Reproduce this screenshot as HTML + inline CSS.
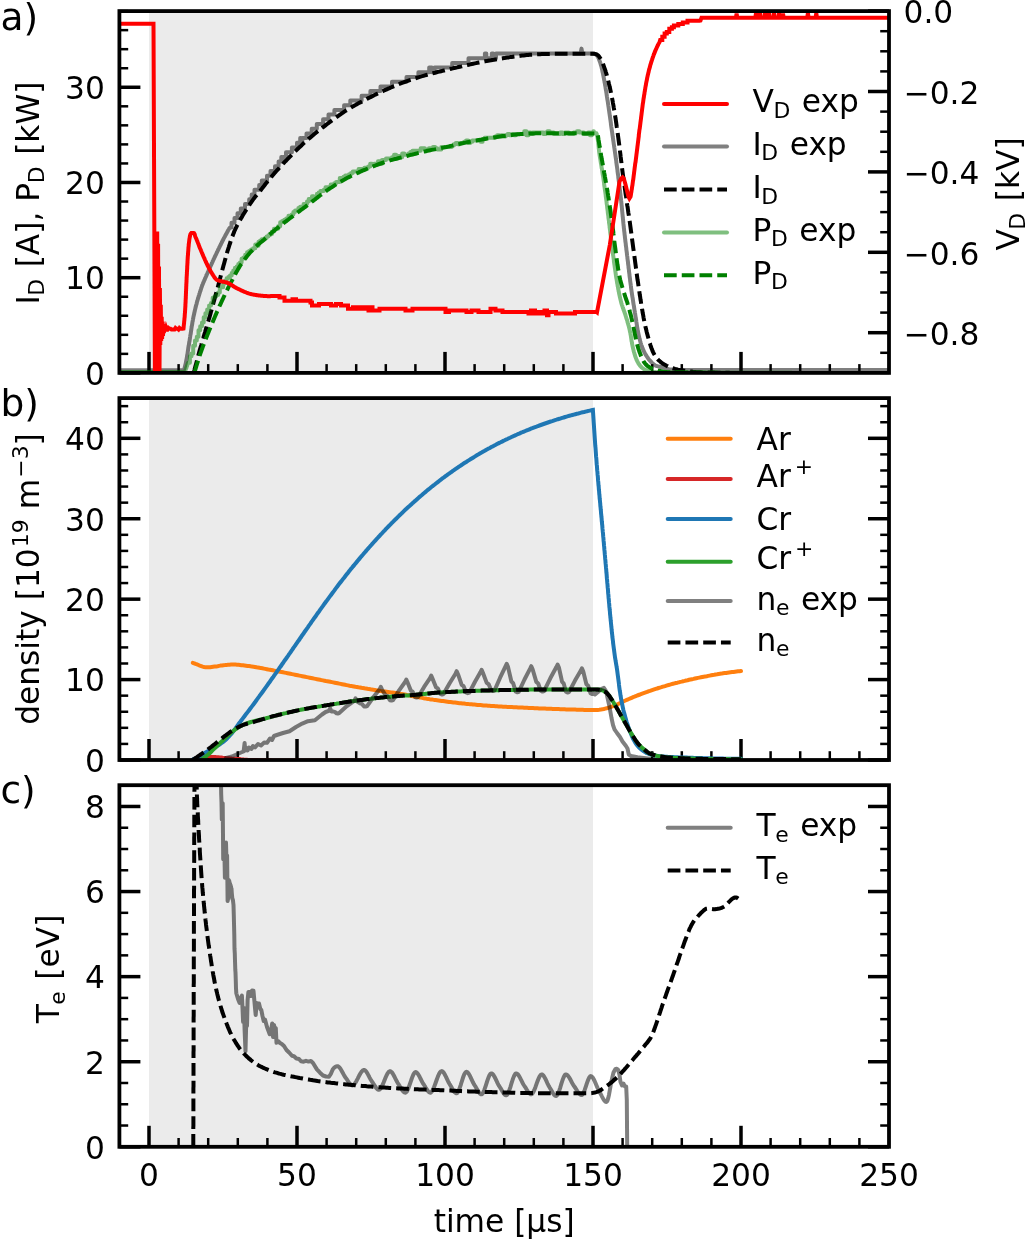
<!DOCTYPE html>
<html><head><meta charset="utf-8"><title>figure</title>
<style>html,body{margin:0;padding:0;background:#fff}svg{display:block}text{font-family:"DejaVu Sans","Liberation Sans",sans-serif;fill:#000}</style>
</head><body>
<svg width="1025" height="1239" viewBox="0 0 1025 1239">
<defs><clipPath id="clipa"><rect x="119.4" y="11.1" width="769.6" height="361.79999999999995"/></clipPath><clipPath id="clipb"><rect x="119.4" y="398.1" width="769.6" height="361.9"/></clipPath><clipPath id="clipc"><rect x="119.4" y="785.2" width="769.6" height="361.5999999999999"/></clipPath></defs>
<rect width="1025" height="1239" fill="#fff"/>
<rect x="149.00" y="11.10" width="444.00" height="361.80" fill="#ebebeb"/>
<line x1="149.00" x2="149.00" y1="372.90" y2="351.90" stroke="#000" stroke-width="3.5"/>
<line x1="178.60" x2="178.60" y1="372.90" y2="364.10" stroke="#000" stroke-width="2.5"/>
<line x1="208.20" x2="208.20" y1="372.90" y2="364.10" stroke="#000" stroke-width="2.5"/>
<line x1="237.80" x2="237.80" y1="372.90" y2="364.10" stroke="#000" stroke-width="2.5"/>
<line x1="267.40" x2="267.40" y1="372.90" y2="364.10" stroke="#000" stroke-width="2.5"/>
<line x1="297.00" x2="297.00" y1="372.90" y2="351.90" stroke="#000" stroke-width="3.5"/>
<line x1="326.60" x2="326.60" y1="372.90" y2="364.10" stroke="#000" stroke-width="2.5"/>
<line x1="356.20" x2="356.20" y1="372.90" y2="364.10" stroke="#000" stroke-width="2.5"/>
<line x1="385.80" x2="385.80" y1="372.90" y2="364.10" stroke="#000" stroke-width="2.5"/>
<line x1="415.40" x2="415.40" y1="372.90" y2="364.10" stroke="#000" stroke-width="2.5"/>
<line x1="445.00" x2="445.00" y1="372.90" y2="351.90" stroke="#000" stroke-width="3.5"/>
<line x1="474.60" x2="474.60" y1="372.90" y2="364.10" stroke="#000" stroke-width="2.5"/>
<line x1="504.20" x2="504.20" y1="372.90" y2="364.10" stroke="#000" stroke-width="2.5"/>
<line x1="533.80" x2="533.80" y1="372.90" y2="364.10" stroke="#000" stroke-width="2.5"/>
<line x1="563.40" x2="563.40" y1="372.90" y2="364.10" stroke="#000" stroke-width="2.5"/>
<line x1="593.00" x2="593.00" y1="372.90" y2="351.90" stroke="#000" stroke-width="3.5"/>
<line x1="622.60" x2="622.60" y1="372.90" y2="364.10" stroke="#000" stroke-width="2.5"/>
<line x1="652.20" x2="652.20" y1="372.90" y2="364.10" stroke="#000" stroke-width="2.5"/>
<line x1="681.80" x2="681.80" y1="372.90" y2="364.10" stroke="#000" stroke-width="2.5"/>
<line x1="711.40" x2="711.40" y1="372.90" y2="364.10" stroke="#000" stroke-width="2.5"/>
<line x1="741.00" x2="741.00" y1="372.90" y2="351.90" stroke="#000" stroke-width="3.5"/>
<line x1="770.60" x2="770.60" y1="372.90" y2="364.10" stroke="#000" stroke-width="2.5"/>
<line x1="800.20" x2="800.20" y1="372.90" y2="364.10" stroke="#000" stroke-width="2.5"/>
<line x1="829.80" x2="829.80" y1="372.90" y2="364.10" stroke="#000" stroke-width="2.5"/>
<line x1="859.40" x2="859.40" y1="372.90" y2="364.10" stroke="#000" stroke-width="2.5"/>
<line x1="119.40" x2="140.40" y1="372.90" y2="372.90" stroke="#000" stroke-width="3.5"/>
<line x1="119.40" x2="128.20" y1="353.86" y2="353.86" stroke="#000" stroke-width="2.5"/>
<line x1="119.40" x2="128.20" y1="334.82" y2="334.82" stroke="#000" stroke-width="2.5"/>
<line x1="119.40" x2="128.20" y1="315.77" y2="315.77" stroke="#000" stroke-width="2.5"/>
<line x1="119.40" x2="128.20" y1="296.73" y2="296.73" stroke="#000" stroke-width="2.5"/>
<line x1="119.40" x2="140.40" y1="277.69" y2="277.69" stroke="#000" stroke-width="3.5"/>
<line x1="119.40" x2="128.20" y1="258.65" y2="258.65" stroke="#000" stroke-width="2.5"/>
<line x1="119.40" x2="128.20" y1="239.61" y2="239.61" stroke="#000" stroke-width="2.5"/>
<line x1="119.40" x2="128.20" y1="220.56" y2="220.56" stroke="#000" stroke-width="2.5"/>
<line x1="119.40" x2="128.20" y1="201.52" y2="201.52" stroke="#000" stroke-width="2.5"/>
<line x1="119.40" x2="140.40" y1="182.48" y2="182.48" stroke="#000" stroke-width="3.5"/>
<line x1="119.40" x2="128.20" y1="163.44" y2="163.44" stroke="#000" stroke-width="2.5"/>
<line x1="119.40" x2="128.20" y1="144.39" y2="144.39" stroke="#000" stroke-width="2.5"/>
<line x1="119.40" x2="128.20" y1="125.35" y2="125.35" stroke="#000" stroke-width="2.5"/>
<line x1="119.40" x2="128.20" y1="106.31" y2="106.31" stroke="#000" stroke-width="2.5"/>
<line x1="119.40" x2="140.40" y1="87.27" y2="87.27" stroke="#000" stroke-width="3.5"/>
<line x1="119.40" x2="128.20" y1="68.23" y2="68.23" stroke="#000" stroke-width="2.5"/>
<line x1="119.40" x2="128.20" y1="49.18" y2="49.18" stroke="#000" stroke-width="2.5"/>
<line x1="119.40" x2="128.20" y1="30.14" y2="30.14" stroke="#000" stroke-width="2.5"/>
<line x1="119.40" x2="128.20" y1="11.10" y2="11.10" stroke="#000" stroke-width="2.5"/>
<text x="104.80" y="384.70" text-anchor="end" font-size="31.25">0</text>
<text x="104.80" y="289.49" text-anchor="end" font-size="31.25">10</text>
<text x="104.80" y="194.28" text-anchor="end" font-size="31.25">20</text>
<text x="104.80" y="99.07" text-anchor="end" font-size="31.25">30</text>
<line x1="889.00" x2="868.00" y1="11.10" y2="11.10" stroke="#000" stroke-width="3.5"/>
<text x="903.50" y="23.30" font-size="31.25">0.0</text>
<line x1="889.00" x2="880.20" y1="31.20" y2="31.20" stroke="#000" stroke-width="2.5"/>
<line x1="889.00" x2="880.20" y1="51.30" y2="51.30" stroke="#000" stroke-width="2.5"/>
<line x1="889.00" x2="880.20" y1="71.40" y2="71.40" stroke="#000" stroke-width="2.5"/>
<line x1="889.00" x2="868.00" y1="91.50" y2="91.50" stroke="#000" stroke-width="3.5"/>
<text x="903.50" y="103.70" font-size="31.25">−0.2</text>
<line x1="889.00" x2="880.20" y1="111.60" y2="111.60" stroke="#000" stroke-width="2.5"/>
<line x1="889.00" x2="880.20" y1="131.70" y2="131.70" stroke="#000" stroke-width="2.5"/>
<line x1="889.00" x2="880.20" y1="151.80" y2="151.80" stroke="#000" stroke-width="2.5"/>
<line x1="889.00" x2="868.00" y1="171.90" y2="171.90" stroke="#000" stroke-width="3.5"/>
<text x="903.50" y="184.10" font-size="31.25">−0.4</text>
<line x1="889.00" x2="880.20" y1="192.00" y2="192.00" stroke="#000" stroke-width="2.5"/>
<line x1="889.00" x2="880.20" y1="212.10" y2="212.10" stroke="#000" stroke-width="2.5"/>
<line x1="889.00" x2="880.20" y1="232.20" y2="232.20" stroke="#000" stroke-width="2.5"/>
<line x1="889.00" x2="868.00" y1="252.30" y2="252.30" stroke="#000" stroke-width="3.5"/>
<text x="903.50" y="264.50" font-size="31.25">−0.6</text>
<line x1="889.00" x2="880.20" y1="272.40" y2="272.40" stroke="#000" stroke-width="2.5"/>
<line x1="889.00" x2="880.20" y1="292.50" y2="292.50" stroke="#000" stroke-width="2.5"/>
<line x1="889.00" x2="880.20" y1="312.60" y2="312.60" stroke="#000" stroke-width="2.5"/>
<line x1="889.00" x2="868.00" y1="332.70" y2="332.70" stroke="#000" stroke-width="3.5"/>
<text x="903.50" y="344.90" font-size="31.25">−0.8</text>
<line x1="889.00" x2="880.20" y1="352.80" y2="352.80" stroke="#000" stroke-width="2.5"/>
<line x1="889.00" x2="880.20" y1="372.90" y2="372.90" stroke="#000" stroke-width="2.5"/>
<g clip-path="url(#clipa)"><path d="M119.4,370.3 L120.5,370.3 L121.6,370.3 L122.7,370.3 L123.8,370.3 L124.9,370.3 L125.9,370.3 L127.0,370.3 L128.0,370.3 L129.1,370.3 L130.1,370.3 L131.1,370.3 L132.1,370.3 L133.1,370.3 L134.1,370.3 L135.1,370.3 L136.0,370.3 L137.0,370.3 L137.9,370.3 L138.9,370.3 L139.8,370.3 L140.7,370.3 L141.6,370.3 L142.5,370.3 L143.4,370.3 L144.3,370.3 L145.2,370.3 L146.0,370.3 L146.9,370.3 L147.7,370.3 L148.6,370.3 L149.4,370.3 L150.2,370.3 L151.0,370.3 L151.8,370.3 L152.6,370.3 L153.4,370.3 L154.1,370.3 L154.9,370.3 L155.6,370.3 L156.4,370.3 L157.1,370.3 L157.9,370.3 L158.6,370.3 L159.3,370.3 L160.0,370.3 L160.7,370.3 L161.3,370.3 L162.0,370.3 L162.7,370.3 L163.3,370.3 L164.0,370.3 L164.6,370.3 L165.3,370.3 L165.9,370.3 L166.5,370.3 L167.1,370.3 L167.7,370.3 L168.3,370.3 L168.9,370.3 L169.4,370.3 L170.0,370.3 L170.6,370.3 L171.1,370.3 L171.6,370.3 L172.2,370.3 L172.7,370.3 L173.2,370.3 L173.7,370.3 L174.2,370.3 L174.7,370.3 L175.2,370.3 L175.7,370.3 L176.2,370.3 L176.6,370.3 L177.1,370.3 L177.5,370.3 L178.0,370.3 L178.4,370.3 L178.8,370.3 L179.2,370.3 L179.6,370.3 L180.0,370.3 L180.4,370.3 L180.8,370.3 L181.2,370.3 L181.6,370.3 L181.9,370.3 L182.3,370.3 L182.6,370.3 L183.0,370.3 L183.3,370.3 L183.7,370.2 L184.0,369.8 L184.2,369.1 L184.5,368.3 L184.7,367.4 L184.9,366.7 L185.1,366.1 L185.2,365.4 L185.4,364.7 L185.6,364.0 L185.7,363.4 L185.9,362.7 L186.0,362.0 L186.1,361.3 L186.3,360.6 L186.4,359.9 L186.5,359.3 L186.7,358.6 L186.8,357.9 L186.9,357.2 L187.0,356.5 L187.1,355.8 L187.2,355.1 L187.4,354.4 L187.5,353.7 L187.6,353.0 L187.7,352.3 L187.8,351.6 L187.9,350.9 L188.0,350.2 L188.1,349.5 L188.2,348.8 L188.3,348.1 L188.4,347.4 L188.5,346.7 L188.6,346.0 L188.8,345.4 L188.9,344.7 L189.0,344.0 L189.1,343.3 L189.2,342.6 L189.3,341.9 L189.5,341.2 L189.6,340.5 L189.7,339.8 L189.8,339.1 L189.9,338.4 L190.0,337.7 L190.1,337.1 L190.2,336.4 L190.3,335.7 L190.4,335.0 L190.6,334.3 L190.7,333.6 L190.8,332.9 L190.9,332.2 L191.0,331.5 L191.1,330.8 L191.2,330.1 L191.3,329.4 L191.4,328.7 L191.5,328.0 L191.6,327.3 L191.7,326.7 L191.8,326.0 L192.0,325.3 L192.1,324.6 L192.2,323.9 L192.3,323.2 L192.4,322.5 L192.5,321.8 L192.7,321.1 L192.8,320.4 L192.9,319.8 L193.0,319.1 L193.2,318.4 L193.3,317.7 L193.4,317.0 L193.6,316.3 L193.7,315.6 L193.9,315.0 L194.0,314.3 L194.2,313.6 L194.3,312.9 L194.5,312.2 L194.6,311.5 L194.8,310.9 L194.9,310.2 L195.1,309.5 L195.3,308.8 L195.4,308.1 L195.6,307.5 L195.8,306.8 L195.9,306.1 L196.1,305.4 L196.3,304.7 L196.5,304.1 L196.7,303.4 L196.8,302.7 L197.0,302.0 L197.2,301.3 L197.4,300.7 L197.6,300.0 L197.8,299.3 L198.0,298.6 L198.2,298.0 L198.4,297.3 L198.6,296.6 L198.8,295.9 L199.0,295.3 L199.2,294.6 L199.4,293.9 L199.6,293.3 L199.8,292.6 L200.0,291.9 L200.3,291.3 L200.5,290.6 L200.7,289.9 L200.9,289.3 L201.1,288.6 L201.3,288.0 L201.6,287.3 L201.8,286.6 L202.0,286.0 L202.3,285.3 L202.5,284.7 L202.8,284.0 L203.0,283.4 L203.3,282.7 L203.6,282.1 L203.8,281.4 L204.1,280.8 L204.4,280.1 L204.7,279.5 L204.9,278.9 L205.2,278.2 L205.5,277.6 L205.8,276.9 L206.1,276.3 L206.4,275.6 L206.6,275.0 L206.9,274.4 L207.2,273.7 L207.5,273.1 L207.8,272.4 L208.1,271.8 L208.4,271.2 L208.6,270.5 L208.9,269.9 L209.2,269.2 L209.5,268.6 L209.8,267.9 L210.1,267.3 L210.3,266.7 L210.6,266.0 L210.9,265.4 L211.2,264.7 L211.5,264.1 L211.8,263.5 L212.1,262.8 L212.4,262.2 L212.6,261.6 L212.9,260.9 L213.2,260.3 L213.5,259.6 L213.8,259.0 L214.1,258.4 L214.4,257.7 L214.7,257.1 L215.0,256.5 L215.3,255.8 L215.6,255.2 L215.9,254.6 L216.2,253.9 L216.5,253.3 L216.8,252.7 L217.1,252.0 L217.4,251.4 L217.7,250.8 L218.0,250.1 L218.3,249.5 L218.6,248.9 L218.9,248.3 L219.2,247.6 L219.5,247.0 L219.8,246.4 L220.1,245.7 L220.5,245.1 L220.8,244.5 L221.1,243.8 L221.4,243.2 L221.7,242.6 L222.0,242.0 L222.3,241.3 L222.6,240.7 L223.0,240.1 L223.3,239.5 L223.6,238.8 L223.9,238.2 L224.2,237.6 L224.6,237.0 L224.9,236.4 L225.2,235.7 L225.6,235.1 L225.9,234.5 L226.2,233.9 L226.6,233.3 L226.9,232.7 L227.3,232.1 L227.6,231.5 L227.9,230.8 L228.3,230.2 L228.6,229.6 L229.0,229.0 L229.3,228.4 L229.7,227.8 L230.1,227.4 L230.4,227.4 L230.8,227.4 L231.1,227.4 L231.5,227.4 L231.5,222.7 L231.9,222.7 L232.2,222.7 L232.6,222.7 L233.0,222.7 L233.3,222.7 L233.7,222.7 L234.1,222.7 L234.5,222.7 L234.5,218.0 L234.8,218.0 L235.2,218.0 L235.6,218.0 L236.0,218.0 L236.4,218.0 L236.8,218.0 L237.1,218.0 L237.5,218.0 L237.5,213.3 L237.9,213.3 L238.3,213.3 L238.7,213.3 L239.1,213.3 L239.5,213.3 L239.9,213.3 L240.4,213.3 L240.8,213.3 L240.8,208.6 L241.2,208.6 L241.6,208.6 L242.1,208.6 L242.5,208.6 L242.9,208.6 L243.3,208.6 L243.8,208.6 L244.2,208.6 L244.6,208.6 L245.0,208.6 L245.0,203.9 L245.5,203.9 L245.9,203.9 L246.3,203.9 L246.7,203.9 L247.1,203.9 L247.4,203.9 L247.8,203.9 L248.2,203.9 L248.5,203.9 L248.9,203.9 L249.2,203.9 L249.2,199.2 L249.6,199.2 L250.0,199.2 L250.4,199.2 L250.8,199.2 L251.2,199.2 L251.7,199.2 L251.7,194.5 L252.1,194.5 L252.6,194.5 L253.1,194.5 L253.5,194.5 L254.0,194.5 L254.5,194.5 L254.5,189.8 L255.0,189.8 L255.5,189.8 L256.0,189.8 L256.5,189.8 L256.9,189.8 L257.4,189.8 L257.9,189.8 L258.3,189.8 L258.8,189.8 L259.2,189.8 L259.2,185.1 L259.6,185.1 L260.1,185.1 L260.5,185.1 L261.0,185.1 L261.4,185.1 L261.8,185.1 L261.8,180.4 L262.3,180.4 L262.7,180.4 L262.7,185.1 L263.1,185.1 L263.5,185.1 L263.5,180.4 L264.0,180.4 L264.4,180.4 L264.8,180.4 L265.3,180.4 L265.7,180.4 L266.1,180.4 L266.6,180.4 L267.0,180.4 L267.0,175.7 L267.4,175.7 L267.9,175.7 L268.3,175.7 L268.7,175.7 L269.2,175.7 L269.6,175.7 L270.1,175.7 L270.5,175.7 L270.5,171.0 L271.0,171.0 L271.4,171.0 L271.8,171.0 L272.3,171.0 L272.7,171.0 L273.2,171.0 L273.6,171.0 L274.1,171.0 L274.5,171.0 L275.0,171.0 L275.0,166.3 L275.4,166.3 L275.9,166.3 L276.3,166.3 L276.8,166.3 L277.2,166.3 L277.7,166.3 L278.1,166.3 L278.6,166.3 L278.6,161.6 L279.0,161.6 L279.5,161.6 L279.9,161.6 L280.4,161.6 L280.9,161.6 L281.3,161.6 L281.3,156.9 L281.8,156.9 L282.2,156.9 L282.2,161.6 L282.7,161.6 L283.2,161.6 L283.2,156.9 L283.6,156.9 L284.1,156.9 L284.6,156.9 L285.1,156.9 L285.5,156.9 L286.0,156.9 L286.0,152.2 L286.5,152.2 L287.0,152.2 L287.4,152.2 L287.9,152.2 L288.4,152.2 L288.9,152.2 L289.4,152.2 L289.9,152.2 L290.4,152.2 L290.9,152.2 L291.4,152.2 L291.9,152.2 L291.9,147.5 L292.4,147.5 L292.9,147.5 L293.4,147.5 L293.9,147.5 L294.4,147.5 L294.9,147.5 L295.4,147.5 L296.0,147.5 L296.5,147.5 L297.0,147.5 L297.0,142.8 L297.5,142.8 L298.0,142.8 L298.6,142.8 L299.1,142.8 L299.6,142.8 L300.2,142.8 L300.2,138.1 L300.7,138.1 L301.2,138.1 L301.2,142.8 L301.7,142.8 L302.3,142.8 L302.3,138.1 L302.8,138.1 L303.3,138.1 L303.9,138.1 L304.4,138.1 L304.9,138.1 L305.4,138.1 L306.0,138.1 L306.5,138.1 L306.5,133.4 L307.0,133.4 L307.5,133.4 L308.1,133.4 L308.6,133.4 L309.1,133.4 L309.6,133.4 L310.1,133.4 L310.7,133.4 L311.2,133.4 L311.7,133.4 L311.7,128.7 L312.2,128.7 L312.7,128.7 L313.2,128.7 L313.7,128.7 L314.2,128.7 L314.8,128.7 L315.3,128.7 L315.8,128.7 L316.3,128.7 L316.8,128.7 L316.8,124.0 L317.3,124.0 L317.8,124.0 L318.4,124.0 L318.9,124.0 L319.4,124.0 L319.9,124.0 L320.4,124.0 L320.9,124.0 L321.5,124.0 L322.0,124.0 L322.5,124.0 L323.1,124.0 L323.1,119.3 L323.6,119.3 L324.1,119.3 L324.7,119.3 L325.2,119.3 L325.8,119.3 L326.3,119.3 L326.9,119.3 L327.4,119.3 L328.0,119.3 L328.5,119.3 L328.5,114.6 L329.1,114.6 L329.7,114.6 L330.2,114.6 L330.8,114.6 L331.4,114.6 L332.0,114.6 L332.6,114.6 L333.2,114.6 L333.8,114.6 L334.4,114.6 L334.4,109.9 L335.0,109.9 L335.6,109.9 L336.2,109.9 L336.8,109.9 L337.4,109.9 L338.0,109.9 L338.6,109.9 L339.2,109.9 L339.8,109.9 L340.4,109.9 L341.0,109.9 L341.7,109.9 L342.3,109.9 L342.9,109.9 L343.5,109.9 L344.1,109.9 L344.1,105.2 L344.7,105.2 L345.4,105.2 L346.0,105.2 L346.6,105.2 L347.2,105.2 L347.8,105.2 L348.4,105.2 L349.0,105.2 L349.7,105.2 L350.3,105.2 L350.3,100.5 L350.9,100.5 L351.5,100.5 L352.1,100.5 L352.8,100.5 L353.4,100.5 L354.0,100.5 L354.6,100.5 L355.3,100.5 L355.9,100.5 L356.5,100.5 L357.1,100.5 L357.8,100.5 L358.4,100.5 L359.0,100.5 L359.7,100.5 L360.3,100.5 L360.9,100.5 L361.6,100.5 L361.6,95.8 L362.2,95.8 L362.8,95.8 L363.4,95.8 L364.1,95.8 L364.7,95.8 L365.3,95.8 L366.0,95.8 L366.6,95.8 L367.2,95.8 L367.9,95.8 L368.5,95.8 L369.1,95.8 L369.7,95.8 L370.4,95.8 L370.4,91.1 L371.0,91.1 L371.6,91.1 L372.3,91.1 L372.9,91.1 L373.5,91.1 L374.2,91.1 L374.8,91.1 L375.4,91.1 L376.0,91.1 L376.7,91.1 L377.3,91.1 L377.9,91.1 L378.6,91.1 L379.2,91.1 L379.8,91.1 L380.5,91.1 L380.5,86.4 L381.1,86.4 L381.7,86.4 L382.4,86.4 L383.0,86.4 L383.7,86.4 L384.3,86.4 L384.9,86.4 L385.6,86.4 L386.2,86.4 L386.9,86.4 L387.5,86.4 L388.2,86.4 L388.8,86.4 L389.4,86.4 L390.1,86.4 L390.7,86.4 L391.4,86.4 L392.0,86.4 L392.0,81.7 L392.7,81.7 L393.3,81.7 L394.0,81.7 L394.6,81.7 L395.3,81.7 L395.9,81.7 L396.6,81.7 L397.3,81.7 L397.9,81.7 L398.6,81.7 L399.2,81.7 L399.9,81.7 L400.5,81.7 L401.2,81.7 L401.8,81.7 L402.5,81.7 L403.2,81.7 L403.8,81.7 L404.5,81.7 L405.1,81.7 L405.8,81.7 L406.5,81.7 L406.5,77.0 L407.1,77.0 L407.8,77.0 L408.4,77.0 L409.1,77.0 L409.8,77.0 L410.4,77.0 L411.1,77.0 L411.8,77.0 L412.4,77.0 L413.1,77.0 L413.8,77.0 L414.4,77.0 L415.1,77.0 L415.8,77.0 L416.4,77.0 L417.1,77.0 L417.8,77.0 L418.4,77.0 L418.4,72.3 L419.1,72.3 L419.8,72.3 L420.4,72.3 L421.1,72.3 L421.8,72.3 L422.5,72.3 L423.1,72.3 L423.8,72.3 L424.5,72.3 L425.1,72.3 L425.8,72.3 L426.5,72.3 L427.2,72.3 L427.8,72.3 L428.5,72.3 L429.2,72.3 L429.2,67.6 L429.9,67.6 L430.5,67.6 L431.2,67.6 L431.9,67.6 L431.9,72.3 L432.6,72.3 L433.2,72.3 L433.9,72.3 L434.6,72.3 L434.6,67.6 L435.3,67.6 L435.9,67.6 L436.6,67.6 L437.3,67.6 L438.0,67.6 L438.7,67.6 L439.3,67.6 L440.0,67.6 L440.7,67.6 L441.4,67.6 L442.0,67.6 L442.7,67.6 L443.4,67.6 L444.1,67.6 L444.8,67.6 L445.4,67.6 L446.1,67.6 L446.8,67.6 L447.5,67.6 L448.2,67.6 L448.8,67.6 L449.5,67.6 L450.2,67.6 L450.9,67.6 L451.5,67.6 L452.2,67.6 L452.2,62.9 L452.9,62.9 L453.6,62.9 L454.2,62.9 L454.9,62.9 L455.6,62.9 L456.3,62.9 L457.0,62.9 L457.6,62.9 L458.3,62.9 L459.0,62.9 L459.7,62.9 L460.3,62.9 L461.0,62.9 L461.7,62.9 L462.4,62.9 L463.1,62.9 L463.7,62.9 L464.4,62.9 L465.1,62.9 L465.8,62.9 L466.5,62.9 L467.1,62.9 L467.8,62.9 L468.5,62.9 L468.5,58.2 L469.2,58.2 L469.9,58.2 L470.5,58.2 L471.2,58.2 L471.9,58.2 L472.6,58.2 L473.3,58.2 L473.9,58.2 L474.6,58.2 L475.3,58.2 L476.0,58.2 L476.7,58.2 L477.4,58.2 L478.0,58.2 L478.7,58.2 L479.4,58.2 L480.1,58.2 L480.8,58.2 L481.5,58.2 L482.2,58.2 L482.9,58.2 L483.5,58.2 L484.2,58.2 L484.9,58.2 L484.9,53.5 L485.6,53.5 L486.3,53.5 L486.3,58.2 L487.0,58.2 L487.7,58.2 L488.4,58.2 L489.1,58.2 L489.8,58.2 L490.5,58.2 L491.2,58.2 L491.8,58.2 L491.8,53.5 L492.5,53.5 L493.2,53.5 L493.2,58.2 L493.9,58.2 L494.6,58.2 L495.3,58.2 L496.0,58.2 L496.0,53.5 L496.7,53.5 L497.4,53.5 L498.1,53.5 L498.8,53.5 L499.5,53.5 L500.2,53.5 L500.9,53.5 L501.6,53.5 L502.3,53.5 L503.0,53.5 L503.7,53.5 L504.4,53.5 L505.1,53.5 L505.8,53.5 L506.5,53.5 L507.2,53.5 L507.9,53.5 L508.6,53.5 L509.3,53.5 L510.0,53.5 L510.7,53.5 L511.4,53.5 L512.1,53.5 L512.8,53.5 L513.5,53.5 L514.2,53.5 L514.9,53.5 L515.6,53.5 L516.3,53.5 L516.9,53.5 L517.6,53.5 L518.3,53.5 L519.0,53.5 L519.7,53.5 L520.4,53.5 L521.1,53.5 L521.8,53.5 L522.5,53.5 L523.2,53.5 L524.0,53.5 L524.7,53.5 L525.4,53.5 L526.1,53.5 L526.8,53.5 L527.5,53.5 L528.2,53.5 L528.9,53.5 L529.6,53.5 L530.3,53.5 L531.0,53.5 L531.7,53.5 L532.4,53.5 L533.1,53.5 L533.8,53.5 L534.5,53.5 L535.2,53.5 L535.9,53.5 L536.6,53.5 L537.3,53.5 L538.0,53.5 L538.7,53.5 L539.4,53.5 L540.1,53.5 L540.8,53.5 L541.5,53.5 L542.2,53.5 L542.9,53.5 L543.6,53.5 L544.3,53.5 L545.0,53.5 L545.7,53.5 L546.4,53.5 L547.1,53.5 L547.8,53.5 L548.5,53.5 L549.2,53.5 L549.9,53.5 L550.6,53.5 L551.3,53.5 L552.0,53.5 L552.8,53.5 L553.5,53.5 L554.2,53.5 L554.9,53.5 L555.6,53.5 L556.3,53.5 L557.0,53.5 L557.7,53.5 L558.4,53.5 L559.1,53.5 L559.8,53.5 L560.5,53.5 L561.3,53.5 L562.0,53.5 L562.7,53.5 L563.4,53.5 L564.1,53.5 L564.8,53.5 L565.5,53.5 L566.2,53.5 L566.9,53.5 L567.6,53.5 L568.3,53.5 L569.0,53.5 L569.7,53.5 L570.4,53.5 L571.1,53.5 L571.8,53.5 L572.5,53.5 L573.3,53.5 L574.0,53.5 L574.7,53.5 L575.4,53.5 L576.1,53.5 L576.8,53.5 L577.5,53.5 L578.2,53.5 L578.8,53.5 L579.5,53.5 L580.2,53.5 L580.9,53.5 L580.6,53.5 L581.5,48.6 L582.4,53.5 L583.0,53.5 L583.7,53.5 L584.4,53.5 L585.1,53.5 L585.8,53.5 L586.5,53.5 L587.1,53.5 L587.8,53.5 L588.5,53.5 L589.2,53.5 L589.9,53.5 L590.6,53.5 L591.2,53.5 L591.9,53.5 L592.6,53.5 L593.3,53.5 L594.0,53.8 L594.8,54.0 L595.4,54.3 L596.0,54.6 L596.4,55.0 L596.9,55.4 L597.3,55.9 L597.6,56.4 L598.0,57.1 L598.3,57.7 L598.7,58.4 L599.0,59.1 L599.2,59.9 L599.5,60.6 L599.7,61.3 L600.0,61.9 L600.2,62.6 L600.4,63.2 L600.6,63.9 L600.8,64.6 L601.0,65.2 L601.2,65.9 L601.4,66.6 L601.6,67.3 L601.7,67.9 L601.9,68.6 L602.0,69.3 L602.2,70.0 L602.3,70.7 L602.5,71.4 L602.6,72.1 L602.8,72.8 L602.9,73.5 L603.1,74.2 L603.2,74.8 L603.3,75.5 L603.5,76.2 L603.6,76.9 L603.7,77.6 L603.9,78.3 L604.0,79.0 L604.1,79.7 L604.3,80.4 L604.4,81.0 L604.5,81.7 L604.6,82.4 L604.8,83.1 L604.9,83.8 L605.0,84.5 L605.1,85.2 L605.3,85.9 L605.4,86.6 L605.5,87.3 L605.6,87.9 L605.7,88.6 L605.8,89.3 L605.9,90.0 L606.1,90.7 L606.2,91.4 L606.3,92.1 L606.4,92.8 L606.5,93.5 L606.6,94.2 L606.7,94.9 L606.8,95.6 L606.9,96.3 L607.0,96.9 L607.1,97.6 L607.2,98.3 L607.3,99.0 L607.4,99.7 L607.6,100.4 L607.7,101.1 L607.8,101.8 L607.9,102.5 L608.0,103.2 L608.1,103.9 L608.2,104.6 L608.3,105.3 L608.4,105.9 L608.5,106.6 L608.6,107.3 L608.7,108.0 L608.8,108.7 L608.9,109.4 L609.0,110.1 L609.1,110.8 L609.2,111.5 L609.3,112.2 L609.4,112.9 L609.5,113.6 L609.6,114.3 L609.7,115.0 L609.8,115.7 L609.9,116.3 L610.0,117.0 L610.1,117.7 L610.2,118.4 L610.3,119.1 L610.4,119.8 L610.5,120.5 L610.6,121.2 L610.7,121.9 L610.8,122.6 L610.9,123.3 L610.9,124.0 L611.0,124.7 L611.1,125.4 L611.2,126.1 L611.3,126.8 L611.4,127.4 L611.5,128.1 L611.6,128.8 L611.7,129.5 L611.8,130.2 L611.9,130.9 L612.0,131.6 L612.1,132.3 L612.2,133.0 L612.3,133.7 L612.4,134.4 L612.5,135.1 L612.6,135.8 L612.7,136.5 L612.8,137.2 L612.9,137.8 L613.0,138.5 L613.1,139.2 L613.2,139.9 L613.3,140.6 L613.4,141.3 L613.5,142.0 L613.6,142.7 L613.7,143.4 L613.8,144.1 L613.9,144.8 L614.0,145.5 L614.1,146.2 L614.2,146.9 L614.3,147.6 L614.4,148.2 L614.5,148.9 L614.6,149.6 L614.7,150.3 L614.8,151.0 L614.9,151.7 L615.0,152.4 L615.1,153.1 L615.2,153.8 L615.3,154.5 L615.4,155.2 L615.5,155.9 L615.6,156.6 L615.7,157.3 L615.8,158.0 L615.9,158.7 L616.0,159.3 L616.1,160.0 L616.2,160.7 L616.3,161.4 L616.3,162.1 L616.4,162.8 L616.5,163.5 L616.6,164.2 L616.7,164.9 L616.8,165.6 L616.9,166.3 L617.0,167.0 L617.1,167.7 L617.2,168.4 L617.3,169.1 L617.4,169.8 L617.5,170.5 L617.5,171.1 L617.6,171.8 L617.7,172.5 L617.8,173.2 L617.9,173.9 L618.0,174.6 L618.1,175.3 L618.2,176.0 L618.3,176.7 L618.3,177.4 L618.4,178.1 L618.5,178.8 L618.6,179.5 L618.7,180.2 L618.8,180.9 L618.9,181.6 L619.0,182.3 L619.0,183.0 L619.1,183.7 L619.2,184.4 L619.3,185.0 L619.4,185.7 L619.5,186.4 L619.6,187.1 L619.6,187.8 L619.7,188.5 L619.8,189.2 L619.9,189.9 L620.0,190.6 L620.1,191.3 L620.1,192.0 L620.2,192.7 L620.3,193.4 L620.4,194.1 L620.5,194.8 L620.6,195.5 L620.6,196.2 L620.7,196.9 L620.8,197.6 L620.9,198.3 L621.0,199.0 L621.0,199.7 L621.1,200.4 L621.2,201.0 L621.3,201.7 L621.3,202.4 L621.4,203.1 L621.5,203.8 L621.5,204.5 L621.6,205.2 L621.7,205.9 L621.8,206.6 L621.8,207.3 L621.9,208.0 L622.0,208.7 L622.0,209.4 L622.1,210.1 L622.2,210.8 L622.2,211.5 L622.3,212.2 L622.4,212.9 L622.4,213.6 L622.5,214.3 L622.6,215.0 L622.6,215.7 L622.7,216.4 L622.8,217.1 L622.9,217.8 L622.9,218.5 L623.0,219.2 L623.1,219.9 L623.1,220.6 L623.2,221.3 L623.3,222.0 L623.3,222.7 L623.4,223.4 L623.5,224.0 L623.5,224.7 L623.6,225.4 L623.7,226.1 L623.8,226.8 L623.8,227.5 L623.9,228.2 L624.0,228.9 L624.1,229.6 L624.1,230.3 L624.2,231.0 L624.3,231.7 L624.4,232.4 L624.5,233.1 L624.5,233.8 L624.6,234.5 L624.7,235.2 L624.8,235.9 L624.9,236.6 L624.9,237.3 L625.0,238.0 L625.1,238.7 L625.2,239.4 L625.3,240.1 L625.3,240.8 L625.4,241.4 L625.5,242.1 L625.6,242.8 L625.7,243.5 L625.8,244.2 L625.8,244.9 L625.9,245.6 L626.0,246.3 L626.1,247.0 L626.2,247.7 L626.3,248.4 L626.3,249.1 L626.4,249.8 L626.5,250.5 L626.6,251.2 L626.7,251.9 L626.8,252.6 L626.9,253.3 L626.9,254.0 L627.0,254.7 L627.1,255.4 L627.2,256.1 L627.3,256.7 L627.4,257.4 L627.4,258.1 L627.5,258.8 L627.6,259.5 L627.7,260.2 L627.8,260.9 L627.9,261.6 L628.0,262.3 L628.0,263.0 L628.1,263.7 L628.2,264.4 L628.3,265.1 L628.4,265.8 L628.5,266.5 L628.5,267.2 L628.6,267.9 L628.7,268.6 L628.8,269.3 L628.9,270.0 L629.0,270.7 L629.0,271.4 L629.1,272.0 L629.2,272.7 L629.3,273.4 L629.4,274.1 L629.5,274.8 L629.5,275.5 L629.6,276.2 L629.7,276.9 L629.8,277.6 L629.9,278.3 L630.0,279.0 L630.1,279.7 L630.1,280.4 L630.2,281.1 L630.3,281.8 L630.4,282.5 L630.5,283.2 L630.6,283.9 L630.7,284.6 L630.8,285.3 L630.9,285.9 L631.0,286.6 L631.0,287.3 L631.1,288.0 L631.2,288.7 L631.3,289.4 L631.4,290.1 L631.5,290.8 L631.6,291.5 L631.7,292.2 L631.8,292.9 L631.9,293.6 L632.0,294.3 L632.1,295.0 L632.2,295.7 L632.3,296.3 L632.4,297.0 L632.6,297.7 L632.7,298.4 L632.8,299.1 L632.9,299.8 L633.0,300.5 L633.1,301.2 L633.2,301.9 L633.3,302.6 L633.4,303.3 L633.5,304.0 L633.6,304.7 L633.8,305.3 L633.9,306.0 L634.0,306.7 L634.1,307.4 L634.2,308.1 L634.3,308.8 L634.4,309.5 L634.5,310.2 L634.6,310.9 L634.8,311.6 L634.9,312.3 L635.0,312.9 L635.1,313.6 L635.2,314.3 L635.3,315.0 L635.4,315.7 L635.5,316.4 L635.6,317.1 L635.8,317.8 L635.9,318.5 L636.0,319.2 L636.1,319.9 L636.2,320.6 L636.3,321.3 L636.4,322.0 L636.5,322.6 L636.6,323.3 L636.7,324.0 L636.8,324.7 L636.9,325.4 L637.0,326.1 L637.1,326.8 L637.3,327.5 L637.4,328.2 L637.5,328.9 L637.6,329.6 L637.7,330.3 L637.9,330.9 L638.0,331.6 L638.1,332.3 L638.3,333.0 L638.4,333.7 L638.6,334.4 L638.7,335.0 L638.9,335.7 L639.0,336.4 L639.2,337.1 L639.3,337.8 L639.5,338.5 L639.7,339.2 L639.9,339.8 L640.0,340.5 L640.2,341.2 L640.4,341.9 L640.6,342.6 L640.8,343.2 L641.0,343.9 L641.2,344.6 L641.4,345.2 L641.7,345.9 L641.9,346.5 L642.1,347.2 L642.4,347.8 L642.6,348.5 L642.9,349.1 L643.2,349.8 L643.4,350.4 L643.7,351.1 L644.1,351.7 L644.4,352.3 L644.7,352.9 L645.1,353.6 L645.4,354.2 L645.8,354.8 L646.1,355.4 L646.5,356.0 L646.9,356.5 L647.3,357.1 L647.7,357.7 L648.1,358.3 L648.5,358.9 L648.9,359.4 L649.4,360.0 L649.8,360.5 L650.3,361.0 L650.7,361.5 L651.2,362.0 L651.7,362.5 L652.2,363.1 L652.7,363.6 L653.3,364.1 L653.8,364.5 L654.4,364.9 L655.0,365.3 L655.6,365.6 L656.2,365.8 L656.8,366.0 L657.5,366.2 L658.1,366.4 L658.8,366.6 L659.5,366.7 L660.2,366.9 L660.9,367.0 L661.6,367.2 L662.3,367.3 L663.0,367.5 L663.7,367.7 L664.4,367.9 L665.1,368.1 L665.7,368.3 L666.4,368.5 L667.1,368.7 L667.8,368.9 L668.4,369.1 L669.1,369.3 L669.8,369.4 L670.5,369.5 L671.2,369.6 L671.9,369.6 L672.6,369.7 L673.2,369.7 L673.9,369.7 L674.6,369.8 L675.3,369.8 L676.0,369.8 L676.7,369.9 L677.4,369.9 L678.1,369.9 L678.8,369.9 L679.6,369.9 L680.3,370.0 L681.0,370.0 L681.7,370.0 L682.4,370.0 L683.1,370.0 L683.8,370.0 L684.5,370.0 L685.2,370.0 L685.9,370.0 L686.6,370.0 L687.3,370.0 L688.0,370.0 L688.7,370.0 L689.4,370.0 L690.1,370.0 L690.8,370.0 L691.5,370.0 L692.2,370.0 L692.9,370.0 L693.6,370.0 L694.3,370.0 L695.0,370.0 L695.7,370.0 L696.4,370.0 L697.1,370.0 L697.8,370.0 L698.5,370.0 L699.2,370.0 L699.9,370.0 L700.6,370.0 L701.3,370.0 L702.0,370.0 L702.7,370.0 L703.4,370.0 L704.1,370.0 L704.8,370.0 L705.5,370.0 L706.2,370.0 L706.9,370.0 L707.6,370.0 L708.3,370.0 L709.0,370.0 L709.7,370.0 L710.4,370.0 L711.1,370.0 L711.8,370.0 L712.5,370.0 L713.2,370.0 L713.9,370.0 L714.6,370.0 L715.3,370.0 L716.0,370.0 L716.7,370.0 L717.4,370.0 L718.1,370.0 L718.8,370.0 L719.5,370.0 L720.2,370.0 L720.9,370.0 L721.6,370.0 L722.3,370.0 L723.0,370.0 L723.7,370.0 L724.4,370.0 L725.1,370.0 L725.8,370.0 L726.5,370.0 L727.2,370.0 L727.9,370.0 L728.6,370.0 L729.3,370.0 L730.0,370.0 L730.7,370.0 L731.4,370.0 L732.1,370.0 L732.8,370.0 L733.5,370.0 L734.2,370.0 L734.9,370.0 L735.6,370.0 L736.3,370.0 L737.0,370.0 L737.7,370.0 L738.4,370.0 L739.1,370.0 L739.8,370.0 L740.5,370.0 L741.2,370.0 L741.9,370.0 L742.6,370.0 L743.3,370.0 L744.0,370.0 L744.7,370.0 L745.4,370.0 L746.1,370.0 L746.8,370.0 L747.5,370.0 L748.2,370.0 L748.9,370.0 L749.6,370.0 L750.3,370.0 L751.0,370.0 L751.7,370.0 L752.4,370.0 L753.1,370.0 L753.8,370.0 L754.5,370.0 L755.2,370.0 L755.9,370.0 L756.6,370.0 L757.3,370.0 L758.0,370.0 L758.7,370.0 L759.4,370.0 L760.1,370.0 L760.8,370.0 L761.5,370.0 L762.2,370.0 L762.9,370.0 L763.6,370.0 L764.3,370.0 L765.0,370.0 L765.7,370.0 L766.4,370.0 L767.1,370.0 L767.8,370.0 L768.5,370.0 L769.2,370.0 L769.9,370.0 L770.6,370.0 L771.3,370.0 L772.0,370.0 L772.7,370.0 L773.4,370.0 L774.1,370.0 L774.8,370.0 L775.5,370.0 L776.2,370.0 L776.9,370.0 L777.6,370.0 L778.3,370.0 L779.0,370.0 L779.7,370.0 L780.4,370.0 L781.1,370.0 L781.8,370.0 L782.5,370.0 L783.2,370.0 L783.9,370.0 L784.6,370.0 L785.3,370.0 L786.0,370.0 L786.7,370.0 L787.4,370.0 L788.1,370.0 L788.8,370.0 L789.5,370.0 L790.2,370.0 L790.9,370.0 L791.6,370.0 L792.3,370.0 L793.0,370.0 L793.7,370.0 L794.4,370.0 L795.1,370.0 L795.8,370.0 L796.5,370.0 L797.2,370.0 L797.9,370.0 L798.6,370.0 L799.3,370.0 L800.0,370.0 L800.7,370.0 L801.4,370.0 L802.1,370.0 L802.8,370.0 L803.5,370.0 L804.2,370.0 L804.9,370.0 L805.6,370.0 L806.3,370.0 L807.0,370.0 L807.7,370.0 L808.4,370.0 L809.1,370.0 L809.8,370.0 L810.5,370.0 L811.2,370.0 L811.9,370.0 L812.6,370.0 L813.3,370.0 L814.0,370.0 L814.7,370.0 L815.4,370.0 L816.1,370.0 L816.8,370.0 L817.5,370.0 L818.2,370.0 L818.9,370.0 L819.6,370.0 L820.3,370.0 L821.0,370.0 L821.7,370.0 L822.4,370.0 L823.1,370.0 L823.8,370.0 L824.5,370.0 L825.2,370.0 L825.9,370.0 L826.6,370.0 L827.3,370.0 L828.0,370.0 L828.7,370.0 L829.4,370.0 L830.1,370.0 L830.8,370.0 L831.5,370.0 L832.3,370.0 L833.0,370.0 L833.7,370.0 L834.4,370.0 L835.1,370.0 L835.8,370.0 L836.5,370.0 L837.2,370.0 L837.9,370.0 L838.6,370.0 L839.3,370.0 L840.0,370.0 L840.7,370.0 L841.4,370.0 L842.1,370.0 L842.8,370.0 L843.5,370.0 L844.2,370.0 L844.9,370.0 L845.6,370.0 L846.3,370.0 L847.0,370.0 L847.7,370.0 L848.4,370.0 L849.1,370.0 L849.8,370.0 L850.5,370.0 L851.2,370.0 L851.9,370.0 L852.6,370.0 L853.3,370.0 L854.0,370.0 L854.7,370.0 L855.4,370.0 L856.1,370.0 L856.8,370.0 L857.5,370.0 L858.2,370.0 L858.9,370.0 L859.6,370.0 L860.3,370.0 L861.0,370.0 L861.7,370.0 L862.4,370.0 L863.1,370.0 L863.8,370.0 L864.5,370.0 L865.2,370.0 L865.9,370.0 L866.6,370.0 L867.3,370.0 L868.0,370.0 L868.7,370.0 L869.4,370.0 L870.1,370.0 L870.8,370.0 L871.5,370.0 L872.2,370.0 L872.9,370.0 L873.6,370.0 L874.3,370.0 L875.0,370.0 L875.7,370.0 L876.4,370.0 L877.1,370.0 L877.8,370.0 L878.5,370.0 L879.2,370.0 L879.9,370.0 L880.6,370.0 L881.3,370.0 L882.0,370.0 L882.7,370.0 L883.4,370.0 L884.1,370.0 L884.8,370.0 L885.5,370.0 L886.2,370.0 L886.9,370.0 L887.6,370.0 L888.3,370.0 L889.0,370.0" fill="none" stroke="#000" stroke-width="4.0" stroke-linejoin="round" stroke-linecap="round" stroke-opacity="0.5"/>
<path d="M193.7,372.9 L194.1,371.4 L194.5,370.0 L194.8,368.5 L195.2,367.1 L195.6,365.6 L196.0,364.2 L196.4,362.7 L196.8,361.3 L197.2,359.8 L197.5,358.4 L197.9,356.9 L198.3,355.4 L198.7,354.0 L199.1,352.5 L199.5,351.1 L199.9,349.6 L200.3,348.2 L200.7,346.8 L201.2,345.3 L201.6,343.9 L202.0,342.4 L202.4,341.0 L202.8,339.5 L203.3,338.1 L203.7,336.6 L204.1,335.2 L204.5,333.8 L205.0,332.3 L205.4,330.9 L205.8,329.4 L206.3,328.0 L206.7,326.6 L207.1,325.1 L207.6,323.7 L208.0,322.2 L208.4,320.8 L208.8,319.3 L209.3,317.9 L209.7,316.4 L210.1,315.0 L210.5,313.6 L210.9,312.1 L211.3,310.7 L211.7,309.2 L212.1,307.8 L212.5,306.3 L212.9,304.9 L213.3,303.4 L213.7,302.0 L214.1,300.5 L214.5,299.1 L214.9,297.6 L215.3,296.2 L215.7,294.7 L216.1,293.3 L216.5,291.8 L216.9,290.4 L217.3,288.9 L217.7,287.4 L218.1,286.0 L218.5,284.5 L218.9,283.1 L219.2,281.6 L219.6,280.2 L220.0,278.7 L220.4,277.3 L220.8,275.8 L221.1,274.4 L221.5,272.9 L221.9,271.4 L222.3,270.0 L222.7,268.5 L223.1,267.1 L223.5,265.6 L223.9,264.2 L224.3,262.7 L224.7,261.3 L225.1,259.8 L225.5,258.4 L225.9,256.9 L226.3,255.5 L226.7,254.0 L227.1,252.6 L227.5,251.1 L228.0,249.7 L228.4,248.3 L228.9,246.8 L229.3,245.4 L229.8,244.0 L230.3,242.5 L230.7,241.1 L231.2,239.7 L231.7,238.2 L232.2,236.8 L232.8,235.4 L233.3,234.0 L233.9,232.6 L234.4,231.2 L235.0,229.9 L235.6,228.5 L236.3,227.1 L236.9,225.8 L237.6,224.5 L238.3,223.1 L239.1,221.8 L239.8,220.5 L240.5,219.2 L241.3,217.9 L242.1,216.6 L242.8,215.3 L243.6,214.0 L244.4,212.7 L245.2,211.4 L246.0,210.1 L246.8,208.9 L247.6,207.6 L248.4,206.3 L249.3,205.1 L250.1,203.8 L251.0,202.6 L251.8,201.4 L252.7,200.1 L253.6,198.9 L254.5,197.7 L255.4,196.6 L256.4,195.4 L257.3,194.2 L258.3,193.1 L259.3,191.9 L260.2,190.8 L261.2,189.6 L262.1,188.4 L263.0,187.2 L264.0,186.0 L264.9,184.8 L265.8,183.6 L266.7,182.5 L267.6,181.3 L268.6,180.1 L269.5,178.9 L270.5,177.8 L271.5,176.7 L272.5,175.5 L273.5,174.4 L274.4,173.2 L275.4,172.1 L276.4,171.0 L277.4,169.9 L278.5,168.8 L279.5,167.6 L280.5,166.5 L281.5,165.4 L282.6,164.3 L283.6,163.2 L284.6,162.1 L285.7,161.1 L286.7,160.0 L287.7,158.9 L288.8,157.8 L289.8,156.7 L290.9,155.7 L292.0,154.6 L293.0,153.5 L294.1,152.5 L295.2,151.4 L296.2,150.4 L297.3,149.3 L298.4,148.3 L299.5,147.2 L300.6,146.2 L301.7,145.2 L302.8,144.1 L303.9,143.1 L305.0,142.1 L306.1,141.1 L307.3,140.1 L308.4,139.1 L309.5,138.1 L310.7,137.1 L311.8,136.2 L313.0,135.2 L314.1,134.3 L315.3,133.3 L316.4,132.3 L317.6,131.4 L318.8,130.5 L320.0,129.5 L321.2,128.6 L322.4,127.7 L323.6,126.8 L324.8,125.9 L326.0,124.9 L327.2,124.0 L328.4,123.1 L329.6,122.2 L330.8,121.3 L332.0,120.4 L333.2,119.5 L334.4,118.6 L335.6,117.8 L336.8,116.9 L338.1,116.0 L339.3,115.1 L340.5,114.3 L341.8,113.4 L343.0,112.6 L344.3,111.7 L345.5,110.9 L346.8,110.1 L348.1,109.3 L349.3,108.5 L350.6,107.8 L351.9,107.0 L353.2,106.3 L354.5,105.5 L355.9,104.8 L357.2,104.0 L358.5,103.3 L359.8,102.6 L361.2,101.9 L362.5,101.2 L363.8,100.5 L365.2,99.8 L366.5,99.1 L367.8,98.4 L369.2,97.7 L370.5,97.1 L371.9,96.4 L373.2,95.7 L374.5,95.0 L375.9,94.4 L377.3,93.7 L378.6,93.1 L380.0,92.4 L381.3,91.8 L382.7,91.2 L384.1,90.5 L385.4,89.9 L386.8,89.3 L388.2,88.7 L389.6,88.1 L390.9,87.5 L392.3,86.9 L393.7,86.3 L395.1,85.7 L396.5,85.1 L397.9,84.6 L399.3,84.0 L400.7,83.4 L402.1,82.9 L403.5,82.4 L404.9,81.8 L406.3,81.3 L407.7,80.8 L409.1,80.3 L410.6,79.8 L412.0,79.4 L413.4,78.9 L414.9,78.4 L416.3,78.0 L417.7,77.5 L419.2,77.1 L420.6,76.7 L422.1,76.2 L423.5,75.8 L424.9,75.4 L426.4,75.0 L427.8,74.6 L429.3,74.2 L430.7,73.8 L432.2,73.4 L433.7,73.0 L435.1,72.7 L436.6,72.3 L438.0,71.9 L439.5,71.6 L441.0,71.2 L442.4,70.8 L443.9,70.5 L445.3,70.1 L446.8,69.8 L448.3,69.4 L449.7,69.1 L451.2,68.7 L452.7,68.4 L454.1,68.0 L455.6,67.7 L457.1,67.4 L458.5,67.0 L460.0,66.7 L461.5,66.4 L462.9,66.0 L464.4,65.7 L465.9,65.3 L467.3,65.0 L468.8,64.7 L470.3,64.4 L471.7,64.0 L473.2,63.7 L474.7,63.4 L476.1,63.1 L477.6,62.8 L479.1,62.5 L480.6,62.2 L482.0,61.9 L483.5,61.6 L485.0,61.3 L486.5,61.1 L488.0,60.8 L489.4,60.5 L490.9,60.3 L492.4,60.0 L493.9,59.8 L495.4,59.5 L496.9,59.3 L498.3,59.0 L499.8,58.8 L501.3,58.5 L502.8,58.3 L504.3,58.1 L505.8,57.8 L507.3,57.6 L508.7,57.4 L510.2,57.1 L511.7,56.9 L513.2,56.7 L514.7,56.5 L516.2,56.3 L517.7,56.1 L519.2,56.0 L520.7,55.8 L522.2,55.6 L523.7,55.5 L525.2,55.3 L526.7,55.1 L528.2,55.0 L529.7,54.8 L531.2,54.7 L532.7,54.6 L534.2,54.5 L535.7,54.4 L537.2,54.3 L538.7,54.3 L540.2,54.2 L541.7,54.1 L543.2,54.1 L544.7,54.0 L546.2,54.0 L547.7,53.9 L549.2,53.9 L550.7,53.9 L552.2,53.8 L553.7,53.8 L555.2,53.8 L556.7,53.8 L558.2,53.8 L559.7,53.8 L561.2,53.8 L562.7,53.8 L564.3,53.8 L565.8,53.8 L567.3,53.8 L568.8,53.8 L570.4,53.8 L571.9,53.8 L573.4,53.8 L574.9,53.8 L576.4,53.8 L578.0,53.8 L579.5,53.8 L581.0,53.8 L582.5,53.8 L584.0,53.8 L585.5,53.8 L587.0,53.8 L588.5,53.8 L589.9,53.8 L591.4,53.8 L592.9,53.8 L594.3,53.8 L595.8,54.1 L597.2,54.7 L598.3,55.6 L599.2,56.7 L600.1,58.1 L600.9,59.5 L601.6,60.8 L602.2,62.1 L602.8,63.5 L603.4,64.9 L603.9,66.3 L604.4,67.8 L604.9,69.2 L605.4,70.6 L605.8,72.1 L606.3,73.5 L606.7,74.9 L607.1,76.4 L607.5,77.8 L607.9,79.3 L608.2,80.8 L608.6,82.2 L608.9,83.7 L609.3,85.2 L609.6,86.6 L610.0,88.1 L610.3,89.6 L610.6,91.0 L610.9,92.5 L611.2,94.0 L611.5,95.5 L611.8,96.9 L612.1,98.4 L612.4,99.9 L612.7,101.4 L612.9,102.8 L613.2,104.3 L613.5,105.8 L613.7,107.3 L614.0,108.8 L614.2,110.3 L614.5,111.7 L614.7,113.2 L615.0,114.7 L615.2,116.2 L615.4,117.7 L615.7,119.2 L615.9,120.7 L616.1,122.1 L616.3,123.6 L616.5,125.1 L616.7,126.6 L617.0,128.1 L617.2,129.6 L617.4,131.1 L617.6,132.6 L617.8,134.1 L618.0,135.6 L618.2,137.1 L618.4,138.5 L618.6,140.0 L618.8,141.5 L619.0,143.0 L619.2,144.5 L619.4,146.0 L619.5,147.5 L619.7,149.0 L619.9,150.5 L620.1,152.0 L620.3,153.5 L620.5,155.0 L620.6,156.5 L620.8,157.9 L621.0,159.4 L621.2,160.9 L621.4,162.4 L621.5,163.9 L621.7,165.4 L621.9,166.9 L622.1,168.4 L622.3,169.9 L622.5,171.4 L622.7,172.9 L622.9,174.4 L623.1,175.9 L623.3,177.3 L623.5,178.8 L623.7,180.3 L623.9,181.8 L624.1,183.3 L624.3,184.8 L624.6,186.3 L624.8,187.8 L625.0,189.3 L625.2,190.8 L625.4,192.2 L625.6,193.7 L625.8,195.2 L626.1,196.7 L626.3,198.2 L626.5,199.7 L626.7,201.2 L626.9,202.7 L627.1,204.2 L627.3,205.6 L627.6,207.1 L627.8,208.6 L628.0,210.1 L628.2,211.6 L628.4,213.1 L628.7,214.6 L628.9,216.1 L629.1,217.6 L629.3,219.0 L629.5,220.5 L629.8,222.0 L630.0,223.5 L630.2,225.0 L630.4,226.5 L630.6,228.0 L630.8,229.5 L631.0,231.0 L631.2,232.4 L631.4,233.9 L631.6,235.4 L631.8,236.9 L632.0,238.4 L632.2,239.9 L632.4,241.4 L632.6,242.9 L632.8,244.4 L633.0,245.9 L633.2,247.4 L633.4,248.9 L633.6,250.3 L633.8,251.8 L634.0,253.3 L634.2,254.8 L634.4,256.3 L634.6,257.8 L634.8,259.3 L635.0,260.8 L635.2,262.3 L635.4,263.8 L635.6,265.3 L635.8,266.7 L636.0,268.2 L636.2,269.7 L636.4,271.2 L636.6,272.7 L636.8,274.2 L637.0,275.7 L637.2,277.2 L637.4,278.7 L637.6,280.2 L637.9,281.7 L638.1,283.1 L638.3,284.6 L638.5,286.1 L638.7,287.6 L638.9,289.1 L639.2,290.6 L639.4,292.1 L639.6,293.6 L639.8,295.0 L640.1,296.5 L640.3,298.0 L640.5,299.5 L640.8,301.0 L641.0,302.5 L641.2,304.0 L641.5,305.5 L641.7,306.9 L642.0,308.4 L642.2,309.9 L642.5,311.4 L642.7,312.9 L643.0,314.4 L643.3,315.8 L643.5,317.3 L643.8,318.8 L644.1,320.3 L644.4,321.7 L644.7,323.2 L645.0,324.7 L645.3,326.2 L645.7,327.6 L646.0,329.1 L646.4,330.6 L646.7,332.0 L647.1,333.5 L647.5,334.9 L647.9,336.4 L648.3,337.8 L648.7,339.3 L649.1,340.7 L649.5,342.2 L650.0,343.6 L650.4,345.1 L650.9,346.5 L651.4,348.0 L652.0,349.4 L652.5,350.8 L653.1,352.1 L653.8,353.5 L654.5,354.7 L655.3,356.0 L656.2,357.3 L657.1,358.5 L658.1,359.7 L659.2,360.7 L660.2,361.7 L661.4,362.6 L662.6,363.5 L663.9,364.3 L665.3,365.0 L666.6,365.7 L668.0,366.4 L669.3,367.0 L670.7,367.5 L672.2,368.1 L673.6,368.5 L675.1,368.9 L676.5,369.2 L678.0,369.6 L679.5,369.9 L680.9,370.2 L682.4,370.4 L683.9,370.6 L685.4,370.9 L686.9,371.1 L688.4,371.3 L689.9,371.4 L691.4,371.6 L692.9,371.8 L694.4,371.9 L695.9,372.1 L697.4,372.2 L698.9,372.3 L700.4,372.3 L701.9,372.4 L703.4,372.4 L704.9,372.4 L706.4,372.5 L707.9,372.5 L709.4,372.5 L710.9,372.6 L712.4,372.6 L713.9,372.6 L715.4,372.7 L716.9,372.7 L718.4,372.7 L719.9,372.7 L721.4,372.8 L722.9,372.8 L724.4,372.8 L725.9,372.8 L727.4,372.8 L728.9,372.8 L730.4,372.9 L732.0,372.9 L733.5,372.9 L735.0,372.9 L736.5,372.9 L738.0,372.9 L739.5,372.9 L741.0,372.9" fill="none" stroke="#000" stroke-width="4.0" stroke-linejoin="round" stroke-linecap="butt" stroke-dasharray="12.7 5.05"/>
<path d="M119.4,372.0 L120.5,372.0 L121.5,372.0 L122.6,372.0 L123.6,372.0 L124.7,372.0 L125.7,372.0 L126.7,372.0 L127.7,372.0 L128.7,372.0 L129.7,372.0 L130.7,372.0 L131.6,372.0 L132.6,372.0 L133.6,372.0 L134.5,372.0 L135.4,372.0 L136.4,372.0 L137.3,372.0 L138.2,372.0 L139.1,372.0 L140.0,372.0 L140.9,372.0 L141.7,372.0 L142.6,372.0 L143.5,372.0 L144.3,372.0 L145.2,372.0 L146.0,372.0 L146.8,372.0 L147.6,372.0 L148.4,372.0 L149.2,372.0 L150.0,372.0 L150.8,372.0 L151.6,372.0 L152.4,372.0 L153.1,372.0 L153.9,372.0 L154.6,372.0 L155.4,372.0 L156.1,372.0 L156.8,372.0 L157.5,372.0 L158.2,372.0 L158.9,372.0 L159.6,372.0 L160.3,372.0 L161.0,372.0 L161.7,372.0 L162.3,372.0 L163.0,372.0 L163.6,372.0 L164.3,372.0 L164.9,372.0 L165.5,372.0 L166.2,372.0 L166.8,372.0 L167.4,372.0 L168.0,372.0 L168.6,372.0 L169.2,372.0 L169.7,372.0 L170.3,372.0 L170.9,372.0 L171.4,372.0 L172.0,372.0 L172.5,372.0 L173.1,372.0 L173.6,372.0 L174.1,372.0 L174.6,372.0 L175.2,372.0 L175.7,372.0 L176.2,372.0 L176.7,372.0 L177.2,372.0 L177.6,372.0 L178.1,372.0 L178.6,372.0 L179.0,372.0 L179.5,372.0 L180.0,372.0 L180.4,372.0 L180.8,372.0 L181.3,372.0 L181.7,372.0 L182.1,372.0 L182.5,372.0 L183.0,372.0 L183.4,372.0 L183.8,372.0 L184.2,372.0 L184.5,372.0 L184.9,371.6 L185.2,370.8 L185.5,370.1 L185.7,369.4 L186.0,368.8 L186.3,368.1 L186.5,367.5 L186.7,366.8 L187.0,366.1 L187.2,365.5 L187.4,364.8 L187.6,364.2 L187.8,363.5 L188.1,362.7 L188.3,362.7 L188.5,362.7 L188.7,362.7 L188.9,362.7 L189.1,362.7 L189.3,362.7 L189.5,362.7 L189.7,362.7 L189.9,362.7 L189.9,356.2 L190.0,356.2 L190.2,356.2 L190.4,356.2 L190.6,356.2 L190.8,356.2 L191.0,356.2 L191.3,356.2 L191.5,356.2 L191.5,353.6 L191.7,353.6 L191.9,353.6 L192.1,353.6 L192.3,353.6 L192.6,353.6 L192.8,353.6 L193.0,353.6 L193.2,353.6 L193.2,345.8 L193.4,345.8 L193.7,345.8 L193.9,345.8 L194.1,345.8 L194.3,345.8 L194.6,345.8 L194.8,345.8 L195.0,345.8 L195.0,340.6 L195.2,340.6 L195.5,340.6 L195.7,340.6 L195.9,340.6 L196.1,340.6 L196.4,340.6 L196.6,340.6 L196.8,340.6 L196.8,336.7 L197.1,336.7 L197.3,336.7 L197.5,336.7 L197.8,336.7 L198.0,336.7 L198.2,336.7 L198.5,336.7 L198.5,330.2 L198.7,330.2 L199.0,330.2 L199.2,330.2 L199.5,330.2 L199.7,330.2 L199.9,330.2 L200.2,330.2 L200.2,326.3 L200.5,326.3 L200.7,326.3 L201.0,326.3 L201.2,326.3 L201.5,326.3 L201.7,326.3 L202.0,326.3 L202.0,322.4 L202.3,322.4 L202.6,322.4 L202.8,322.4 L203.1,322.4 L203.4,322.4 L203.7,322.4 L203.7,317.2 L204.0,317.2 L204.2,317.2 L204.5,317.2 L204.8,317.2 L205.1,317.2 L205.4,317.2 L205.4,313.3 L205.7,313.3 L206.0,313.3 L206.3,313.3 L206.6,313.3 L206.9,313.3 L207.2,313.3 L207.2,309.4 L207.5,309.4 L207.8,309.4 L208.1,309.4 L208.4,309.4 L208.8,309.4 L209.1,309.4 L209.1,305.5 L209.4,305.5 L209.7,305.5 L210.0,305.5 L210.3,305.5 L210.7,305.5 L211.0,305.5 L211.0,302.9 L211.3,302.9 L211.6,302.9 L212.0,302.9 L212.3,302.9 L212.7,302.9 L212.7,297.7 L213.0,297.7 L213.3,297.7 L213.7,297.7 L214.0,297.7 L214.4,297.7 L214.4,296.4 L214.7,296.4 L215.1,296.4 L215.5,296.4 L215.8,296.4 L216.2,296.4 L216.2,295.1 L216.6,295.1 L217.0,295.1 L217.3,295.1 L217.7,295.1 L218.1,295.1 L218.1,292.5 L218.5,292.5 L218.9,292.5 L219.4,292.5 L219.8,292.5 L219.8,287.3 L220.2,287.3 L220.6,287.3 L221.1,287.3 L221.5,287.3 L221.9,287.3 L222.4,287.3 L222.8,287.3 L223.2,287.3 L223.2,283.4 L223.7,283.4 L224.1,283.4 L224.5,283.4 L224.9,283.4 L224.9,280.8 L225.4,280.8 L225.8,280.8 L226.2,280.8 L226.6,280.8 L226.6,278.2 L227.1,278.2 L227.5,278.2 L227.9,278.2 L228.3,278.2 L228.3,276.9 L228.7,276.9 L229.1,276.9 L229.6,276.9 L230.0,276.9 L230.0,275.6 L230.4,275.6 L230.8,275.6 L231.2,275.6 L231.7,275.6 L231.7,273.0 L232.1,273.0 L232.5,273.0 L232.9,273.0 L233.3,273.0 L233.3,270.4 L233.8,270.4 L234.2,270.4 L234.6,270.4 L235.0,270.4 L235.0,267.8 L235.4,267.8 L235.8,267.8 L236.3,267.8 L236.7,267.8 L236.7,266.5 L237.1,266.5 L237.5,266.5 L237.9,266.5 L238.3,266.5 L238.3,263.9 L238.7,263.9 L239.1,263.9 L239.5,263.9 L239.9,263.9 L239.9,262.6 L240.4,262.6 L240.8,262.6 L241.2,262.6 L241.6,262.6 L241.6,258.7 L242.0,258.7 L242.5,258.7 L242.9,258.7 L243.4,258.7 L243.4,257.4 L243.8,257.4 L244.3,257.4 L244.7,257.4 L245.2,257.4 L245.2,254.8 L245.6,254.8 L246.1,254.8 L246.6,254.8 L247.1,254.8 L247.1,252.2 L247.6,252.2 L248.1,252.2 L248.6,252.2 L249.1,252.2 L249.1,250.9 L249.6,250.9 L250.1,250.9 L250.6,250.9 L251.1,250.9 L251.1,249.6 L251.6,249.6 L252.1,249.6 L252.7,249.6 L253.2,249.6 L253.2,248.3 L253.7,248.3 L254.2,248.3 L254.7,248.3 L255.3,248.3 L255.3,244.4 L255.8,244.4 L256.3,244.4 L256.9,244.4 L256.9,245.7 L257.4,245.7 L257.9,245.7 L258.5,245.7 L258.5,241.8 L259.0,241.8 L259.6,241.8 L260.1,241.8 L260.1,240.5 L260.7,240.5 L261.2,240.5 L261.8,240.5 L261.8,239.2 L262.3,239.2 L262.8,239.2 L263.4,239.2 L263.9,239.2 L264.5,239.2 L265.0,239.2 L265.0,237.9 L265.5,237.9 L266.1,237.9 L266.6,237.9 L266.6,236.6 L267.2,236.6 L267.7,236.6 L268.3,236.6 L268.3,235.3 L268.8,235.3 L269.3,235.3 L269.9,235.3 L269.9,234.0 L270.4,234.0 L270.9,234.0 L271.4,234.0 L272.0,234.0 L272.0,231.4 L272.5,231.4 L273.0,231.4 L273.5,231.4 L274.0,231.4 L274.0,228.8 L274.6,228.8 L275.1,228.8 L275.6,228.8 L276.1,228.8 L276.6,228.8 L277.1,228.8 L277.6,228.8 L278.1,228.8 L278.1,226.2 L278.6,226.2 L279.1,226.2 L279.6,226.2 L280.2,226.2 L280.2,222.3 L280.7,222.3 L281.2,222.3 L281.7,222.3 L282.2,222.3 L282.2,221.0 L282.7,221.0 L283.2,221.0 L283.7,221.0 L284.3,221.0 L284.3,219.7 L284.8,219.7 L285.3,219.7 L285.8,219.7 L286.3,219.7 L286.3,218.4 L286.9,218.4 L287.4,218.4 L287.9,218.4 L288.5,218.4 L288.5,215.8 L289.0,215.8 L289.5,215.8 L290.1,215.8 L290.1,217.1 L290.6,217.1 L291.2,217.1 L291.7,217.1 L291.7,214.5 L292.3,214.5 L292.8,214.5 L293.4,214.5 L293.4,211.9 L293.9,211.9 L294.5,211.9 L295.1,211.9 L295.1,210.6 L295.6,210.6 L296.2,210.6 L296.7,210.6 L297.3,210.6 L297.9,210.6 L298.4,210.6 L298.4,208.0 L299.0,208.0 L299.6,208.0 L300.2,208.0 L300.2,206.7 L300.7,206.7 L301.3,206.7 L301.9,206.7 L302.4,206.7 L303.0,206.7 L303.6,206.7 L303.6,204.1 L304.1,204.1 L304.7,204.1 L305.3,204.1 L305.9,204.1 L306.4,204.1 L307.0,204.1 L307.0,201.5 L307.5,201.5 L308.1,201.5 L308.7,201.5 L308.7,198.9 L309.2,198.9 L309.8,198.9 L310.4,198.9 L310.4,200.2 L310.9,200.2 L311.5,200.2 L312.0,200.2 L312.0,196.3 L312.6,196.3 L313.1,196.3 L313.7,196.3 L313.7,198.9 L314.3,198.9 L314.8,198.9 L315.4,198.9 L315.4,197.6 L315.9,197.6 L316.5,197.6 L317.0,197.6 L317.0,193.7 L317.6,193.7 L318.1,193.7 L318.7,193.7 L318.7,192.4 L319.3,192.4 L319.8,192.4 L320.4,192.4 L320.4,191.1 L320.9,191.1 L321.5,191.1 L322.1,191.1 L322.6,191.1 L323.2,191.1 L323.8,191.1 L323.8,189.8 L324.3,189.8 L324.9,189.8 L325.5,189.8 L325.5,187.2 L326.1,187.2 L326.6,187.2 L327.2,187.2 L327.8,187.2 L328.4,187.2 L329.0,187.2 L329.5,187.2 L330.1,187.2 L330.7,187.2 L330.7,184.6 L331.3,184.6 L331.9,184.6 L332.5,184.6 L333.1,184.6 L333.7,184.6 L334.3,184.6 L334.3,183.3 L334.9,183.3 L335.5,183.3 L336.1,183.3 L336.1,182.0 L336.7,182.0 L337.3,182.0 L338.0,182.0 L338.6,182.0 L339.2,182.0 L339.8,182.0 L339.8,178.1 L340.4,178.1 L341.0,178.1 L341.6,178.1 L342.2,178.1 L342.9,178.1 L343.5,178.1 L343.5,176.8 L344.1,176.8 L344.7,176.8 L345.3,176.8 L345.3,175.5 L346.0,175.5 L346.6,175.5 L347.2,175.5 L347.2,176.8 L347.8,176.8 L348.4,176.8 L349.1,176.8 L349.1,174.2 L349.7,174.2 L350.3,174.2 L351.0,174.2 L351.0,172.9 L351.6,172.9 L352.2,172.9 L352.8,172.9 L352.8,171.6 L353.5,171.6 L354.1,171.6 L354.7,171.6 L355.4,171.6 L356.0,171.6 L356.7,171.6 L357.3,171.6 L357.9,171.6 L358.6,171.6 L358.6,169.0 L359.2,169.0 L359.9,169.0 L360.5,169.0 L361.1,169.0 L361.8,169.0 L362.4,169.0 L363.1,169.0 L363.7,169.0 L364.4,169.0 L364.4,167.7 L365.0,167.7 L365.7,167.7 L366.3,167.7 L367.0,167.7 L367.6,167.7 L368.2,167.7 L368.2,166.4 L368.9,166.4 L369.5,166.4 L370.2,166.4 L370.2,163.8 L370.8,163.8 L371.5,163.8 L372.1,163.8 L372.1,165.1 L372.8,165.1 L373.5,165.1 L374.1,165.1 L374.1,163.8 L374.8,163.8 L375.4,163.8 L376.1,163.8 L376.7,163.8 L377.4,163.8 L378.0,163.8 L378.0,161.2 L378.7,161.2 L379.4,161.2 L380.0,161.2 L380.0,163.8 L380.7,163.8 L381.3,163.8 L382.0,163.8 L382.0,159.9 L382.7,159.9 L383.3,159.9 L384.0,159.9 L384.6,159.9 L385.3,159.9 L386.0,159.9 L386.0,158.6 L386.6,158.6 L387.3,158.6 L388.0,158.6 L388.7,158.6 L389.3,158.6 L390.0,158.6 L390.7,158.6 L391.3,158.6 L392.0,158.6 L392.0,157.3 L392.7,157.3 L393.4,157.3 L394.1,157.3 L394.1,154.7 L394.7,154.7 L395.4,154.7 L396.1,154.7 L396.1,156.0 L396.8,156.0 L397.5,156.0 L398.1,156.0 L398.8,156.0 L399.5,156.0 L400.2,156.0 L400.2,157.3 L400.9,157.3 L401.6,157.3 L402.2,157.3 L402.2,153.4 L402.9,153.4 L403.6,153.4 L404.3,153.4 L404.3,154.7 L405.0,154.7 L405.7,154.7 L406.3,154.7 L407.0,154.7 L407.7,154.7 L408.4,154.7 L408.4,153.4 L409.1,153.4 L409.7,153.4 L410.4,153.4 L410.4,152.1 L411.1,152.1 L411.8,152.1 L412.5,152.1 L412.5,150.8 L413.1,150.8 L413.8,150.8 L414.5,150.8 L415.2,150.8 L415.9,150.8 L416.6,150.8 L417.2,150.8 L417.9,150.8 L418.6,150.8 L419.3,150.8 L420.0,150.8 L420.7,150.8 L420.7,148.2 L421.3,148.2 L422.0,148.2 L422.7,148.2 L423.4,148.2 L424.1,148.2 L424.8,148.2 L424.8,149.5 L425.5,149.5 L426.1,149.5 L426.8,149.5 L427.5,149.5 L428.2,149.5 L428.9,149.5 L428.9,148.2 L429.6,148.2 L430.3,148.2 L431.0,148.2 L431.7,148.2 L432.3,148.2 L433.0,148.2 L433.0,146.9 L433.7,146.9 L434.4,146.9 L435.1,146.9 L435.1,148.2 L435.8,148.2 L436.5,148.2 L437.2,148.2 L437.2,149.5 L437.9,149.5 L438.6,149.5 L439.3,149.5 L440.0,149.5 L440.6,149.5 L441.3,149.5 L441.3,146.9 L442.0,146.9 L442.7,146.9 L443.4,146.9 L444.1,146.9 L444.8,146.9 L445.5,146.9 L446.2,146.9 L446.9,146.9 L447.6,146.9 L448.3,146.9 L448.9,146.9 L449.6,146.9 L450.3,146.9 L451.0,146.9 L451.7,146.9 L451.7,145.6 L452.4,145.6 L453.1,145.6 L453.8,145.6 L453.8,144.3 L454.4,144.3 L455.1,144.3 L455.8,144.3 L455.8,143.0 L456.5,143.0 L457.2,143.0 L457.9,143.0 L457.9,144.3 L458.6,144.3 L459.3,144.3 L459.9,144.3 L459.9,143.0 L460.6,143.0 L461.3,143.0 L462.0,143.0 L462.7,143.0 L463.4,143.0 L464.1,143.0 L464.1,141.7 L464.7,141.7 L465.4,141.7 L466.1,141.7 L466.1,140.4 L466.8,140.4 L467.5,140.4 L468.2,140.4 L468.2,143.0 L468.9,143.0 L469.5,143.0 L470.2,143.0 L470.2,141.7 L470.9,141.7 L471.6,141.7 L472.3,141.7 L472.3,140.4 L473.0,140.4 L473.7,140.4 L474.4,140.4 L475.0,140.4 L475.7,140.4 L476.4,140.4 L477.1,140.4 L477.8,140.4 L478.5,140.4 L479.2,140.4 L479.9,140.4 L480.6,140.4 L480.6,141.7 L481.3,141.7 L481.9,141.7 L482.6,141.7 L482.6,139.1 L483.3,139.1 L484.0,139.1 L484.7,139.1 L484.7,137.8 L485.4,137.8 L486.1,137.8 L486.8,137.8 L487.5,137.8 L488.2,137.8 L488.9,137.8 L489.6,137.8 L490.2,137.8 L490.9,137.8 L491.6,137.8 L492.3,137.8 L493.0,137.8 L493.7,137.8 L494.4,137.8 L495.1,137.8 L495.1,136.5 L495.8,136.5 L496.5,136.5 L497.2,136.5 L497.2,135.2 L497.9,135.2 L498.6,135.2 L499.3,135.2 L499.3,136.5 L500.0,136.5 L500.7,136.5 L501.3,136.5 L501.3,135.2 L502.0,135.2 L502.7,135.2 L503.4,135.2 L503.4,136.5 L504.1,136.5 L504.8,136.5 L505.5,136.5 L505.5,135.2 L506.2,135.2 L506.9,135.2 L507.6,135.2 L507.6,133.9 L508.3,133.9 L509.0,133.9 L509.7,133.9 L509.7,135.2 L510.4,135.2 L511.1,135.2 L511.8,135.2 L511.8,133.9 L512.5,133.9 L513.2,133.9 L513.9,133.9 L513.9,135.2 L514.6,135.2 L515.3,135.2 L516.0,135.2 L516.0,133.9 L516.7,133.9 L517.4,133.9 L518.0,133.9 L518.7,133.9 L519.4,133.9 L520.1,133.9 L520.8,133.9 L521.5,133.9 L522.2,133.9 L522.9,133.9 L523.6,133.9 L524.3,133.9 L524.3,131.3 L525.0,131.3 L525.7,131.3 L526.4,131.3 L526.4,135.2 L527.1,135.2 L527.8,135.2 L528.5,135.2 L528.5,132.6 L529.2,132.6 L529.9,132.6 L530.6,132.6 L530.6,133.9 L531.3,133.9 L532.0,133.9 L532.7,133.9 L532.7,132.6 L533.4,132.6 L534.1,132.6 L534.8,132.6 L535.5,132.6 L536.2,132.6 L536.9,132.6 L537.6,132.6 L538.3,132.6 L539.0,132.6 L539.7,132.6 L540.4,132.6 L541.1,132.6 L541.9,132.6 L542.6,132.6 L543.3,132.6 L543.3,133.9 L544.0,133.9 L544.7,133.9 L545.4,133.9 L545.4,132.6 L546.1,132.6 L546.8,132.6 L547.5,132.6 L547.5,131.3 L548.2,131.3 L548.9,131.3 L549.6,131.3 L549.6,132.6 L550.3,132.6 L551.0,132.6 L551.7,132.6 L552.4,132.6 L553.1,132.6 L553.8,132.6 L553.8,133.9 L554.5,133.9 L555.2,133.9 L555.9,133.9 L556.6,133.9 L557.3,133.9 L558.0,133.9 L558.7,133.9 L559.5,133.9 L560.2,133.9 L560.2,132.6 L560.9,132.6 L561.7,132.6 L562.5,132.6 L562.5,133.9 L563.3,133.9 L564.0,133.9 L564.8,133.9 L564.8,132.6 L565.6,132.6 L566.4,132.6 L567.2,132.6 L568.0,132.6 L568.8,132.6 L568.8,133.9 L569.7,133.9 L570.5,133.9 L571.3,133.9 L572.1,133.9 L572.9,133.9 L573.7,133.9 L573.7,132.6 L574.5,132.6 L575.3,132.6 L576.2,132.6 L577.0,132.6 L577.0,131.3 L577.8,131.3 L578.5,131.3 L579.3,131.3 L579.3,132.6 L580.1,132.6 L580.9,132.6 L581.7,132.6 L582.4,132.6 L583.2,132.6 L583.9,132.6 L583.9,133.9 L584.6,133.9 L585.3,133.9 L586.0,133.9 L586.7,133.9 L587.4,133.9 L588.1,133.9 L588.1,132.6 L588.7,132.6 L589.4,132.6 L590.0,132.6 L590.0,135.2 L590.6,135.2 L591.2,135.2 L591.8,135.2 L591.8,132.6 L592.3,132.6 L592.8,132.6 L593.4,132.6 L593.4,131.3 L593.9,131.3 L594.3,133.2 L594.8,133.2 L595.2,133.2 L595.6,133.2 L596.0,133.2 L596.4,133.3 L596.7,133.9 L596.9,134.8 L597.1,135.4 L597.2,136.1 L597.4,136.8 L597.5,137.4 L597.6,138.1 L597.7,138.8 L597.8,139.5 L597.9,140.2 L598.0,140.9 L598.1,141.6 L598.2,142.3 L598.3,143.0 L598.3,143.7 L598.4,144.4 L598.5,145.1 L598.5,145.8 L598.6,146.5 L598.7,147.2 L598.7,147.9 L598.8,148.6 L598.9,149.3 L599.0,150.0 L599.0,150.7 L599.1,151.4 L599.2,152.1 L599.3,152.8 L599.4,153.5 L599.5,154.2 L599.6,154.9 L599.7,155.6 L599.8,156.3 L599.9,157.0 L600.0,157.7 L600.2,158.4 L600.3,159.1 L600.4,159.8 L600.5,160.5 L600.6,161.1 L600.7,161.8 L600.8,162.5 L600.9,163.2 L601.1,163.9 L601.2,164.6 L601.3,165.3 L601.4,166.0 L601.5,166.7 L601.6,167.4 L601.7,168.1 L601.9,168.8 L602.0,169.4 L602.1,170.1 L602.2,170.8 L602.3,171.5 L602.4,172.2 L602.5,172.9 L602.6,173.6 L602.7,174.3 L602.8,175.0 L603.0,175.7 L603.1,176.4 L603.2,177.1 L603.3,177.8 L603.4,178.4 L603.5,179.1 L603.6,179.8 L603.7,180.5 L603.8,181.2 L603.9,181.9 L604.0,182.6 L604.1,183.3 L604.1,184.0 L604.2,184.7 L604.3,185.4 L604.4,186.1 L604.5,186.8 L604.6,187.5 L604.7,188.2 L604.8,188.9 L604.9,189.6 L605.0,190.2 L605.1,190.9 L605.2,191.6 L605.3,192.3 L605.4,193.0 L605.5,193.7 L605.6,194.4 L605.7,195.1 L605.7,195.8 L605.8,196.5 L605.9,197.2 L606.0,197.9 L606.1,198.6 L606.2,199.3 L606.3,200.0 L606.4,200.7 L606.5,201.4 L606.6,202.1 L606.6,202.8 L606.7,203.5 L606.8,204.1 L606.9,204.8 L607.0,205.5 L607.1,206.2 L607.2,206.9 L607.2,207.6 L607.3,208.3 L607.4,209.0 L607.5,209.7 L607.6,210.4 L607.7,211.1 L607.8,211.8 L607.8,212.5 L607.9,213.2 L608.0,213.9 L608.1,214.6 L608.2,215.3 L608.3,216.0 L608.4,216.7 L608.4,217.4 L608.5,218.1 L608.6,218.8 L608.7,219.5 L608.8,220.1 L608.9,220.8 L609.0,221.5 L609.0,222.2 L609.1,222.9 L609.2,223.6 L609.3,224.3 L609.4,225.0 L609.5,225.7 L609.6,226.4 L609.6,227.1 L609.7,227.8 L609.8,228.5 L609.9,229.2 L610.0,229.9 L610.1,230.6 L610.2,231.3 L610.2,232.0 L610.3,232.7 L610.4,233.4 L610.5,234.1 L610.6,234.8 L610.7,235.5 L610.8,236.1 L610.8,236.8 L610.9,237.5 L611.0,238.2 L611.1,238.9 L611.2,239.6 L611.3,240.3 L611.4,241.0 L611.4,241.7 L611.5,242.4 L611.6,243.1 L611.7,243.8 L611.8,244.5 L611.9,245.2 L612.0,245.9 L612.0,246.6 L612.1,247.3 L612.2,248.0 L612.3,248.7 L612.4,249.4 L612.5,250.1 L612.6,250.8 L612.7,251.4 L612.7,252.1 L612.8,252.8 L612.9,253.5 L613.0,254.2 L613.1,254.9 L613.2,255.6 L613.3,256.3 L613.4,257.0 L613.5,257.7 L613.6,258.4 L613.7,259.1 L613.8,259.8 L613.9,260.5 L613.9,261.2 L614.0,261.9 L614.1,262.6 L614.2,263.3 L614.3,264.0 L614.4,264.6 L614.5,265.3 L614.6,266.0 L614.7,266.7 L614.8,267.4 L614.9,268.1 L615.0,268.8 L615.1,269.5 L615.2,270.2 L615.3,270.9 L615.4,271.6 L615.5,272.3 L615.6,273.0 L615.7,273.7 L615.8,274.4 L615.9,275.1 L616.0,275.8 L616.1,276.4 L616.2,277.1 L616.3,277.8 L616.4,278.5 L616.6,279.2 L616.7,279.9 L616.8,280.6 L616.9,281.3 L617.0,282.0 L617.1,282.7 L617.2,283.4 L617.4,284.0 L617.5,284.7 L617.6,285.4 L617.7,286.1 L617.9,286.8 L618.0,287.5 L618.1,288.2 L618.2,288.9 L618.4,289.6 L618.5,290.3 L618.6,291.0 L618.8,291.6 L618.9,292.3 L619.0,293.0 L619.2,293.7 L619.3,294.4 L619.5,295.1 L619.6,295.8 L619.8,296.4 L619.9,297.1 L620.1,297.8 L620.2,298.5 L620.4,299.2 L620.6,299.9 L620.7,300.5 L620.9,301.2 L621.1,301.9 L621.2,302.6 L621.4,303.2 L621.6,303.9 L621.8,304.6 L622.0,305.2 L622.3,305.9 L622.5,306.6 L622.7,307.2 L622.9,307.9 L623.2,308.6 L623.4,309.2 L623.6,309.9 L623.9,310.5 L624.1,311.2 L624.4,311.9 L624.6,312.5 L624.8,313.2 L625.1,313.9 L625.3,314.5 L625.5,315.2 L625.7,315.9 L625.9,316.5 L626.1,317.2 L626.3,317.9 L626.5,318.5 L626.7,319.2 L627.0,319.9 L627.2,320.5 L627.4,321.2 L627.5,321.9 L627.7,322.6 L627.9,323.2 L628.1,323.9 L628.3,324.6 L628.5,325.3 L628.7,325.9 L628.9,326.6 L629.0,327.3 L629.2,328.0 L629.4,328.7 L629.5,329.3 L629.7,330.0 L629.8,330.7 L630.0,331.4 L630.1,332.1 L630.3,332.8 L630.4,333.5 L630.5,334.1 L630.6,334.8 L630.8,335.5 L630.9,336.2 L631.0,336.9 L631.1,337.6 L631.2,338.3 L631.3,339.0 L631.4,339.7 L631.5,340.4 L631.6,341.1 L631.8,341.8 L631.9,342.5 L632.0,343.2 L632.1,343.8 L632.2,344.5 L632.4,345.2 L632.5,345.9 L632.7,346.6 L632.8,347.3 L633.0,348.0 L633.1,348.6 L633.3,349.3 L633.5,350.0 L633.6,350.7 L633.8,351.4 L634.0,352.1 L634.2,352.7 L634.4,353.4 L634.6,354.1 L634.8,354.8 L635.0,355.5 L635.2,356.1 L635.4,356.8 L635.7,357.4 L635.9,358.1 L636.2,358.7 L636.4,359.4 L636.7,360.0 L637.0,360.6 L637.3,361.3 L637.6,361.9 L638.0,362.5 L638.3,363.2 L638.7,363.8 L639.1,364.4 L639.5,365.0 L640.0,365.5 L640.4,366.1 L640.9,366.6 L641.3,367.0 L641.8,367.5 L642.3,367.9 L642.9,368.3 L643.5,368.8 L644.1,369.2 L644.7,369.5 L645.4,369.9 L646.0,370.2 L646.7,370.5 L647.3,370.7 L648.0,370.8 L648.6,371.0 L649.3,371.1 L650.0,371.3 L650.7,371.4 L651.4,371.5 L652.0,371.7 L652.7,371.8 L653.4,371.9 L654.2,372.0 L654.9,372.1 L655.6,372.1 L656.3,372.2 L657.0,372.3 L657.7,372.3 L658.4,372.4 L659.1,372.4 L659.8,372.4 L660.5,372.4 L661.2,372.4 L661.9,372.4 L662.6,372.4 L663.3,372.4 L664.0,372.4 L664.7,372.4 L665.4,372.4 L666.1,372.4 L666.8,372.4 L667.5,372.4 L668.2,372.4 L668.9,372.5 L669.6,372.5 L670.3,372.5 L671.0,372.5 L671.7,372.5 L672.4,372.5 L673.1,372.5 L673.8,372.5 L674.5,372.5 L675.2,372.5 L675.9,372.5 L676.6,372.5 L677.3,372.5 L677.9,372.5 L678.6,372.5 L679.3,372.5 L680.0,372.5 L680.7,372.5 L681.4,372.5 L682.1,372.5 L682.8,372.5 L683.5,372.5 L684.2,372.5 L684.9,372.5 L685.6,372.5 L686.3,372.5 L687.0,372.5 L687.7,372.6 L688.4,372.6 L689.1,372.6 L689.8,372.6 L690.5,372.6 L691.2,372.6 L691.9,372.6 L692.6,372.6 L693.3,372.6 L694.0,372.6 L694.7,372.6 L695.4,372.6 L696.1,372.6 L696.8,372.6 L697.5,372.6 L698.2,372.6 L698.9,372.6 L699.6,372.6 L700.3,372.6 L701.0,372.6 L701.7,372.6 L702.4,372.6 L703.1,372.6 L703.8,372.6 L704.5,372.6 L705.2,372.6 L705.9,372.6 L706.6,372.6 L707.3,372.6 L707.9,372.6 L708.6,372.6 L709.3,372.6 L710.0,372.6 L710.7,372.6 L711.4,372.7 L712.1,372.7 L712.8,372.7 L713.5,372.7 L714.2,372.7 L714.9,372.7 L715.6,372.7 L716.3,372.7 L717.0,372.7 L717.7,372.7 L718.4,372.7 L719.1,372.7 L719.8,372.7 L720.5,372.7 L721.2,372.7 L721.9,372.7 L722.6,372.7 L723.3,372.7 L724.0,372.7 L724.7,372.7 L725.4,372.7 L726.1,372.7 L726.8,372.7 L727.5,372.7 L728.2,372.7 L728.9,372.7 L729.6,372.7 L730.3,372.7 L731.0,372.7 L731.7,372.7 L732.4,372.7 L733.1,372.7 L733.8,372.7 L734.5,372.7 L735.2,372.7 L735.9,372.7 L736.6,372.7 L737.3,372.7 L738.0,372.7 L738.7,372.7 L739.4,372.7 L740.1,372.7 L740.8,372.7 L741.5,372.8 L742.2,372.8 L742.9,372.8 L743.6,372.8 L744.3,372.8 L745.0,372.8 L745.7,372.8 L746.4,372.8 L747.1,372.8 L747.8,372.8 L748.5,372.8 L749.2,372.8 L749.9,372.8 L750.6,372.8 L751.3,372.8 L752.0,372.8 L752.7,372.8 L753.4,372.8 L754.1,372.8 L754.8,372.8 L755.5,372.8 L756.2,372.8 L756.9,372.8 L757.6,372.8 L758.3,372.8 L759.0,372.8 L759.7,372.8 L760.4,372.8 L761.1,372.8 L761.8,372.8 L762.5,372.8 L763.2,372.8 L763.9,372.8 L764.6,372.8 L765.3,372.8 L766.0,372.8 L766.7,372.8 L767.4,372.8 L768.1,372.8 L768.8,372.8 L769.5,372.8 L770.2,372.8 L770.9,372.8 L771.6,372.8 L772.3,372.8 L773.0,372.8 L773.7,372.8 L774.4,372.8 L775.1,372.8 L775.8,372.8 L776.5,372.8 L777.2,372.8 L777.9,372.8 L778.6,372.8 L779.3,372.8 L780.0,372.8 L780.7,372.8 L781.4,372.8 L782.1,372.8 L782.8,372.8 L783.5,372.8 L784.2,372.8 L784.9,372.8 L785.6,372.8 L786.3,372.8 L787.0,372.8 L787.7,372.8 L788.4,372.8 L789.1,372.8 L789.8,372.8 L790.5,372.8 L791.2,372.8 L791.9,372.9 L792.6,372.9 L793.3,372.9 L794.0,372.9 L794.7,372.9 L795.4,372.9 L796.1,372.9 L796.8,372.9 L797.5,372.9 L798.2,372.9 L798.9,372.9 L799.6,372.9 L800.3,372.9 L801.0,372.9 L801.7,372.9 L802.4,372.9 L803.1,372.9 L803.8,372.9 L804.5,372.9 L805.2,372.9 L805.9,372.9 L806.6,372.9 L807.3,372.9 L808.0,372.9 L808.7,372.9 L809.4,372.9 L810.1,372.9 L810.8,372.9 L811.5,372.9 L812.2,372.9 L812.9,372.9 L813.6,372.9 L814.3,372.9 L815.0,372.9 L815.8,372.9 L816.5,372.9 L817.2,372.9 L817.9,372.9 L818.6,372.9 L819.3,372.9 L820.0,372.9 L820.7,372.9 L821.4,372.9 L822.1,372.9 L822.8,372.9 L823.5,372.9 L824.2,372.9 L824.9,372.9 L825.6,372.9 L826.3,372.9 L827.0,372.9 L827.7,372.9 L828.4,372.9 L829.1,372.9 L829.8,372.9 L830.5,372.9 L831.2,372.9 L831.9,372.9 L832.6,372.9 L833.3,372.9 L834.0,372.9 L834.7,372.9 L835.4,372.9 L836.1,372.9 L836.8,372.9 L837.5,372.9 L838.2,372.9 L838.9,372.9 L839.7,372.9 L840.4,372.9 L841.1,372.9 L841.8,372.9 L842.5,372.9 L843.2,372.9 L843.9,372.9 L844.6,372.9 L845.3,372.9 L846.0,372.9 L846.7,372.9 L847.4,372.9 L848.1,372.9 L848.8,372.9 L849.5,372.9 L850.2,372.9 L850.9,372.9 L851.6,372.9 L852.3,372.9 L853.0,372.9 L853.7,372.9 L854.4,372.9 L855.1,372.9 L855.8,372.9 L856.5,372.9 L857.3,372.9 L858.0,372.9 L858.7,372.9 L859.4,372.9 L860.1,372.9 L860.8,372.9 L861.5,372.9 L862.2,372.9 L862.9,372.9 L863.6,372.9 L864.3,372.9 L865.0,372.9 L865.7,372.9 L866.4,372.9 L867.1,372.9 L867.8,372.9 L868.5,372.9 L869.2,372.9 L869.9,372.9 L870.6,372.9 L871.4,372.9 L872.1,372.9 L872.8,372.9 L873.5,372.9 L874.2,372.9 L874.9,372.9 L875.6,372.9 L876.3,372.9 L877.0,372.9 L877.7,372.9 L878.4,372.9 L879.1,372.9 L879.8,372.9 L880.5,372.9 L881.2,372.9 L881.9,372.9 L882.6,372.9 L883.3,372.9 L884.1,372.9 L884.8,372.9 L885.5,372.9 L886.2,372.9 L886.9,372.9 L887.6,372.9 L888.3,372.9 L889.0,372.9" fill="none" stroke="#008000" stroke-width="4.0" stroke-linejoin="round" stroke-linecap="round" stroke-opacity="0.5"/>
<path d="M194.4,372.9 L194.8,371.4 L195.2,370.0 L195.7,368.5 L196.1,367.1 L196.5,365.7 L197.0,364.2 L197.4,362.8 L197.9,361.3 L198.3,359.9 L198.8,358.5 L199.3,357.0 L199.7,355.6 L200.2,354.2 L200.7,352.7 L201.2,351.3 L201.7,349.9 L202.2,348.5 L202.7,347.1 L203.2,345.7 L203.8,344.2 L204.3,342.8 L204.8,341.4 L205.4,340.0 L206.0,338.6 L206.5,337.2 L207.1,335.8 L207.6,334.4 L208.2,333.0 L208.8,331.6 L209.3,330.2 L209.9,328.8 L210.4,327.4 L211.0,326.0 L211.6,324.6 L212.2,323.2 L212.8,321.8 L213.3,320.5 L213.9,319.1 L214.5,317.7 L215.1,316.3 L215.7,314.9 L216.3,313.5 L216.9,312.1 L217.5,310.8 L218.1,309.4 L218.7,308.0 L219.3,306.6 L219.9,305.2 L220.6,303.9 L221.2,302.5 L221.8,301.1 L222.4,299.8 L223.1,298.4 L223.7,297.0 L224.4,295.7 L225.0,294.3 L225.7,292.9 L226.3,291.6 L227.0,290.2 L227.7,288.9 L228.3,287.5 L229.0,286.2 L229.7,284.8 L230.4,283.5 L231.1,282.2 L231.8,280.8 L232.5,279.5 L233.2,278.1 L233.9,276.8 L234.6,275.5 L235.3,274.1 L236.0,272.8 L236.7,271.5 L237.5,270.2 L238.2,268.9 L239.0,267.6 L239.8,266.3 L240.6,265.0 L241.4,263.8 L242.3,262.5 L243.2,261.3 L244.1,260.1 L245.0,258.9 L245.9,257.7 L246.8,256.5 L247.8,255.3 L248.7,254.2 L249.7,253.0 L250.7,251.9 L251.8,250.8 L252.8,249.7 L253.8,248.6 L254.9,247.5 L256.0,246.5 L257.1,245.5 L258.2,244.5 L259.4,243.5 L260.5,242.5 L261.7,241.6 L262.9,240.6 L264.0,239.7 L265.1,238.6 L266.2,237.6 L267.3,236.6 L268.4,235.5 L269.6,234.5 L270.7,233.6 L271.9,232.6 L273.0,231.6 L274.2,230.7 L275.3,229.7 L276.5,228.7 L277.7,227.8 L278.9,226.9 L280.1,225.9 L281.2,225.0 L282.4,224.1 L283.6,223.1 L284.8,222.2 L286.0,221.3 L287.2,220.4 L288.4,219.5 L289.6,218.5 L290.8,217.6 L292.0,216.7 L293.2,215.8 L294.4,214.9 L295.6,214.0 L296.8,213.1 L298.0,212.2 L299.2,211.3 L300.4,210.4 L301.7,209.5 L302.9,208.6 L304.1,207.7 L305.3,206.8 L306.5,205.9 L307.7,205.0 L308.9,204.1 L310.1,203.2 L311.3,202.3 L312.5,201.3 L313.7,200.4 L314.9,199.5 L316.1,198.5 L317.3,197.6 L318.5,196.7 L319.7,195.8 L320.9,194.8 L322.1,193.9 L323.3,193.0 L324.5,192.2 L325.7,191.3 L326.9,190.4 L328.2,189.6 L329.4,188.7 L330.7,187.9 L332.0,187.1 L333.2,186.3 L334.5,185.4 L335.8,184.6 L337.1,183.8 L338.4,183.1 L339.6,182.3 L340.9,181.5 L342.3,180.7 L343.6,180.0 L344.9,179.3 L346.2,178.5 L347.5,177.8 L348.9,177.1 L350.2,176.5 L351.5,175.8 L352.9,175.1 L354.3,174.5 L355.6,173.8 L357.0,173.2 L358.4,172.6 L359.8,171.9 L361.1,171.3 L362.5,170.7 L363.9,170.1 L365.3,169.6 L366.7,169.0 L368.1,168.4 L369.5,167.8 L370.9,167.3 L372.3,166.7 L373.7,166.1 L375.1,165.6 L376.5,165.0 L377.9,164.5 L379.3,164.0 L380.7,163.5 L382.2,163.0 L383.6,162.5 L385.0,162.0 L386.4,161.5 L387.9,161.1 L389.3,160.7 L390.8,160.2 L392.2,159.8 L393.7,159.4 L395.1,159.0 L396.6,158.7 L398.1,158.3 L399.5,157.9 L401.0,157.5 L402.4,157.2 L403.9,156.8 L405.4,156.4 L406.8,156.0 L408.3,155.6 L409.7,155.2 L411.2,154.8 L412.6,154.5 L414.1,154.1 L415.6,153.7 L417.0,153.3 L418.5,152.9 L419.9,152.6 L421.4,152.2 L422.9,151.8 L424.3,151.5 L425.8,151.2 L427.3,150.8 L428.8,150.5 L430.2,150.2 L431.7,149.9 L433.2,149.6 L434.7,149.4 L436.2,149.1 L437.6,148.8 L439.1,148.5 L440.6,148.2 L442.1,147.9 L443.6,147.6 L445.0,147.3 L446.5,147.0 L448.0,146.6 L449.4,146.3 L450.9,145.9 L452.4,145.6 L453.8,145.2 L455.3,144.9 L456.8,144.5 L458.2,144.2 L459.7,143.9 L461.2,143.5 L462.7,143.2 L464.1,142.9 L465.6,142.6 L467.1,142.3 L468.6,142.0 L470.0,141.7 L471.5,141.4 L473.0,141.1 L474.5,140.8 L476.0,140.6 L477.4,140.3 L478.9,140.0 L480.4,139.7 L481.9,139.5 L483.4,139.2 L484.9,138.9 L486.4,138.7 L487.8,138.4 L489.3,138.2 L490.8,137.9 L492.3,137.7 L493.8,137.4 L495.3,137.2 L496.8,137.0 L498.3,136.7 L499.7,136.5 L501.2,136.3 L502.7,136.1 L504.2,135.9 L505.7,135.7 L507.2,135.5 L508.7,135.3 L510.2,135.1 L511.7,134.9 L513.2,134.7 L514.7,134.6 L516.2,134.4 L517.7,134.3 L519.2,134.2 L520.7,134.1 L522.2,134.0 L523.7,133.9 L525.2,133.8 L526.7,133.7 L528.2,133.6 L529.8,133.5 L531.3,133.5 L532.8,133.4 L534.3,133.4 L535.8,133.3 L537.3,133.3 L538.8,133.3 L540.3,133.3 L541.8,133.3 L543.3,133.3 L544.8,133.2 L546.3,133.2 L547.8,133.2 L549.3,133.2 L550.9,133.2 L552.4,133.2 L553.9,133.2 L555.4,133.2 L556.9,133.2 L558.4,133.2 L559.9,133.2 L561.4,133.2 L562.9,133.2 L564.4,133.2 L565.9,133.2 L567.4,133.2 L569.0,133.2 L570.5,133.2 L572.0,133.3 L573.5,133.3 L575.0,133.3 L576.5,133.3 L578.0,133.3 L579.5,133.3 L581.0,133.3 L582.5,133.4 L584.0,133.4 L585.5,133.4 L587.0,133.4 L588.6,133.4 L590.1,133.5 L591.6,133.5 L593.1,133.5 L594.6,133.5 L596.1,133.6 L597.6,133.6 L597.6,133.6 L597.8,135.1 L598.1,136.6 L598.3,138.1 L598.5,139.6 L598.8,141.1 L599.0,142.5 L599.2,144.0 L599.5,145.5 L599.7,147.0 L600.0,148.5 L600.2,150.0 L600.5,151.5 L600.7,153.0 L601.0,154.5 L601.2,155.9 L601.5,157.4 L601.7,158.9 L602.0,160.4 L602.3,161.9 L602.5,163.4 L602.8,164.9 L603.1,166.4 L603.3,167.8 L603.6,169.3 L603.9,170.8 L604.1,172.3 L604.4,173.8 L604.7,175.3 L604.9,176.8 L605.2,178.2 L605.4,179.7 L605.7,181.2 L606.0,182.7 L606.2,184.2 L606.5,185.7 L606.7,187.2 L607.0,188.6 L607.3,190.1 L607.5,191.6 L607.7,193.1 L608.0,194.6 L608.2,196.1 L608.5,197.6 L608.7,199.1 L608.9,200.6 L609.1,202.1 L609.4,203.6 L609.6,205.0 L609.8,206.5 L610.0,208.0 L610.3,209.5 L610.5,211.0 L610.7,212.5 L610.9,214.0 L611.1,215.5 L611.3,217.0 L611.5,218.5 L611.7,220.0 L611.9,221.5 L612.1,223.0 L612.3,224.5 L612.5,226.0 L612.7,227.5 L612.9,229.0 L613.1,230.5 L613.3,232.0 L613.4,233.5 L613.6,235.0 L613.8,236.5 L614.0,238.0 L614.2,239.5 L614.3,241.0 L614.5,242.5 L614.7,244.0 L614.9,245.5 L615.1,247.0 L615.3,248.4 L615.5,249.9 L615.7,251.4 L615.9,252.9 L616.1,254.4 L616.3,255.9 L616.5,257.4 L616.7,258.9 L616.9,260.4 L617.1,261.9 L617.3,263.4 L617.5,264.9 L617.8,266.4 L618.0,267.9 L618.2,269.4 L618.5,270.9 L618.7,272.4 L619.0,273.8 L619.3,275.3 L619.6,276.8 L619.9,278.3 L620.2,279.7 L620.6,281.2 L621.0,282.7 L621.4,284.1 L621.8,285.6 L622.2,287.0 L622.7,288.5 L623.1,289.9 L623.6,291.4 L624.0,292.8 L624.5,294.2 L624.9,295.7 L625.4,297.1 L625.9,298.5 L626.4,300.0 L626.9,301.4 L627.4,302.8 L627.8,304.3 L628.3,305.7 L628.7,307.2 L629.1,308.6 L629.5,310.1 L629.8,311.5 L630.2,313.0 L630.6,314.4 L631.0,315.9 L631.3,317.4 L631.7,318.9 L632.0,320.3 L632.3,321.8 L632.7,323.3 L633.0,324.7 L633.3,326.2 L633.6,327.7 L633.9,329.2 L634.2,330.7 L634.5,332.1 L634.8,333.6 L635.1,335.1 L635.4,336.6 L635.7,338.1 L636.0,339.6 L636.3,341.0 L636.7,342.5 L637.0,343.9 L637.4,345.4 L637.9,346.9 L638.3,348.3 L638.8,349.8 L639.2,351.2 L639.7,352.6 L640.3,354.0 L640.8,355.4 L641.4,356.8 L642.0,358.2 L642.7,359.6 L643.4,361.0 L644.2,362.3 L645.1,363.5 L646.0,364.6 L647.1,365.6 L648.3,366.5 L649.6,367.3 L651.0,368.1 L652.4,368.7 L653.7,369.2 L655.2,369.7 L656.7,370.1 L658.1,370.5 L659.6,370.8 L661.1,371.1 L662.6,371.4 L664.1,371.7 L665.6,371.9 L667.1,372.1 L668.6,372.2 L670.1,372.3 L671.6,372.3 L673.1,372.4 L674.6,372.4 L676.1,372.4 L677.6,372.4 L679.1,372.5 L680.6,372.5 L682.1,372.5 L683.6,372.5 L685.1,372.6 L686.6,372.6 L688.1,372.6 L689.6,372.6 L691.1,372.6 L692.6,372.7 L694.1,372.7 L695.6,372.7 L697.1,372.7 L698.6,372.7 L700.1,372.7 L701.6,372.8 L703.1,372.8 L704.6,372.8 L706.1,372.8 L707.6,372.8 L709.2,372.8 L710.7,372.8 L712.2,372.8 L713.7,372.8 L715.2,372.8 L716.7,372.8 L718.2,372.9 L719.7,372.9 L721.3,372.9 L722.8,372.9 L724.3,372.9 L725.8,372.9 L727.3,372.9 L728.8,372.9 L730.4,372.9 L731.9,372.9 L733.4,372.9 L734.9,372.9 L736.4,372.9 L738.0,372.9 L739.5,372.9 L741.0,372.9" fill="none" stroke="#008000" stroke-width="4.0" stroke-linejoin="miter" stroke-linecap="butt" stroke-dasharray="12.7 5.05"/>
<path d="M119.4,23.8 L153.5,23.8 L155.0,400.0 L155.4,350.8 L155.8,400.0 L156.3,267.0 L156.7,400.0 L157.2,231.4 L157.6,400.0 L158.1,243.8 L158.5,400.0 L159.0,266.5 L159.4,400.0 L159.9,288.0 L160.3,344.9 L160.8,304.8 L161.2,340.9 L161.7,316.8 L162.1,339.0 L162.6,321.5 L163.0,336.0 L163.5,324.0 L163.9,333.1 L164.4,325.8 L164.8,331.5 L165.3,327.3 L165.7,330.3 L166.2,328.1 L166.6,329.3 L167.5,329.6 L168.5,328.0 L169.5,328.8 L170.5,328.8 L171.5,329.6 L172.5,329.6 L173.5,329.6 L174.5,329.6 L175.5,328.0 L176.5,328.8 L177.5,328.8 L178.5,329.6 L179.5,328.0 L180.5,328.8 L181.5,328.8 L182.5,328.8 L183.5,328.6 L183.6,327.8 L183.7,327.0 L183.7,326.2 L183.8,325.4 L183.9,324.6 L184.0,323.8 L184.1,323.0 L184.1,322.2 L184.2,321.4 L184.3,320.6 L184.4,319.8 L184.4,319.0 L184.5,318.2 L184.6,317.4 L184.7,316.6 L184.7,315.8 L184.8,315.0 L184.8,314.2 L184.9,313.3 L185.0,312.5 L185.0,311.7 L185.1,310.9 L185.1,310.1 L185.2,309.3 L185.2,308.5 L185.3,307.7 L185.3,306.9 L185.4,306.1 L185.4,305.3 L185.4,304.5 L185.5,303.7 L185.5,302.9 L185.6,302.1 L185.6,301.3 L185.6,300.5 L185.7,299.7 L185.7,298.9 L185.8,298.1 L185.8,297.3 L185.8,296.4 L185.9,295.6 L185.9,294.8 L185.9,294.0 L186.0,293.2 L186.0,292.4 L186.0,291.6 L186.1,290.8 L186.1,290.0 L186.1,289.2 L186.2,288.4 L186.2,287.6 L186.2,286.8 L186.3,286.0 L186.3,285.2 L186.3,284.4 L186.4,283.6 L186.4,282.8 L186.5,281.9 L186.5,281.1 L186.5,280.3 L186.6,279.5 L186.6,278.7 L186.6,277.9 L186.7,277.1 L186.7,276.3 L186.8,275.5 L186.8,274.7 L186.9,273.9 L186.9,273.1 L186.9,272.3 L187.0,271.5 L187.0,270.7 L187.1,269.9 L187.1,269.1 L187.2,268.3 L187.2,267.5 L187.2,266.6 L187.3,265.8 L187.3,265.0 L187.4,264.2 L187.4,263.4 L187.5,262.6 L187.5,261.8 L187.5,261.0 L187.6,260.2 L187.6,259.4 L187.7,258.6 L187.7,257.8 L187.8,257.0 L187.8,256.2 L187.9,255.4 L188.0,254.6 L188.0,253.8 L188.1,253.0 L188.1,252.2 L188.2,251.4 L188.3,250.6 L188.3,249.8 L188.4,249.0 L188.4,248.1 L188.5,247.3 L188.6,246.5 L188.7,245.7 L188.7,244.9 L188.8,244.1 L188.9,243.3 L189.0,242.5 L189.1,241.7 L189.2,240.9 L189.3,240.1 L189.4,239.3 L189.5,238.5 L189.7,237.7 L189.8,236.9 L190.0,236.1 L190.2,235.1 L190.5,234.1 L190.9,233.4 L191.3,233.0 L191.9,233.0 L192.8,233.0 L193.6,233.0 L194.1,233.2 L194.5,233.8 L194.8,234.6 L195.0,235.6 L195.3,236.5 L195.6,237.3 L196.0,238.1 L196.3,238.8 L196.6,239.5 L196.9,240.3 L197.2,241.0 L197.5,241.8 L197.8,242.5 L198.1,243.3 L198.4,244.0 L198.7,244.8 L199.0,245.5 L199.2,246.3 L199.5,247.0 L199.8,247.8 L200.1,248.5 L200.5,249.3 L200.8,250.0 L201.1,250.8 L201.4,251.5 L201.7,252.3 L202.0,253.0 L202.3,253.7 L202.7,254.5 L203.0,255.2 L203.3,256.0 L203.6,256.7 L203.9,257.4 L204.3,258.2 L204.6,258.9 L204.9,259.7 L205.2,260.4 L205.6,261.1 L205.9,261.9 L206.2,262.6 L206.6,263.3 L206.9,264.1 L207.3,264.8 L207.6,265.5 L208.0,266.2 L208.4,267.0 L208.7,267.7 L209.1,268.4 L209.5,269.1 L209.9,269.8 L210.2,270.5 L210.6,271.2 L211.0,271.9 L211.5,272.6 L211.9,273.3 L212.3,274.0 L212.8,274.6 L213.2,275.3 L213.7,276.0 L214.1,276.7 L214.6,277.5 L215.1,278.1 L215.6,278.8 L216.1,279.3 L216.7,279.7 L217.4,280.1 L218.1,280.4 L218.9,280.6 L219.7,280.9 L220.5,281.1 L221.3,281.3 L222.1,281.5 L222.9,281.7 L223.7,281.8 L224.5,282.0 L225.3,282.1 L226.0,282.3 L226.8,282.5 L227.5,282.8 L228.2,283.1 L229.0,283.5 L229.7,283.9 L230.4,284.3 L231.1,284.7 L231.7,285.1 L232.4,285.6 L233.1,286.0 L233.8,286.5 L234.5,286.9 L235.2,287.3 L235.9,287.8 L236.6,288.2 L237.3,288.5 L238.1,288.9 L238.8,289.2 L239.5,289.5 L240.3,289.9 L241.0,290.2 L241.7,290.6 L242.5,290.9 L243.2,291.2 L244.0,291.6 L244.7,291.9 L245.5,292.2 L246.2,292.5 L247.0,292.8 L247.8,293.1 L248.5,293.4 L249.3,293.6 L250.1,293.8 L250.8,294.1 L251.6,294.2 L252.4,294.4 L253.2,294.6 L253.9,294.7 L254.7,294.8 L255.5,294.9 L256.3,295.0 L257.1,295.2 L257.9,295.3 L258.7,295.4 L259.5,295.5 L260.2,295.6 L261.0,295.7 L261.9,295.7 L262.7,295.8 L263.5,295.9 L264.3,296.0 L265.1,296.0 L265.9,296.1 L266.7,296.1 L267.5,296.2 L268.4,296.2 L269.2,296.2 L270.0,296.2 L271.0,296.0 L278.0,296.0 L278.0,296.0 L279.5,296.0 L279.5,296.0 L279.5,297.6 L284.5,297.6 L284.5,297.6 L284.5,300.8 L288.0,300.8 L288.0,300.8 L289.5,300.8 L289.5,300.8 L291.0,300.8 L291.0,300.8 L292.5,300.8 L292.5,300.8 L292.5,299.2 L296.0,299.2 L296.0,299.2 L296.0,300.8 L303.0,300.8 L303.0,300.8 L305.5,300.8 L305.5,300.8 L310.5,300.8 L310.5,300.8 L310.5,302.4 L312.0,302.4 L312.0,302.4 L312.0,305.6 L319.0,305.6 L319.0,305.6 L319.0,304.0 L322.5,304.0 L322.5,304.0 L329.5,304.0 L329.5,304.0 L331.0,304.0 L331.0,304.0 L331.0,305.6 L336.0,305.6 L336.0,305.6 L336.0,304.0 L341.0,304.0 L341.0,304.0 L341.0,305.6 L348.0,305.6 L348.0,305.6 L348.0,308.8 L353.0,308.8 L353.0,308.8 L353.0,307.2 L355.5,307.2 L355.5,307.2 L355.5,308.8 L358.0,308.8 L358.0,308.8 L358.0,307.2 L361.5,307.2 L361.5,307.2 L361.5,308.8 L365.0,308.8 L365.0,308.8 L365.0,307.2 L368.5,307.2 L368.5,307.2 L368.5,310.4 L370.0,310.4 L370.0,310.4 L370.0,307.2 L372.5,307.2 L372.5,307.2 L372.5,310.4 L379.5,310.4 L379.5,310.4 L379.5,308.8 L386.5,308.8 L386.5,308.8 L393.5,308.8 L393.5,308.8 L400.5,308.8 L400.5,308.8 L405.5,308.8 L405.5,308.8 L405.5,310.4 L412.5,310.4 L412.5,310.4 L412.5,308.8 L419.5,308.8 L419.5,308.8 L426.5,308.8 L426.5,308.8 L431.5,308.8 L431.5,308.8 L438.5,308.8 L438.5,308.8 L445.5,308.8 L445.5,308.8 L445.5,312.0 L449.0,312.0 L449.0,312.0 L449.0,310.4 L456.0,310.4 L456.0,310.4 L459.5,310.4 L459.5,310.4 L466.5,310.4 L466.5,310.4 L466.5,312.0 L469.0,312.0 L469.0,312.0 L471.5,312.0 L471.5,312.0 L471.5,310.4 L478.5,310.4 L478.5,310.4 L478.5,312.0 L481.0,312.0 L481.0,312.0 L488.0,312.0 L488.0,312.0 L490.5,312.0 L490.5,312.0 L490.5,308.8 L495.5,308.8 L495.5,308.8 L495.5,310.4 L502.5,310.4 L502.5,310.4 L502.5,312.0 L505.0,312.0 L505.0,312.0 L512.0,312.0 L512.0,312.0 L515.5,312.0 L515.5,312.0 L518.0,312.0 L518.0,312.0 L521.5,312.0 L521.5,312.0 L528.5,312.0 L528.5,312.0 L528.5,313.6 L531.0,313.6 L531.0,313.6 L531.0,310.4 L532.5,310.4 L532.5,310.4 L535.0,310.4 L535.0,310.4 L535.0,313.6 L538.5,313.6 L538.5,313.6 L538.5,312.0 L542.0,312.0 L542.0,312.0 L542.0,313.6 L544.5,313.6 L544.5,313.6 L544.5,310.4 L547.0,310.4 L547.0,310.4 L547.0,315.2 L548.5,315.2 L548.5,315.2 L548.5,312.0 L551.0,312.0 L551.0,312.0 L556.0,312.0 L556.0,312.0 L556.0,313.6 L559.5,313.6 L559.5,313.6 L563.0,313.6 L563.0,313.6 L570.0,313.6 L570.0,313.6 L571.5,313.6 L571.5,313.6 L575.0,313.6 L575.0,313.6 L575.0,312.0 L582.0,312.0 L582.0,312.0 L583.5,312.0 L583.5,312.0 L587.0,312.0 L587.0,312.0 L588.5,312.0 L588.5,312.0 L591.0,312.0 L591.0,312.0 L593.5,312.0 L593.5,312.0 L596.5,312.0 L597.0,312.4 L609.8,245.0 L619.5,181.6 L621.2,178.6 L622.6,177.3 L623.8,178.6 L625.5,184.5 L628.4,196.5 L629.4,198.4 L630.6,196.5 L630.6,196.5 L630.7,195.7 L630.9,194.9 L631.0,194.1 L631.1,193.3 L631.3,192.5 L631.4,191.7 L631.5,190.9 L631.6,190.1 L631.8,189.4 L631.9,188.6 L632.0,187.8 L632.1,187.0 L632.2,186.2 L632.4,185.4 L632.5,184.6 L632.6,183.8 L632.7,183.0 L632.8,182.2 L632.9,181.4 L633.0,180.6 L633.2,179.8 L633.3,179.0 L633.4,178.2 L633.5,177.4 L633.6,176.6 L633.7,175.8 L633.8,175.0 L633.9,174.2 L634.0,173.4 L634.1,172.6 L634.2,171.8 L634.3,171.0 L634.4,170.2 L634.5,169.4 L634.6,168.6 L634.7,167.8 L634.8,167.0 L634.9,166.2 L635.0,165.4 L635.1,164.6 L635.2,163.9 L635.3,163.1 L635.5,162.3 L635.6,161.5 L635.7,160.7 L635.8,159.9 L635.9,159.1 L636.0,158.3 L636.1,157.5 L636.2,156.7 L636.3,155.9 L636.4,155.1 L636.5,154.3 L636.6,153.5 L636.7,152.7 L636.8,151.9 L636.9,151.1 L637.0,150.3 L637.1,149.5 L637.2,148.7 L637.3,147.9 L637.4,147.1 L637.5,146.3 L637.6,145.5 L637.7,144.7 L637.8,143.9 L637.9,143.1 L638.0,142.3 L638.1,141.5 L638.2,140.7 L638.3,139.9 L638.4,139.1 L638.5,138.3 L638.6,137.5 L638.7,136.7 L638.8,135.9 L638.8,135.1 L638.9,134.3 L639.0,133.5 L639.1,132.7 L639.2,131.9 L639.3,131.1 L639.4,130.3 L639.5,129.5 L639.7,128.7 L639.8,127.9 L639.9,127.1 L640.0,126.3 L640.1,125.5 L640.2,124.7 L640.3,123.9 L640.4,123.1 L640.5,122.3 L640.6,121.5 L640.7,120.8 L640.8,120.0 L640.9,119.2 L641.0,118.4 L641.1,117.6 L641.2,116.8 L641.3,116.0 L641.4,115.2 L641.5,114.4 L641.6,113.6 L641.7,112.8 L641.8,112.0 L641.9,111.2 L642.0,110.4 L642.1,109.6 L642.2,108.8 L642.3,108.0 L642.4,107.2 L642.5,106.4 L642.6,105.6 L642.7,104.8 L642.8,104.0 L642.9,103.2 L643.1,102.4 L643.2,101.6 L643.3,100.8 L643.4,100.0 L643.5,99.2 L643.6,98.4 L643.8,97.6 L643.9,96.8 L644.0,96.0 L644.1,95.2 L644.3,94.5 L644.4,93.7 L644.5,92.9 L644.6,92.1 L644.8,91.3 L644.9,90.5 L645.0,89.7 L645.2,88.9 L645.3,88.1 L645.4,87.3 L645.6,86.5 L645.7,85.7 L645.9,84.9 L646.0,84.1 L646.1,83.3 L646.3,82.5 L646.4,81.8 L646.6,81.0 L646.8,80.2 L646.9,79.4 L647.1,78.6 L647.2,77.8 L647.4,77.0 L647.6,76.2 L647.7,75.5 L647.9,74.7 L648.1,73.9 L648.3,73.1 L648.5,72.3 L648.7,71.5 L648.8,70.8 L649.0,70.0 L649.2,69.2 L649.5,68.4 L649.7,67.6 L649.9,66.9 L650.1,66.1 L650.3,65.3 L650.5,64.5 L650.8,63.8 L651.0,63.0 L651.2,62.2 L651.5,61.5 L651.7,60.7 L652.0,59.9 L652.2,59.2 L652.5,58.4 L652.7,57.6 L653.0,56.9 L653.3,56.1 L653.5,55.4 L653.8,54.6 L654.1,53.9 L654.4,53.1 L654.7,52.4 L655.0,51.6 L655.3,50.9 L655.6,50.1 L655.9,49.4 L656.3,48.7 L656.6,47.9 L656.9,47.2 L657.3,46.5 L657.6,45.7 L658.0,45.0 L658.3,44.3 L658.7,43.6 L659.1,42.9 L659.5,42.1 L659.8,41.4 L660.2,40.0 L660.6,40.0 L661.0,40.0 L661.4,40.0 L661.9,40.0 L662.3,40.0 L662.3,36.8 L662.7,36.8 L663.2,36.8 L663.7,36.8 L664.1,36.8 L664.6,36.8 L664.6,33.6 L665.2,33.6 L665.7,33.6 L666.3,33.6 L666.8,33.6 L666.8,32.0 L667.4,32.0 L668.0,32.0 L668.7,32.0 L669.3,32.0 L669.3,28.8 L669.9,28.8 L670.6,28.8 L671.2,28.8 L671.9,28.8 L671.9,27.2 L672.5,27.2 L673.2,27.2 L673.9,27.2 L673.9,25.6 L674.6,25.6 L675.3,25.6 L676.1,25.6 L676.8,25.6 L677.5,25.6 L678.3,25.6 L678.3,24.0 L679.0,24.0 L679.8,24.0 L680.5,24.0 L681.3,24.0 L682.0,24.0 L682.8,24.0 L682.8,22.4 L683.6,22.4 L684.3,22.4 L685.1,22.4 L685.9,22.4 L686.7,22.4 L687.5,22.4 L687.5,20.8 L688.3,20.8 L689.1,20.8 L689.9,20.8 L690.7,20.8 L691.5,20.8 L692.3,20.8 L693.1,20.8 L693.9,20.8 L694.7,20.8 L695.5,20.8 L696.3,20.8 L697.1,20.8 L697.9,20.8 L698.7,20.8 L699.5,20.8 L700.5,20.6 L701.5,17.7 L735.9,17.7 L736.6,13.5 L737.3,17.7 L755.3,17.7 L756.0,13.0 L756.7,17.7 L759.3,17.7 L760.0,12.5 L760.7,17.7 L764.3,17.7 L765.0,13.0 L765.7,17.7 L768.3,17.7 L769.0,12.0 L769.7,17.7 L773.3,17.7 L774.0,13.0 L774.7,17.7 L778.3,17.7 L779.0,12.5 L779.7,17.7 L782.3,17.7 L783.0,13.5 L783.7,17.7 L807.2,17.7 L807.9,13.0 L808.6,17.7 L815.6,17.7 L816.3,13.0 L817.0,17.7 L889.0,17.7" fill="none" stroke="#ff0000" stroke-width="4.0" stroke-linejoin="miter" stroke-linecap="round"/></g>
<rect x="119.40" y="11.10" width="769.60" height="361.80" fill="none" stroke="#000" stroke-width="3.8"/>
<rect x="149.00" y="398.10" width="444.00" height="361.90" fill="#ebebeb"/>
<line x1="149.00" x2="149.00" y1="760.00" y2="739.00" stroke="#000" stroke-width="3.5"/>
<line x1="178.60" x2="178.60" y1="760.00" y2="751.20" stroke="#000" stroke-width="2.5"/>
<line x1="208.20" x2="208.20" y1="760.00" y2="751.20" stroke="#000" stroke-width="2.5"/>
<line x1="237.80" x2="237.80" y1="760.00" y2="751.20" stroke="#000" stroke-width="2.5"/>
<line x1="267.40" x2="267.40" y1="760.00" y2="751.20" stroke="#000" stroke-width="2.5"/>
<line x1="297.00" x2="297.00" y1="760.00" y2="739.00" stroke="#000" stroke-width="3.5"/>
<line x1="326.60" x2="326.60" y1="760.00" y2="751.20" stroke="#000" stroke-width="2.5"/>
<line x1="356.20" x2="356.20" y1="760.00" y2="751.20" stroke="#000" stroke-width="2.5"/>
<line x1="385.80" x2="385.80" y1="760.00" y2="751.20" stroke="#000" stroke-width="2.5"/>
<line x1="415.40" x2="415.40" y1="760.00" y2="751.20" stroke="#000" stroke-width="2.5"/>
<line x1="445.00" x2="445.00" y1="760.00" y2="739.00" stroke="#000" stroke-width="3.5"/>
<line x1="474.60" x2="474.60" y1="760.00" y2="751.20" stroke="#000" stroke-width="2.5"/>
<line x1="504.20" x2="504.20" y1="760.00" y2="751.20" stroke="#000" stroke-width="2.5"/>
<line x1="533.80" x2="533.80" y1="760.00" y2="751.20" stroke="#000" stroke-width="2.5"/>
<line x1="563.40" x2="563.40" y1="760.00" y2="751.20" stroke="#000" stroke-width="2.5"/>
<line x1="593.00" x2="593.00" y1="760.00" y2="739.00" stroke="#000" stroke-width="3.5"/>
<line x1="622.60" x2="622.60" y1="760.00" y2="751.20" stroke="#000" stroke-width="2.5"/>
<line x1="652.20" x2="652.20" y1="760.00" y2="751.20" stroke="#000" stroke-width="2.5"/>
<line x1="681.80" x2="681.80" y1="760.00" y2="751.20" stroke="#000" stroke-width="2.5"/>
<line x1="711.40" x2="711.40" y1="760.00" y2="751.20" stroke="#000" stroke-width="2.5"/>
<line x1="741.00" x2="741.00" y1="760.00" y2="739.00" stroke="#000" stroke-width="3.5"/>
<line x1="770.60" x2="770.60" y1="760.00" y2="751.20" stroke="#000" stroke-width="2.5"/>
<line x1="800.20" x2="800.20" y1="760.00" y2="751.20" stroke="#000" stroke-width="2.5"/>
<line x1="829.80" x2="829.80" y1="760.00" y2="751.20" stroke="#000" stroke-width="2.5"/>
<line x1="859.40" x2="859.40" y1="760.00" y2="751.20" stroke="#000" stroke-width="2.5"/>
<line x1="119.40" x2="140.40" y1="760.00" y2="760.00" stroke="#000" stroke-width="3.5"/>
<line x1="889.00" x2="868.00" y1="760.00" y2="760.00" stroke="#000" stroke-width="3.5"/>
<line x1="119.40" x2="128.20" y1="743.92" y2="743.92" stroke="#000" stroke-width="2.5"/>
<line x1="889.00" x2="880.20" y1="743.92" y2="743.92" stroke="#000" stroke-width="2.5"/>
<line x1="119.40" x2="128.20" y1="727.83" y2="727.83" stroke="#000" stroke-width="2.5"/>
<line x1="889.00" x2="880.20" y1="727.83" y2="727.83" stroke="#000" stroke-width="2.5"/>
<line x1="119.40" x2="128.20" y1="711.75" y2="711.75" stroke="#000" stroke-width="2.5"/>
<line x1="889.00" x2="880.20" y1="711.75" y2="711.75" stroke="#000" stroke-width="2.5"/>
<line x1="119.40" x2="128.20" y1="695.66" y2="695.66" stroke="#000" stroke-width="2.5"/>
<line x1="889.00" x2="880.20" y1="695.66" y2="695.66" stroke="#000" stroke-width="2.5"/>
<line x1="119.40" x2="140.40" y1="679.58" y2="679.58" stroke="#000" stroke-width="3.5"/>
<line x1="889.00" x2="868.00" y1="679.58" y2="679.58" stroke="#000" stroke-width="3.5"/>
<line x1="119.40" x2="128.20" y1="663.49" y2="663.49" stroke="#000" stroke-width="2.5"/>
<line x1="889.00" x2="880.20" y1="663.49" y2="663.49" stroke="#000" stroke-width="2.5"/>
<line x1="119.40" x2="128.20" y1="647.41" y2="647.41" stroke="#000" stroke-width="2.5"/>
<line x1="889.00" x2="880.20" y1="647.41" y2="647.41" stroke="#000" stroke-width="2.5"/>
<line x1="119.40" x2="128.20" y1="631.32" y2="631.32" stroke="#000" stroke-width="2.5"/>
<line x1="889.00" x2="880.20" y1="631.32" y2="631.32" stroke="#000" stroke-width="2.5"/>
<line x1="119.40" x2="128.20" y1="615.24" y2="615.24" stroke="#000" stroke-width="2.5"/>
<line x1="889.00" x2="880.20" y1="615.24" y2="615.24" stroke="#000" stroke-width="2.5"/>
<line x1="119.40" x2="140.40" y1="599.16" y2="599.16" stroke="#000" stroke-width="3.5"/>
<line x1="889.00" x2="868.00" y1="599.16" y2="599.16" stroke="#000" stroke-width="3.5"/>
<line x1="119.40" x2="128.20" y1="583.07" y2="583.07" stroke="#000" stroke-width="2.5"/>
<line x1="889.00" x2="880.20" y1="583.07" y2="583.07" stroke="#000" stroke-width="2.5"/>
<line x1="119.40" x2="128.20" y1="566.99" y2="566.99" stroke="#000" stroke-width="2.5"/>
<line x1="889.00" x2="880.20" y1="566.99" y2="566.99" stroke="#000" stroke-width="2.5"/>
<line x1="119.40" x2="128.20" y1="550.90" y2="550.90" stroke="#000" stroke-width="2.5"/>
<line x1="889.00" x2="880.20" y1="550.90" y2="550.90" stroke="#000" stroke-width="2.5"/>
<line x1="119.40" x2="128.20" y1="534.82" y2="534.82" stroke="#000" stroke-width="2.5"/>
<line x1="889.00" x2="880.20" y1="534.82" y2="534.82" stroke="#000" stroke-width="2.5"/>
<line x1="119.40" x2="140.40" y1="518.73" y2="518.73" stroke="#000" stroke-width="3.5"/>
<line x1="889.00" x2="868.00" y1="518.73" y2="518.73" stroke="#000" stroke-width="3.5"/>
<line x1="119.40" x2="128.20" y1="502.65" y2="502.65" stroke="#000" stroke-width="2.5"/>
<line x1="889.00" x2="880.20" y1="502.65" y2="502.65" stroke="#000" stroke-width="2.5"/>
<line x1="119.40" x2="128.20" y1="486.56" y2="486.56" stroke="#000" stroke-width="2.5"/>
<line x1="889.00" x2="880.20" y1="486.56" y2="486.56" stroke="#000" stroke-width="2.5"/>
<line x1="119.40" x2="128.20" y1="470.48" y2="470.48" stroke="#000" stroke-width="2.5"/>
<line x1="889.00" x2="880.20" y1="470.48" y2="470.48" stroke="#000" stroke-width="2.5"/>
<line x1="119.40" x2="128.20" y1="454.40" y2="454.40" stroke="#000" stroke-width="2.5"/>
<line x1="889.00" x2="880.20" y1="454.40" y2="454.40" stroke="#000" stroke-width="2.5"/>
<line x1="119.40" x2="140.40" y1="438.31" y2="438.31" stroke="#000" stroke-width="3.5"/>
<line x1="889.00" x2="868.00" y1="438.31" y2="438.31" stroke="#000" stroke-width="3.5"/>
<line x1="119.40" x2="128.20" y1="422.23" y2="422.23" stroke="#000" stroke-width="2.5"/>
<line x1="889.00" x2="880.20" y1="422.23" y2="422.23" stroke="#000" stroke-width="2.5"/>
<line x1="119.40" x2="128.20" y1="406.14" y2="406.14" stroke="#000" stroke-width="2.5"/>
<line x1="889.00" x2="880.20" y1="406.14" y2="406.14" stroke="#000" stroke-width="2.5"/>
<text x="104.80" y="771.80" text-anchor="end" font-size="31.25">0</text>
<text x="104.80" y="691.38" text-anchor="end" font-size="31.25">10</text>
<text x="104.80" y="610.96" text-anchor="end" font-size="31.25">20</text>
<text x="104.80" y="530.53" text-anchor="end" font-size="31.25">30</text>
<text x="104.80" y="450.11" text-anchor="end" font-size="31.25">40</text>
<g clip-path="url(#clipb)"><path d="M192.8,662.8 L194.2,663.3 L195.6,663.9 L197.0,664.4 L198.4,665.0 L199.8,665.6 L201.2,666.1 L202.7,666.6 L204.1,667.0 L205.6,667.2 L207.1,667.3 L208.6,667.3 L210.1,667.2 L211.6,667.0 L213.1,666.8 L214.6,666.6 L216.1,666.4 L217.6,666.2 L219.1,665.9 L220.5,665.6 L222.0,665.4 L223.5,665.2 L225.0,665.1 L226.5,664.9 L228.0,664.8 L229.5,664.7 L231.0,664.6 L232.5,664.5 L234.0,664.5 L235.5,664.6 L237.0,664.7 L238.5,664.8 L240.0,665.0 L241.5,665.2 L243.0,665.3 L244.5,665.5 L246.0,665.7 L247.5,665.9 L249.0,666.1 L250.5,666.3 L252.0,666.6 L253.5,666.8 L254.9,667.0 L256.4,667.3 L257.9,667.6 L259.4,667.8 L260.9,668.1 L262.4,668.3 L263.8,668.6 L265.3,668.9 L266.8,669.2 L268.3,669.5 L269.8,669.7 L271.2,670.0 L272.7,670.3 L274.2,670.6 L275.7,670.9 L277.2,671.2 L278.6,671.5 L280.1,671.7 L281.6,672.0 L283.1,672.3 L284.5,672.6 L286.0,672.9 L287.5,673.2 L289.0,673.5 L290.4,673.8 L291.9,674.1 L293.4,674.4 L294.9,674.7 L296.3,675.0 L297.8,675.3 L299.3,675.6 L300.8,675.9 L302.3,676.2 L303.7,676.5 L305.2,676.8 L306.7,677.1 L308.2,677.4 L309.6,677.7 L311.1,678.0 L312.6,678.3 L314.1,678.6 L315.5,678.9 L317.0,679.2 L318.5,679.5 L320.0,679.8 L321.4,680.1 L322.9,680.4 L324.4,680.7 L325.9,681.0 L327.3,681.2 L328.8,681.5 L330.3,681.8 L331.8,682.1 L333.2,682.4 L334.7,682.7 L336.2,683.0 L337.7,683.3 L339.2,683.6 L340.6,683.9 L342.1,684.2 L343.6,684.5 L345.1,684.8 L346.5,685.1 L348.0,685.4 L349.5,685.7 L351.0,685.9 L352.5,686.2 L353.9,686.5 L355.4,686.8 L356.9,687.0 L358.4,687.3 L359.9,687.5 L361.3,687.8 L362.8,688.1 L364.3,688.3 L365.8,688.6 L367.3,688.8 L368.8,689.1 L370.3,689.3 L371.7,689.6 L373.2,689.8 L374.7,690.0 L376.2,690.3 L377.7,690.5 L379.2,690.7 L380.7,691.0 L382.2,691.2 L383.6,691.4 L385.1,691.6 L386.6,691.8 L388.1,692.0 L389.6,692.2 L391.1,692.4 L392.6,692.6 L394.1,692.8 L395.6,693.0 L397.1,693.2 L398.6,693.4 L400.1,693.7 L401.5,693.9 L403.0,694.2 L404.5,694.5 L406.0,694.8 L407.4,695.1 L408.9,695.4 L410.4,695.7 L411.9,696.0 L413.3,696.3 L414.8,696.6 L416.3,696.8 L417.8,697.1 L419.3,697.4 L420.8,697.6 L422.2,697.9 L423.7,698.2 L425.2,698.4 L426.7,698.7 L428.2,698.9 L429.7,699.2 L431.1,699.4 L432.6,699.6 L434.1,699.9 L435.6,700.1 L437.1,700.3 L438.6,700.5 L440.1,700.7 L441.6,700.9 L443.1,701.1 L444.6,701.3 L446.0,701.5 L447.5,701.7 L449.0,701.9 L450.5,702.1 L452.0,702.3 L453.5,702.5 L455.0,702.6 L456.5,702.8 L458.0,703.0 L459.5,703.2 L461.0,703.3 L462.5,703.5 L464.0,703.6 L465.5,703.8 L467.0,703.9 L468.5,704.1 L470.0,704.2 L471.5,704.3 L473.0,704.5 L474.5,704.6 L476.0,704.7 L477.5,704.9 L479.0,705.0 L480.5,705.1 L482.0,705.2 L483.5,705.4 L485.0,705.5 L486.5,705.6 L488.0,705.7 L489.5,705.8 L491.0,705.9 L492.5,706.0 L494.0,706.1 L495.5,706.2 L497.0,706.3 L498.5,706.4 L500.0,706.5 L501.5,706.6 L503.0,706.7 L504.5,706.7 L506.0,706.8 L507.5,706.9 L509.0,707.0 L510.5,707.1 L512.0,707.1 L513.6,707.2 L515.1,707.3 L516.6,707.3 L518.1,707.4 L519.6,707.5 L521.1,707.6 L522.6,707.6 L524.1,707.7 L525.6,707.8 L527.1,707.8 L528.6,707.9 L530.1,708.0 L531.6,708.0 L533.1,708.1 L534.6,708.2 L536.1,708.2 L537.6,708.3 L539.1,708.4 L540.6,708.4 L542.1,708.5 L543.6,708.5 L545.1,708.6 L546.6,708.7 L548.1,708.7 L549.7,708.8 L551.2,708.8 L552.7,708.9 L554.2,708.9 L555.7,709.0 L557.2,709.1 L558.7,709.1 L560.2,709.2 L561.7,709.2 L563.2,709.3 L564.7,709.3 L566.2,709.4 L567.7,709.4 L569.2,709.5 L570.7,709.5 L572.2,709.5 L573.7,709.6 L575.2,709.6 L576.7,709.7 L578.2,709.7 L579.8,709.8 L581.3,709.8 L582.8,709.8 L584.3,709.9 L585.8,709.9 L587.3,710.0 L588.8,710.0 L590.3,710.1 L591.8,710.1 L593.3,710.1 L594.8,710.1 L596.3,710.0 L597.8,709.9 L599.3,709.8 L600.8,709.6 L602.3,709.3 L603.8,709.0 L605.2,708.6 L606.7,708.2 L608.1,707.8 L609.5,707.3 L611.0,706.8 L612.4,706.3 L613.8,705.8 L615.2,705.3 L616.6,704.7 L618.0,704.1 L619.3,703.4 L620.7,702.8 L622.0,702.1 L623.4,701.5 L624.8,700.8 L626.1,700.2 L627.5,699.6 L628.9,699.0 L630.3,698.4 L631.7,697.8 L633.1,697.2 L634.4,696.7 L635.8,696.1 L637.2,695.5 L638.6,695.0 L640.1,694.5 L641.5,693.9 L642.9,693.4 L644.3,692.9 L645.7,692.4 L647.1,691.9 L648.5,691.3 L650.0,690.9 L651.4,690.4 L652.8,689.9 L654.2,689.4 L655.7,688.9 L657.1,688.5 L658.5,688.0 L660.0,687.6 L661.4,687.2 L662.9,686.7 L664.3,686.3 L665.7,685.9 L667.2,685.4 L668.6,685.0 L670.1,684.6 L671.5,684.2 L673.0,683.8 L674.5,683.4 L675.9,683.0 L677.4,682.7 L678.8,682.3 L680.3,681.9 L681.7,681.6 L683.2,681.2 L684.7,680.9 L686.1,680.5 L687.6,680.2 L689.1,679.8 L690.5,679.5 L692.0,679.2 L693.5,678.9 L695.0,678.5 L696.4,678.2 L697.9,677.9 L699.4,677.6 L700.9,677.3 L702.3,677.0 L703.8,676.7 L705.3,676.4 L706.8,676.2 L708.2,675.9 L709.7,675.6 L711.2,675.3 L712.7,675.0 L714.2,674.8 L715.6,674.5 L717.1,674.3 L718.6,674.0 L720.1,673.8 L721.6,673.6 L723.1,673.3 L724.6,673.1 L726.1,672.9 L727.5,672.7 L729.0,672.5 L730.5,672.3 L732.0,672.1 L733.5,671.9 L735.0,671.7 L736.5,671.5 L738.0,671.3 L739.5,671.2 L741.0,671.0" fill="none" stroke="#ff7f0e" stroke-width="4.0" stroke-linejoin="round" stroke-linecap="round"/>
<path d="M193.0,760.0 L194.5,759.8 L196.0,759.6 L197.5,759.3 L198.9,759.0 L200.4,758.6 L201.8,758.2 L203.3,757.8 L204.8,757.4 L206.2,757.1 L207.7,756.8 L209.2,756.8 L210.7,756.8 L212.2,756.9 L213.7,757.0 L215.2,757.1 L216.7,757.2 L218.2,757.3 L219.7,757.5 L221.2,757.6 L222.7,757.8 L224.2,757.9 L225.7,758.1 L227.3,758.2 L228.8,758.3 L230.3,758.4 L231.8,758.6 L233.3,758.7 L234.8,758.8 L236.3,758.9 L237.8,759.0 L239.3,759.1 L240.8,759.3 L242.3,759.4 L243.8,759.6 L245.3,759.7 L246.8,759.8 L248.3,759.9 L249.8,760.0 L251.3,760.0 L252.8,760.1 L254.3,760.1 L255.8,760.1 L257.3,760.1 L258.8,760.2 L260.3,760.2 L261.8,760.2 L263.3,760.2 L264.8,760.3 L266.3,760.3 L267.8,760.3 L269.4,760.3 L270.9,760.3 L272.4,760.4 L273.9,760.4 L275.4,760.4 L276.9,760.4 L278.4,760.4 L279.9,760.4 L281.4,760.4 L282.9,760.4 L284.4,760.5 L285.9,760.5 L287.4,760.5 L289.0,760.5 L290.5,760.5 L292.0,760.5 L293.5,760.5 L295.0,760.5 L296.5,760.5 L298.0,760.5 L299.5,760.5 L301.0,760.5 L302.5,760.5 L304.0,760.5 L305.5,760.5 L307.0,760.5 L308.5,760.5 L310.1,760.5 L311.6,760.5 L313.1,760.5 L314.6,760.5 L316.1,760.5 L317.6,760.5 L319.1,760.5 L320.6,760.5 L322.1,760.5 L323.6,760.5 L325.1,760.5 L326.6,760.5 L328.1,760.5 L329.6,760.5 L331.1,760.5 L332.7,760.5 L334.2,760.5 L335.7,760.5 L337.2,760.5 L338.7,760.5 L340.2,760.5 L341.7,760.5 L343.2,760.5 L344.7,760.5 L346.2,760.5 L347.7,760.5 L349.2,760.5 L350.7,760.5 L352.2,760.5 L353.7,760.5 L355.3,760.5 L356.8,760.5 L358.3,760.5 L359.8,760.5 L361.3,760.5 L362.8,760.5 L364.3,760.5 L365.8,760.5 L367.3,760.5 L368.8,760.5 L370.3,760.5 L371.8,760.5 L373.3,760.5 L374.8,760.5 L376.3,760.5 L377.9,760.5 L379.4,760.5 L380.9,760.5 L382.4,760.5 L383.9,760.5 L385.4,760.5 L386.9,760.5 L388.4,760.5 L389.9,760.5 L391.4,760.5 L392.9,760.5 L394.4,760.5 L395.9,760.5 L397.4,760.5 L399.0,760.5 L400.5,760.5 L402.0,760.5 L403.5,760.5 L405.0,760.5 L406.5,760.5 L408.0,760.5 L409.5,760.5 L411.0,760.5 L412.5,760.5 L414.0,760.5 L415.5,760.5 L417.0,760.5 L418.5,760.5 L420.0,760.5 L421.6,760.5 L423.1,760.5 L424.6,760.5 L426.1,760.5 L427.6,760.5 L429.1,760.5 L430.6,760.5 L432.1,760.5 L433.6,760.5 L435.1,760.5 L436.6,760.5 L438.1,760.5 L439.6,760.5 L441.1,760.5 L442.6,760.5 L444.2,760.5 L445.7,760.5 L447.2,760.5 L448.7,760.5 L450.2,760.5 L451.7,760.5 L453.2,760.5 L454.7,760.5 L456.2,760.5 L457.7,760.5 L459.2,760.5 L460.7,760.5 L462.2,760.5 L463.7,760.5 L465.2,760.5 L466.8,760.5 L468.3,760.5 L469.8,760.5 L471.3,760.5 L472.8,760.5 L474.3,760.5 L475.8,760.5 L477.3,760.5 L478.8,760.5 L480.3,760.5 L481.8,760.5 L483.3,760.5 L484.8,760.5 L486.3,760.5 L487.9,760.5 L489.4,760.5 L490.9,760.5 L492.4,760.5 L493.9,760.5 L495.4,760.5 L496.9,760.5 L498.4,760.5 L499.9,760.5 L501.4,760.5 L502.9,760.5 L504.4,760.5 L505.9,760.5 L507.4,760.5 L508.9,760.5 L510.5,760.5 L512.0,760.5 L513.5,760.5 L515.0,760.5 L516.5,760.5 L518.0,760.5 L519.5,760.5 L521.0,760.5 L522.5,760.5 L524.0,760.5 L525.5,760.5 L527.0,760.5 L528.5,760.5 L530.0,760.5 L531.5,760.5 L533.1,760.5 L534.6,760.5 L536.1,760.5 L537.6,760.5 L539.1,760.5 L540.6,760.5 L542.1,760.5 L543.6,760.5 L545.1,760.5 L546.6,760.5 L548.1,760.5 L549.6,760.5 L551.1,760.5 L552.6,760.5 L554.2,760.5 L555.7,760.5 L557.2,760.5 L558.7,760.5 L560.2,760.5 L561.7,760.5 L563.2,760.5 L564.7,760.5 L566.2,760.5 L567.7,760.5 L569.2,760.5 L570.7,760.5 L572.2,760.5 L573.7,760.5 L575.2,760.5 L576.8,760.5 L578.3,760.5 L579.8,760.5 L581.3,760.5 L582.8,760.5 L584.3,760.5 L585.8,760.5 L587.3,760.5 L588.8,760.5 L590.3,760.5 L591.8,760.5 L593.3,760.5 L594.8,760.5 L596.3,760.5 L597.8,760.5 L599.4,760.5 L600.9,760.5 L602.4,760.5 L603.9,760.5 L605.4,760.5 L606.9,760.5 L608.4,760.5 L609.9,760.5 L611.4,760.5 L612.9,760.5 L614.4,760.5 L615.9,760.5 L617.4,760.5 L618.9,760.5 L620.5,760.5 L622.0,760.5 L623.5,760.5 L625.0,760.5 L626.5,760.5 L628.0,760.5 L629.5,760.5 L631.0,760.5 L632.5,760.5 L634.0,760.5 L635.5,760.5 L637.0,760.5 L638.5,760.5 L640.0,760.5 L641.5,760.5 L643.1,760.5 L644.6,760.5 L646.1,760.5 L647.6,760.5 L649.1,760.5 L650.6,760.5 L652.1,760.5 L653.6,760.5 L655.1,760.5 L656.6,760.5 L658.1,760.5 L659.6,760.5 L661.1,760.5 L662.6,760.5 L664.1,760.5 L665.7,760.5 L667.2,760.5 L668.7,760.5 L670.2,760.5 L671.7,760.5 L673.2,760.5 L674.7,760.5 L676.2,760.5 L677.7,760.5 L679.2,760.5 L680.7,760.5 L682.2,760.5 L683.7,760.5 L685.2,760.5 L686.8,760.5 L688.3,760.5 L689.8,760.5 L691.3,760.5 L692.8,760.5 L694.3,760.5 L695.8,760.5 L697.3,760.5 L698.8,760.5 L700.3,760.5 L701.8,760.5 L703.3,760.5 L704.8,760.5 L706.3,760.5 L707.8,760.5 L709.4,760.5 L710.9,760.5 L712.4,760.5 L713.9,760.5 L715.4,760.5 L716.9,760.5 L718.4,760.5 L719.9,760.5 L721.4,760.5 L722.9,760.5 L724.4,760.5 L725.9,760.5 L727.4,760.5 L728.9,760.5 L730.5,760.5 L732.0,760.5 L733.5,760.5 L735.0,760.5 L736.5,760.5 L738.0,760.5 L739.5,760.5 L741.0,760.5" fill="none" stroke="#d62728" stroke-width="4.0" stroke-linejoin="round" stroke-linecap="round"/>
<path d="M193.0,759.5 L194.4,759.0 L195.9,758.5 L197.3,757.9 L198.6,757.2 L199.9,756.5 L201.2,755.8 L202.4,754.9 L203.6,754.0 L204.8,753.0 L206.1,752.2 L207.4,751.4 L208.7,750.7 L210.0,749.9 L211.4,749.2 L212.7,748.5 L214.0,747.8 L215.3,747.0 L216.6,746.3 L217.9,745.5 L219.2,744.7 L220.5,743.9 L221.7,743.0 L222.9,742.1 L224.1,741.2 L225.2,740.2 L226.3,739.2 L227.4,738.1 L228.4,737.0 L229.5,735.9 L230.5,734.8 L231.5,733.6 L232.4,732.5 L233.3,731.3 L234.2,730.1 L235.1,728.9 L236.0,727.6 L236.9,726.4 L237.8,725.2 L238.6,723.9 L239.5,722.7 L240.5,721.5 L241.4,720.3 L242.3,719.1 L243.2,717.9 L244.1,716.7 L245.0,715.5 L245.9,714.3 L246.9,713.1 L247.8,711.9 L248.7,710.7 L249.6,709.5 L250.5,708.3 L251.4,707.1 L252.3,705.9 L253.2,704.7 L254.1,703.5 L255.0,702.3 L255.9,701.0 L256.7,699.8 L257.6,698.6 L258.5,697.4 L259.4,696.2 L260.3,694.9 L261.2,693.7 L262.1,692.5 L263.0,691.3 L263.8,690.1 L264.7,688.8 L265.6,687.6 L266.5,686.4 L267.4,685.2 L268.2,683.9 L269.1,682.7 L270.0,681.5 L270.9,680.2 L271.7,679.0 L272.6,677.8 L273.5,676.6 L274.3,675.3 L275.2,674.1 L276.1,672.9 L276.9,671.6 L277.8,670.4 L278.7,669.2 L279.5,667.9 L280.4,666.7 L281.3,665.5 L282.1,664.2 L283.0,663.0 L283.9,661.7 L284.7,660.5 L285.6,659.3 L286.5,658.0 L287.3,656.8 L288.2,655.6 L289.0,654.3 L289.9,653.1 L290.8,651.8 L291.6,650.6 L292.5,649.4 L293.3,648.1 L294.2,646.9 L295.1,645.7 L295.9,644.4 L296.8,643.2 L297.6,641.9 L298.5,640.7 L299.4,639.5 L300.2,638.2 L301.1,637.0 L301.9,635.7 L302.8,634.5 L303.7,633.3 L304.5,632.0 L305.4,630.8 L306.2,629.6 L307.1,628.3 L308.0,627.1 L308.8,625.8 L309.7,624.6 L310.6,623.4 L311.4,622.1 L312.3,620.9 L313.2,619.7 L314.0,618.4 L314.9,617.2 L315.8,616.0 L316.7,614.7 L317.5,613.5 L318.4,612.3 L319.3,611.1 L320.1,609.8 L321.0,608.6 L321.9,607.4 L322.8,606.2 L323.7,604.9 L324.5,603.7 L325.4,602.5 L326.3,601.3 L327.2,600.1 L328.1,598.8 L329.0,597.6 L329.9,596.4 L330.8,595.2 L331.7,594.0 L332.6,592.8 L333.5,591.6 L334.4,590.4 L335.3,589.1 L336.2,587.9 L337.1,586.7 L338.0,585.5 L338.9,584.3 L339.8,583.1 L340.8,581.9 L341.7,580.8 L342.6,579.6 L343.5,578.4 L344.5,577.2 L345.4,576.0 L346.3,574.8 L347.3,573.6 L348.2,572.5 L349.1,571.3 L350.1,570.1 L351.0,568.9 L352.0,567.8 L352.9,566.6 L353.9,565.4 L354.8,564.2 L355.8,563.1 L356.8,561.9 L357.7,560.8 L358.7,559.6 L359.7,558.4 L360.6,557.3 L361.6,556.1 L362.6,555.0 L363.6,553.8 L364.5,552.7 L365.5,551.6 L366.5,550.4 L367.5,549.3 L368.5,548.1 L369.5,547.0 L370.5,545.9 L371.5,544.8 L372.5,543.6 L373.5,542.5 L374.5,541.4 L375.5,540.3 L376.5,539.2 L377.6,538.0 L378.6,536.9 L379.6,535.8 L380.6,534.7 L381.7,533.6 L382.7,532.5 L383.7,531.4 L384.8,530.3 L385.8,529.2 L386.8,528.1 L387.9,527.1 L388.9,526.0 L390.0,524.9 L391.0,523.8 L392.1,522.7 L393.2,521.7 L394.2,520.6 L395.3,519.5 L396.4,518.5 L397.4,517.4 L398.5,516.4 L399.6,515.3 L400.7,514.3 L401.8,513.2 L402.9,512.2 L403.9,511.1 L405.0,510.1 L406.1,509.1 L407.2,508.0 L408.3,507.0 L409.5,506.0 L410.6,505.0 L411.7,504.0 L412.8,502.9 L413.9,501.9 L415.1,500.9 L416.2,499.9 L417.3,498.9 L418.4,497.9 L419.6,496.9 L420.7,496.0 L421.9,495.0 L423.0,494.0 L424.2,493.0 L425.3,492.1 L426.5,491.1 L427.6,490.1 L428.8,489.2 L430.0,488.2 L431.1,487.3 L432.3,486.3 L433.5,485.4 L434.7,484.5 L435.9,483.5 L437.1,482.6 L438.3,481.7 L439.4,480.7 L440.6,479.8 L441.8,478.9 L443.1,478.0 L444.3,477.1 L445.5,476.2 L446.7,475.3 L447.9,474.4 L449.1,473.6 L450.4,472.7 L451.6,471.8 L452.8,470.9 L454.0,470.1 L455.3,469.2 L456.5,468.3 L457.8,467.5 L459.0,466.7 L460.3,465.8 L461.5,465.0 L462.8,464.1 L464.0,463.3 L465.3,462.5 L466.6,461.7 L467.8,460.9 L469.1,460.1 L470.4,459.3 L471.7,458.5 L473.0,457.7 L474.3,456.9 L475.5,456.1 L476.8,455.3 L478.1,454.6 L479.4,453.8 L480.7,453.0 L482.0,452.3 L483.3,451.5 L484.7,450.8 L486.0,450.0 L487.3,449.3 L488.6,448.6 L489.9,447.9 L491.3,447.1 L492.6,446.4 L493.9,445.7 L495.3,445.0 L496.6,444.3 L497.9,443.6 L499.3,442.9 L500.6,442.3 L502.0,441.6 L503.3,440.9 L504.7,440.3 L506.0,439.6 L507.4,439.0 L508.8,438.3 L510.1,437.7 L511.5,437.0 L512.9,436.4 L514.2,435.8 L515.6,435.2 L517.0,434.5 L518.4,433.9 L519.8,433.3 L521.1,432.7 L522.5,432.2 L523.9,431.6 L525.3,431.0 L526.7,430.4 L528.1,429.9 L529.5,429.3 L530.9,428.7 L532.3,428.2 L533.7,427.6 L535.1,427.1 L536.5,426.6 L537.9,426.0 L539.4,425.5 L540.8,425.0 L542.2,424.5 L543.6,424.0 L545.0,423.5 L546.5,423.0 L547.9,422.5 L549.3,422.0 L550.7,421.5 L552.2,421.1 L553.6,420.6 L555.0,420.1 L556.5,419.7 L557.9,419.2 L559.4,418.8 L560.8,418.3 L562.2,417.9 L563.7,417.5 L565.1,417.0 L566.6,416.6 L568.0,416.2 L569.5,415.8 L570.9,415.4 L572.4,415.0 L573.8,414.6 L575.3,414.2 L576.8,413.8 L578.2,413.5 L579.7,413.1 L581.1,412.7 L582.6,412.3 L584.1,412.0 L585.5,411.6 L587.0,411.3 L588.5,410.9 L589.9,410.6 L591.4,410.3 L592.9,410.0 L592.9,410.0 L593.0,411.5 L593.1,413.0 L593.2,414.5 L593.3,416.0 L593.4,417.5 L593.5,419.0 L593.6,420.5 L593.7,422.1 L593.8,423.6 L593.9,425.1 L594.0,426.6 L594.1,428.1 L594.2,429.6 L594.3,431.1 L594.4,432.6 L594.5,434.1 L594.6,435.6 L594.7,437.1 L594.8,438.6 L594.9,440.1 L595.0,441.6 L595.1,443.1 L595.2,444.6 L595.3,446.1 L595.5,447.7 L595.6,449.2 L595.7,450.7 L595.8,452.2 L595.9,453.7 L596.0,455.2 L596.1,456.7 L596.3,458.2 L596.4,459.7 L596.5,461.2 L596.6,462.7 L596.7,464.2 L596.9,465.7 L597.0,467.2 L597.1,468.7 L597.2,470.2 L597.4,471.7 L597.5,473.2 L597.6,474.7 L597.8,476.2 L597.9,477.7 L598.0,479.2 L598.1,480.7 L598.3,482.3 L598.4,483.8 L598.5,485.3 L598.7,486.8 L598.8,488.3 L598.9,489.8 L599.1,491.3 L599.2,492.8 L599.3,494.3 L599.5,495.8 L599.6,497.3 L599.7,498.8 L599.9,500.3 L600.0,501.8 L600.2,503.3 L600.3,504.8 L600.4,506.3 L600.6,507.8 L600.7,509.3 L600.9,510.8 L601.0,512.3 L601.1,513.8 L601.3,515.3 L601.4,516.8 L601.6,518.3 L601.7,519.8 L601.8,521.3 L602.0,522.8 L602.1,524.3 L602.3,525.8 L602.4,527.3 L602.5,528.9 L602.7,530.4 L602.8,531.9 L603.0,533.4 L603.1,534.9 L603.2,536.4 L603.4,537.9 L603.5,539.4 L603.6,540.9 L603.8,542.4 L603.9,543.9 L604.0,545.4 L604.2,546.9 L604.3,548.4 L604.4,549.9 L604.6,551.4 L604.7,552.9 L604.8,554.4 L605.0,555.9 L605.1,557.4 L605.2,558.9 L605.4,560.4 L605.5,561.9 L605.6,563.4 L605.8,564.9 L605.9,566.4 L606.0,567.9 L606.2,569.4 L606.3,570.9 L606.4,572.5 L606.6,574.0 L606.7,575.5 L606.8,577.0 L606.9,578.5 L607.1,580.0 L607.2,581.5 L607.3,583.0 L607.5,584.5 L607.6,586.0 L607.7,587.5 L607.9,589.0 L608.0,590.5 L608.1,592.0 L608.2,593.5 L608.4,595.0 L608.5,596.5 L608.6,598.0 L608.8,599.5 L608.9,601.0 L609.0,602.5 L609.2,604.0 L609.3,605.5 L609.4,607.0 L609.6,608.5 L609.7,610.1 L609.9,611.6 L610.0,613.1 L610.1,614.6 L610.3,616.1 L610.4,617.6 L610.6,619.1 L610.7,620.6 L610.9,622.1 L611.0,623.6 L611.2,625.1 L611.3,626.6 L611.5,628.1 L611.6,629.6 L611.8,631.1 L611.9,632.6 L612.1,634.1 L612.3,635.6 L612.4,637.1 L612.6,638.6 L612.8,640.1 L613.0,641.6 L613.1,643.1 L613.3,644.6 L613.5,646.1 L613.7,647.6 L613.9,649.1 L614.1,650.6 L614.3,652.1 L614.5,653.6 L614.7,655.1 L614.9,656.5 L615.1,658.0 L615.4,659.5 L615.6,661.0 L615.9,662.5 L616.1,664.0 L616.4,665.5 L616.6,667.0 L616.9,668.5 L617.1,670.0 L617.3,671.4 L617.5,672.9 L617.7,674.4 L617.9,675.9 L618.1,677.4 L618.3,678.9 L618.5,680.4 L618.7,681.9 L618.9,683.4 L619.0,684.9 L619.2,686.4 L619.4,687.9 L619.6,689.4 L619.8,690.9 L620.1,692.4 L620.3,693.9 L620.5,695.4 L620.8,696.9 L621.0,698.4 L621.3,699.8 L621.6,701.3 L621.9,702.8 L622.2,704.3 L622.5,705.8 L622.8,707.3 L623.1,708.7 L623.4,710.2 L623.8,711.7 L624.2,713.1 L624.6,714.6 L625.0,716.0 L625.4,717.5 L625.8,718.9 L626.2,720.4 L626.6,721.8 L627.1,723.3 L627.6,724.7 L628.0,726.2 L628.5,727.6 L629.1,729.0 L629.6,730.4 L630.1,731.8 L630.7,733.3 L631.3,734.7 L631.9,736.1 L632.5,737.5 L633.1,738.8 L633.8,740.1 L634.6,741.4 L635.3,742.7 L636.2,744.0 L637.1,745.2 L638.1,746.4 L639.1,747.5 L640.2,748.5 L641.3,749.5 L642.5,750.4 L643.8,751.3 L645.1,752.1 L646.4,752.9 L647.8,753.5 L649.2,754.0 L650.6,754.4 L652.0,754.8 L653.5,755.2 L655.0,755.5 L656.5,755.8 L658.0,756.0 L659.5,756.2 L661.0,756.4 L662.5,756.5 L664.0,756.6 L665.5,756.7 L667.0,756.8 L668.5,756.9 L670.1,757.0 L671.6,757.1 L673.1,757.1 L674.6,757.2 L676.1,757.3 L677.6,757.3 L679.1,757.4 L680.6,757.4 L682.1,757.5 L683.7,757.5 L685.2,757.6 L686.7,757.6 L688.2,757.7 L689.7,757.7 L691.2,757.8 L692.7,757.8 L694.2,757.9 L695.7,757.9 L697.2,758.0 L698.7,758.0 L700.2,758.1 L701.8,758.1 L703.3,758.2 L704.8,758.2 L706.3,758.2 L707.8,758.3 L709.3,758.3 L710.8,758.4 L712.3,758.4 L713.8,758.4 L715.3,758.5 L716.8,758.5 L718.4,758.5 L719.9,758.6 L721.4,758.6 L722.9,758.6 L724.4,758.7 L725.9,758.7 L727.4,758.7 L728.9,758.7 L730.4,758.7 L731.9,758.8 L733.4,758.8 L735.0,758.8 L736.5,758.8 L738.0,758.8 L739.5,758.8 L741.0,758.8" fill="none" stroke="#1f77b4" stroke-width="4.0" stroke-linejoin="miter" stroke-linecap="round"/>
<path d="M201.0,760.0 L202.2,759.1 L203.5,758.3 L204.7,757.4 L205.9,756.4 L207.0,755.5 L208.2,754.5 L209.3,753.5 L210.4,752.4 L211.5,751.4 L212.5,750.3 L213.6,749.3 L214.7,748.2 L215.8,747.2 L216.9,746.2 L218.0,745.1 L219.0,744.0 L220.1,743.0 L221.2,741.9 L222.3,740.9 L223.4,739.9 L224.5,738.8 L225.6,737.8 L226.7,736.8 L227.8,735.7 L228.9,734.7 L230.0,733.7 L231.1,732.7 L232.3,731.8 L233.5,730.8 L234.7,729.9 L235.9,729.0 L237.2,728.2 L238.5,727.4 L239.8,726.6 L241.1,725.9 L242.4,725.3 L243.8,724.6 L245.2,724.0 L246.6,723.5 L248.0,723.0 L249.4,722.5 L250.9,722.0 L252.3,721.6 L253.8,721.2 L255.2,720.8 L256.7,720.5 L258.2,720.1 L259.7,719.8 L261.1,719.5 L262.6,719.1 L264.1,718.8 L265.5,718.4 L267.0,718.0 L268.4,717.6 L269.9,717.2 L271.3,716.8 L272.8,716.4 L274.2,716.0 L275.7,715.6 L277.1,715.2 L278.6,714.8 L280.1,714.5 L281.5,714.1 L283.0,713.8 L284.5,713.4 L285.9,713.1 L287.4,712.7 L288.9,712.4 L290.3,712.0 L291.8,711.7 L293.3,711.4 L294.8,711.0 L296.2,710.7 L297.7,710.4 L299.2,710.1 L300.7,709.8 L302.1,709.5 L303.6,709.2 L305.1,708.9 L306.6,708.7 L308.1,708.4 L309.5,708.1 L311.0,707.9 L312.5,707.6 L314.0,707.4 L315.5,707.1 L317.0,706.9 L318.5,706.6 L319.9,706.4 L321.4,706.1 L322.9,705.9 L324.4,705.6 L325.9,705.4 L327.4,705.1 L328.9,704.9 L330.4,704.6 L331.8,704.4 L333.3,704.2 L334.8,703.9 L336.3,703.7 L337.8,703.4 L339.3,703.2 L340.8,702.9 L342.3,702.7 L343.8,702.5 L345.2,702.2 L346.7,702.0 L348.2,701.8 L349.7,701.6 L351.2,701.3 L352.7,701.1 L354.2,700.9 L355.7,700.7 L357.2,700.5 L358.7,700.3 L360.2,700.1 L361.7,699.9 L363.2,699.7 L364.6,699.5 L366.1,699.3 L367.6,699.1 L369.1,698.9 L370.6,698.8 L372.1,698.6 L373.6,698.4 L375.1,698.2 L376.6,698.1 L378.1,697.9 L379.6,697.8 L381.1,697.6 L382.6,697.4 L384.1,697.3 L385.6,697.1 L387.1,697.0 L388.6,696.8 L390.1,696.7 L391.6,696.6 L393.1,696.4 L394.6,696.3 L396.1,696.2 L397.6,696.0 L399.1,695.9 L400.6,695.8 L402.1,695.7 L403.6,695.6 L405.1,695.5 L406.7,695.4 L408.2,695.4 L409.7,695.3 L411.2,695.2 L412.7,695.1 L414.2,694.9 L415.7,694.8 L417.2,694.7 L418.7,694.5 L420.2,694.3 L421.7,694.2 L423.2,694.0 L424.7,693.9 L426.2,693.7 L427.7,693.6 L429.2,693.4 L430.7,693.3 L432.2,693.1 L433.7,693.0 L435.2,692.8 L436.7,692.7 L438.2,692.6 L439.7,692.5 L441.2,692.4 L442.7,692.3 L444.2,692.2 L445.7,692.2 L447.2,692.1 L448.7,692.0 L450.2,691.9 L451.7,691.8 L453.2,691.7 L454.7,691.7 L456.2,691.6 L457.7,691.5 L459.3,691.5 L460.8,691.4 L462.3,691.3 L463.8,691.3 L465.3,691.2 L466.8,691.1 L468.3,691.1 L469.8,691.0 L471.3,691.0 L472.8,690.9 L474.3,690.9 L475.8,690.8 L477.3,690.8 L478.8,690.7 L480.3,690.7 L481.8,690.6 L483.4,690.6 L484.9,690.5 L486.4,690.5 L487.9,690.4 L489.4,690.4 L490.9,690.3 L492.4,690.3 L493.9,690.3 L495.4,690.2 L496.9,690.2 L498.4,690.2 L499.9,690.1 L501.4,690.1 L502.9,690.1 L504.5,690.0 L506.0,690.0 L507.5,690.0 L509.0,690.0 L510.5,689.9 L512.0,689.9 L513.5,689.9 L515.0,689.9 L516.5,689.8 L518.0,689.8 L519.5,689.8 L521.0,689.8 L522.5,689.8 L524.0,689.7 L525.6,689.7 L527.1,689.7 L528.6,689.7 L530.1,689.6 L531.6,689.6 L533.1,689.6 L534.6,689.6 L536.1,689.6 L537.6,689.5 L539.1,689.5 L540.6,689.5 L542.1,689.5 L543.6,689.5 L545.2,689.5 L546.7,689.4 L548.2,689.4 L549.7,689.4 L551.2,689.4 L552.7,689.4 L554.2,689.4 L555.7,689.4 L557.2,689.4 L558.7,689.4 L560.2,689.4 L561.7,689.4 L563.2,689.4 L564.7,689.4 L566.3,689.4 L567.8,689.4 L569.3,689.4 L570.8,689.4 L572.3,689.4 L573.8,689.4 L575.3,689.4 L576.8,689.4 L578.3,689.4 L579.8,689.4 L581.3,689.4 L582.8,689.4 L584.3,689.4 L585.9,689.4 L587.4,689.4 L588.9,689.4 L590.4,689.4 L591.9,689.4 L593.4,689.4 L594.9,689.4 L596.4,689.4 L597.9,689.5 L599.4,689.7 L600.9,690.0 L602.3,690.4 L603.7,690.9 L605.1,691.7 L606.3,692.6 L607.4,693.6 L608.4,694.7 L609.3,695.9 L610.2,697.2 L611.0,698.4 L611.8,699.7 L612.6,701.0 L613.4,702.3 L614.2,703.6 L615.0,704.8 L615.7,706.2 L616.5,707.5 L617.2,708.8 L618.0,710.1 L618.7,711.4 L619.4,712.7 L620.2,714.0 L620.9,715.3 L621.7,716.6 L622.4,717.9 L623.2,719.3 L623.9,720.6 L624.6,721.9 L625.4,723.2 L626.1,724.5 L626.9,725.8 L627.6,727.1 L628.4,728.4 L629.1,729.7 L629.9,731.1 L630.6,732.3 L631.4,733.6 L632.2,734.9 L633.0,736.2 L633.8,737.5 L634.6,738.8 L635.4,740.1 L636.3,741.3 L637.2,742.5 L638.1,743.6 L639.1,744.8 L640.2,745.8 L641.3,746.9 L642.4,747.9 L643.5,748.9 L644.7,749.9 L645.8,750.9 L647.0,751.9 L648.3,752.7 L649.6,753.4 L650.9,754.0 L652.3,754.5 L653.8,755.0 L655.3,755.5 L656.7,755.8 L658.2,756.1 L659.7,756.4 L661.2,756.6 L662.6,756.8 L664.1,757.0 L665.6,757.2 L667.2,757.4 L668.7,757.5 L670.2,757.6 L671.7,757.7 L673.2,757.8 L674.7,757.9 L676.2,758.0 L677.7,758.1 L679.2,758.1 L680.7,758.2 L682.2,758.3 L683.7,758.3 L685.2,758.4 L686.7,758.5 L688.2,758.5 L689.7,758.6 L691.3,758.6 L692.8,758.6 L694.3,758.7 L695.8,758.7 L697.3,758.8 L698.8,758.8 L700.3,758.8 L701.8,758.8 L703.3,758.9 L704.8,758.9 L706.3,758.9 L707.8,758.9 L709.3,758.9 L710.8,759.0 L712.4,759.0 L713.9,759.0 L715.4,759.0 L716.9,759.0 L718.4,759.1 L719.9,759.1 L721.4,759.1 L722.9,759.1 L724.4,759.1 L725.9,759.1 L727.4,759.1 L728.9,759.2 L730.4,759.2 L732.0,759.2 L733.5,759.2 L735.0,759.2 L736.5,759.2 L738.0,759.2 L739.5,759.2 L741.0,759.2" fill="none" stroke="#2ca02c" stroke-width="4.0" stroke-linejoin="round" stroke-linecap="round"/>
<path d="M226.1,758.0 L232.0,756.5 L237.5,754.0 L241.0,752.5 L243.6,751.5 L244.6,743.0 L245.3,750.5 L246.5,748.0 L247.5,750.5 L249.0,747.5 L251.5,749.0 L253.0,746.0 L255.0,747.5 L258.0,744.0 L261.0,745.5 L264.2,742.6 L267.0,742.8 L270.0,738.5 L272.0,740.0 L274.0,736.0 L276.8,735.0 L283.0,733.0 L289.5,731.2 L296.0,727.0 L302.2,723.6 L308.0,721.2 L314.9,720.3 L322.0,714.5 L325.6,712.0 L328.9,710.9 L330.1,708.4 L331.4,711.4 L333.5,711.6 L334.8,711.9 L336.6,713.3 L337.7,713.5 L339.2,713.0 L346.9,706.1 L354.3,700.8 L355.5,698.3 L356.8,701.3 L360.0,703.4 L361.8,703.9 L364.1,706.4 L365.6,706.6 L367.1,706.1 L373.5,697.0 L379.6,689.3 L380.8,686.8 L382.1,689.8 L385.6,695.4 L387.4,696.2 L389.9,700.2 L391.5,700.6 L393.0,700.1 L399.1,690.3 L405.1,682.0 L406.3,679.5 L407.6,682.5 L410.9,690.7 L412.7,691.8 L415.1,697.1 L416.6,697.6 L418.1,697.1 L424.1,686.9 L430.0,678.1 L431.2,675.6 L432.5,678.6 L436.1,687.4 L437.9,688.5 L440.4,694.0 L442.0,694.6 L443.5,694.1 L449.6,683.2 L455.5,673.7 L456.7,671.2 L458.0,674.2 L461.7,684.8 L463.6,686.2 L466.1,692.5 L467.8,693.2 L469.3,692.7 L475.0,681.8 L480.4,672.3 L481.6,669.8 L482.9,672.8 L486.7,682.9 L488.7,684.2 L491.3,690.4 L493.0,691.0 L494.5,690.5 L500.1,677.7 L505.5,666.4 L506.7,663.9 L508.0,666.9 L511.4,681.5 L513.2,683.2 L515.6,691.4 L517.2,692.3 L518.7,691.8 L524.5,679.5 L530.1,668.7 L531.3,666.2 L532.6,669.2 L536.3,681.9 L538.2,683.5 L540.8,690.8 L542.5,691.6 L544.0,691.1 L550.3,678.3 L556.4,667.0 L557.6,664.5 L558.9,667.5 L562.1,681.9 L563.7,683.5 L566.0,691.7 L567.5,692.5 L569.0,692.0 L575.0,680.6 L580.7,670.8 L581.9,668.3 L583.2,671.3 L586.4,684.2 L588.2,685.8 L590.5,693.2 L592.0,694.0 L593.5,693.5 L595.0,694.5 L598.0,692.0 L601.0,689.0 L603.9,687.9 L606.0,691.0 L607.8,699.0 L609.7,707.8 L611.5,718.0 L613.0,725.0 L614.5,729.3 L617.0,733.0 L620.0,737.0 L622.5,741.5 L625.8,745.8 L627.5,748.5 L628.8,754.6 L631.0,756.0 L637.5,757.3 L650.0,758.8 L655.0,760.0" fill="none" stroke="#000" stroke-width="4.0" stroke-linejoin="round" stroke-linecap="round" stroke-opacity="0.5"/>
<path d="M193.1,759.5 L194.4,758.7 L195.6,757.9 L196.9,757.1 L198.2,756.2 L199.4,755.4 L200.7,754.5 L201.9,753.7 L203.1,752.8 L204.4,751.9 L205.6,751.1 L206.8,750.2 L208.0,749.3 L209.2,748.4 L210.4,747.5 L211.6,746.6 L212.8,745.6 L214.0,744.7 L215.2,743.8 L216.4,742.8 L217.5,741.9 L218.7,740.9 L219.9,740.0 L221.0,739.0 L222.2,738.1 L223.4,737.1 L224.6,736.2 L225.8,735.3 L227.0,734.4 L228.2,733.5 L229.4,732.6 L230.6,731.7 L231.9,730.9 L233.2,730.1 L234.4,729.3 L235.8,728.5 L237.1,727.8 L238.4,727.1 L239.8,726.4 L241.1,725.8 L242.5,725.2 L243.9,724.7 L245.3,724.2 L246.8,723.8 L248.3,723.5 L249.7,723.1 L251.2,722.7 L252.6,722.3 L254.1,721.8 L255.5,721.4 L257.0,720.9 L258.4,720.5 L259.8,720.0 L261.3,719.6 L262.7,719.2 L264.2,718.8 L265.6,718.3 L267.1,717.9 L268.5,717.5 L270.0,717.1 L271.4,716.7 L272.9,716.3 L274.3,715.9 L275.8,715.6 L277.3,715.2 L278.7,714.8 L280.2,714.5 L281.6,714.1 L283.1,713.7 L284.6,713.4 L286.0,713.0 L287.5,712.7 L289.0,712.3 L290.4,712.0 L291.9,711.7 L293.4,711.3 L294.9,711.0 L296.3,710.7 L297.8,710.4 L299.3,710.1 L300.8,709.8 L302.2,709.5 L303.7,709.2 L305.2,708.9 L306.7,708.6 L308.2,708.4 L309.6,708.1 L311.1,707.8 L312.6,707.6 L314.1,707.3 L315.6,707.1 L317.1,706.8 L318.6,706.6 L320.0,706.3 L321.5,706.1 L323.0,705.9 L324.5,705.6 L326.0,705.4 L327.5,705.1 L329.0,704.9 L330.5,704.6 L331.9,704.4 L333.4,704.1 L334.9,703.9 L336.4,703.6 L337.9,703.4 L339.4,703.2 L340.9,702.9 L342.4,702.7 L343.8,702.4 L345.3,702.2 L346.8,702.0 L348.3,701.8 L349.8,701.5 L351.3,701.3 L352.8,701.1 L354.3,700.9 L355.8,700.7 L357.3,700.5 L358.8,700.3 L360.3,700.1 L361.7,699.9 L363.2,699.7 L364.7,699.5 L366.2,699.3 L367.7,699.1 L369.2,698.9 L370.7,698.8 L372.2,698.6 L373.7,698.4 L375.2,698.2 L376.7,698.1 L378.2,697.9 L379.7,697.8 L381.2,697.6 L382.7,697.4 L384.2,697.3 L385.7,697.1 L387.2,697.0 L388.7,696.8 L390.2,696.7 L391.7,696.6 L393.2,696.4 L394.7,696.3 L396.2,696.2 L397.7,696.0 L399.2,695.9 L400.7,695.8 L402.2,695.7 L403.7,695.6 L405.2,695.5 L406.7,695.4 L408.2,695.4 L409.7,695.3 L411.2,695.2 L412.7,695.0 L414.2,694.9 L415.8,694.8 L417.3,694.6 L418.8,694.5 L420.3,694.3 L421.8,694.2 L423.2,694.0 L424.7,693.9 L426.2,693.7 L427.7,693.6 L429.2,693.4 L430.7,693.2 L432.2,693.1 L433.7,693.0 L435.3,692.8 L436.8,692.7 L438.3,692.6 L439.8,692.5 L441.3,692.4 L442.8,692.3 L444.3,692.2 L445.8,692.1 L447.3,692.1 L448.8,692.0 L450.3,691.9 L451.8,691.8 L453.3,691.7 L454.8,691.7 L456.3,691.6 L457.8,691.5 L459.3,691.5 L460.8,691.4 L462.3,691.3 L463.8,691.3 L465.3,691.2 L466.9,691.1 L468.4,691.1 L469.9,691.0 L471.4,691.0 L472.9,690.9 L474.4,690.9 L475.9,690.8 L477.4,690.8 L478.9,690.7 L480.4,690.7 L481.9,690.6 L483.4,690.6 L484.9,690.5 L486.4,690.5 L487.9,690.4 L489.4,690.4 L491.0,690.3 L492.5,690.3 L494.0,690.3 L495.5,690.2 L497.0,690.2 L498.5,690.2 L500.0,690.1 L501.5,690.1 L503.0,690.1 L504.5,690.0 L506.0,690.0 L507.5,690.0 L509.0,690.0 L510.5,689.9 L512.0,689.9 L513.6,689.9 L515.1,689.9 L516.6,689.8 L518.1,689.8 L519.6,689.8 L521.1,689.8 L522.6,689.7 L524.1,689.7 L525.6,689.7 L527.1,689.7 L528.6,689.7 L530.1,689.6 L531.6,689.6 L533.1,689.6 L534.7,689.6 L536.2,689.6 L537.7,689.5 L539.2,689.5 L540.7,689.5 L542.2,689.5 L543.7,689.5 L545.2,689.5 L546.7,689.4 L548.2,689.4 L549.7,689.4 L551.2,689.4 L552.7,689.4 L554.2,689.4 L555.8,689.4 L557.3,689.4 L558.8,689.4 L560.3,689.4 L561.8,689.4 L563.3,689.4 L564.8,689.4 L566.3,689.4 L567.8,689.4 L569.3,689.4 L570.8,689.4 L572.3,689.4 L573.8,689.4 L575.3,689.4 L576.9,689.4 L578.4,689.4 L579.9,689.4 L581.4,689.4 L582.9,689.4 L584.4,689.4 L585.9,689.4 L587.4,689.4 L588.9,689.4 L590.4,689.4 L591.9,689.4 L593.4,689.4 L594.9,689.4 L596.4,689.4 L597.9,689.5 L599.4,689.7 L600.9,690.0 L602.4,690.4 L603.8,691.0 L605.1,691.7 L606.3,692.6 L607.4,693.6 L608.4,694.8 L609.4,695.9 L610.2,697.2 L611.0,698.5 L611.9,699.7 L612.7,701.0 L613.4,702.3 L614.2,703.6 L615.0,704.9 L615.7,706.2 L616.5,707.5 L617.2,708.8 L618.0,710.1 L618.7,711.4 L619.5,712.7 L620.2,714.0 L620.9,715.4 L621.7,716.7 L622.4,718.0 L623.2,719.3 L623.9,720.6 L624.7,721.9 L625.4,723.2 L626.2,724.5 L626.9,725.8 L627.6,727.1 L628.4,728.5 L629.1,729.8 L629.9,731.1 L630.7,732.4 L631.4,733.7 L632.2,734.9 L633.0,736.2 L633.8,737.5 L634.6,738.8 L635.4,740.1 L636.3,741.3 L637.2,742.5 L638.1,743.7 L639.1,744.8 L640.2,745.9 L641.3,746.9 L642.4,747.9 L643.5,748.9 L644.7,749.9 L645.9,750.9 L647.1,751.9 L648.3,752.7 L649.6,753.4 L650.9,754.0 L652.4,754.5 L653.8,755.0 L655.3,755.5 L656.8,755.8 L658.2,756.1 L659.7,756.4 L661.2,756.6 L662.7,756.8 L664.2,757.0 L665.7,757.2 L667.2,757.4 L668.7,757.5 L670.2,757.6 L671.7,757.7 L673.2,757.8 L674.7,757.9 L676.2,758.0 L677.7,758.1 L679.2,758.1 L680.7,758.2 L682.2,758.3 L683.7,758.3 L685.2,758.4 L686.7,758.5 L688.3,758.5 L689.8,758.6 L691.3,758.6 L692.8,758.6 L694.3,758.7 L695.8,758.7 L697.3,758.8 L698.8,758.8 L700.3,758.8 L701.8,758.8 L703.3,758.9 L704.8,758.9 L706.3,758.9 L707.8,758.9 L709.3,758.9 L710.9,759.0 L712.4,759.0 L713.9,759.0 L715.4,759.0 L716.9,759.0 L718.4,759.1 L719.9,759.1 L721.4,759.1 L722.9,759.1 L724.4,759.1 L725.9,759.1 L727.4,759.1 L728.9,759.2 L730.4,759.2 L732.0,759.2 L733.5,759.2 L735.0,759.2 L736.5,759.2 L738.0,759.2 L739.5,759.2 L741.0,759.2" fill="none" stroke="#000" stroke-width="4.0" stroke-linejoin="round" stroke-linecap="butt" stroke-dasharray="12.7 5.05"/></g>
<rect x="119.40" y="398.10" width="769.60" height="361.90" fill="none" stroke="#000" stroke-width="3.8"/>
<rect x="149.00" y="785.20" width="444.00" height="361.60" fill="#ebebeb"/>
<line x1="149.00" x2="149.00" y1="1146.80" y2="1125.80" stroke="#000" stroke-width="3.5"/>
<line x1="178.60" x2="178.60" y1="1146.80" y2="1138.00" stroke="#000" stroke-width="2.5"/>
<line x1="208.20" x2="208.20" y1="1146.80" y2="1138.00" stroke="#000" stroke-width="2.5"/>
<line x1="237.80" x2="237.80" y1="1146.80" y2="1138.00" stroke="#000" stroke-width="2.5"/>
<line x1="267.40" x2="267.40" y1="1146.80" y2="1138.00" stroke="#000" stroke-width="2.5"/>
<line x1="297.00" x2="297.00" y1="1146.80" y2="1125.80" stroke="#000" stroke-width="3.5"/>
<line x1="326.60" x2="326.60" y1="1146.80" y2="1138.00" stroke="#000" stroke-width="2.5"/>
<line x1="356.20" x2="356.20" y1="1146.80" y2="1138.00" stroke="#000" stroke-width="2.5"/>
<line x1="385.80" x2="385.80" y1="1146.80" y2="1138.00" stroke="#000" stroke-width="2.5"/>
<line x1="415.40" x2="415.40" y1="1146.80" y2="1138.00" stroke="#000" stroke-width="2.5"/>
<line x1="445.00" x2="445.00" y1="1146.80" y2="1125.80" stroke="#000" stroke-width="3.5"/>
<line x1="474.60" x2="474.60" y1="1146.80" y2="1138.00" stroke="#000" stroke-width="2.5"/>
<line x1="504.20" x2="504.20" y1="1146.80" y2="1138.00" stroke="#000" stroke-width="2.5"/>
<line x1="533.80" x2="533.80" y1="1146.80" y2="1138.00" stroke="#000" stroke-width="2.5"/>
<line x1="563.40" x2="563.40" y1="1146.80" y2="1138.00" stroke="#000" stroke-width="2.5"/>
<line x1="593.00" x2="593.00" y1="1146.80" y2="1125.80" stroke="#000" stroke-width="3.5"/>
<line x1="622.60" x2="622.60" y1="1146.80" y2="1138.00" stroke="#000" stroke-width="2.5"/>
<line x1="652.20" x2="652.20" y1="1146.80" y2="1138.00" stroke="#000" stroke-width="2.5"/>
<line x1="681.80" x2="681.80" y1="1146.80" y2="1138.00" stroke="#000" stroke-width="2.5"/>
<line x1="711.40" x2="711.40" y1="1146.80" y2="1138.00" stroke="#000" stroke-width="2.5"/>
<line x1="741.00" x2="741.00" y1="1146.80" y2="1125.80" stroke="#000" stroke-width="3.5"/>
<line x1="770.60" x2="770.60" y1="1146.80" y2="1138.00" stroke="#000" stroke-width="2.5"/>
<line x1="800.20" x2="800.20" y1="1146.80" y2="1138.00" stroke="#000" stroke-width="2.5"/>
<line x1="829.80" x2="829.80" y1="1146.80" y2="1138.00" stroke="#000" stroke-width="2.5"/>
<line x1="859.40" x2="859.40" y1="1146.80" y2="1138.00" stroke="#000" stroke-width="2.5"/>
<line x1="119.40" x2="140.40" y1="1146.80" y2="1146.80" stroke="#000" stroke-width="3.5"/>
<line x1="889.00" x2="868.00" y1="1146.80" y2="1146.80" stroke="#000" stroke-width="3.5"/>
<line x1="119.40" x2="128.20" y1="1125.53" y2="1125.53" stroke="#000" stroke-width="2.5"/>
<line x1="889.00" x2="880.20" y1="1125.53" y2="1125.53" stroke="#000" stroke-width="2.5"/>
<line x1="119.40" x2="128.20" y1="1104.26" y2="1104.26" stroke="#000" stroke-width="2.5"/>
<line x1="889.00" x2="880.20" y1="1104.26" y2="1104.26" stroke="#000" stroke-width="2.5"/>
<line x1="119.40" x2="128.20" y1="1082.99" y2="1082.99" stroke="#000" stroke-width="2.5"/>
<line x1="889.00" x2="880.20" y1="1082.99" y2="1082.99" stroke="#000" stroke-width="2.5"/>
<line x1="119.40" x2="140.40" y1="1061.72" y2="1061.72" stroke="#000" stroke-width="3.5"/>
<line x1="889.00" x2="868.00" y1="1061.72" y2="1061.72" stroke="#000" stroke-width="3.5"/>
<line x1="119.40" x2="128.20" y1="1040.45" y2="1040.45" stroke="#000" stroke-width="2.5"/>
<line x1="889.00" x2="880.20" y1="1040.45" y2="1040.45" stroke="#000" stroke-width="2.5"/>
<line x1="119.40" x2="128.20" y1="1019.18" y2="1019.18" stroke="#000" stroke-width="2.5"/>
<line x1="889.00" x2="880.20" y1="1019.18" y2="1019.18" stroke="#000" stroke-width="2.5"/>
<line x1="119.40" x2="128.20" y1="997.91" y2="997.91" stroke="#000" stroke-width="2.5"/>
<line x1="889.00" x2="880.20" y1="997.91" y2="997.91" stroke="#000" stroke-width="2.5"/>
<line x1="119.40" x2="140.40" y1="976.64" y2="976.64" stroke="#000" stroke-width="3.5"/>
<line x1="889.00" x2="868.00" y1="976.64" y2="976.64" stroke="#000" stroke-width="3.5"/>
<line x1="119.40" x2="128.20" y1="955.36" y2="955.36" stroke="#000" stroke-width="2.5"/>
<line x1="889.00" x2="880.20" y1="955.36" y2="955.36" stroke="#000" stroke-width="2.5"/>
<line x1="119.40" x2="128.20" y1="934.09" y2="934.09" stroke="#000" stroke-width="2.5"/>
<line x1="889.00" x2="880.20" y1="934.09" y2="934.09" stroke="#000" stroke-width="2.5"/>
<line x1="119.40" x2="128.20" y1="912.82" y2="912.82" stroke="#000" stroke-width="2.5"/>
<line x1="889.00" x2="880.20" y1="912.82" y2="912.82" stroke="#000" stroke-width="2.5"/>
<line x1="119.40" x2="140.40" y1="891.55" y2="891.55" stroke="#000" stroke-width="3.5"/>
<line x1="889.00" x2="868.00" y1="891.55" y2="891.55" stroke="#000" stroke-width="3.5"/>
<line x1="119.40" x2="128.20" y1="870.28" y2="870.28" stroke="#000" stroke-width="2.5"/>
<line x1="889.00" x2="880.20" y1="870.28" y2="870.28" stroke="#000" stroke-width="2.5"/>
<line x1="119.40" x2="128.20" y1="849.01" y2="849.01" stroke="#000" stroke-width="2.5"/>
<line x1="889.00" x2="880.20" y1="849.01" y2="849.01" stroke="#000" stroke-width="2.5"/>
<line x1="119.40" x2="128.20" y1="827.74" y2="827.74" stroke="#000" stroke-width="2.5"/>
<line x1="889.00" x2="880.20" y1="827.74" y2="827.74" stroke="#000" stroke-width="2.5"/>
<line x1="119.40" x2="140.40" y1="806.47" y2="806.47" stroke="#000" stroke-width="3.5"/>
<line x1="889.00" x2="868.00" y1="806.47" y2="806.47" stroke="#000" stroke-width="3.5"/>
<line x1="119.40" x2="128.20" y1="785.20" y2="785.20" stroke="#000" stroke-width="2.5"/>
<line x1="889.00" x2="880.20" y1="785.20" y2="785.20" stroke="#000" stroke-width="2.5"/>
<text x="104.80" y="1158.60" text-anchor="end" font-size="31.25">0</text>
<text x="104.80" y="1073.52" text-anchor="end" font-size="31.25">2</text>
<text x="104.80" y="988.44" text-anchor="end" font-size="31.25">4</text>
<text x="104.80" y="903.35" text-anchor="end" font-size="31.25">6</text>
<text x="104.80" y="818.27" text-anchor="end" font-size="31.25">8</text>
<g clip-path="url(#clipc)"><path d="M220.6,760.0 L220.9,777.4 L221.2,794.5 L221.5,802.4 L221.8,819.5 L222.1,802.9 L222.7,803.2 L223.2,859.2 L223.8,851.5 L224.3,847.2 L224.9,877.8 L225.4,853.6 L226.0,842.5 L226.5,861.3 L227.1,855.5 L227.6,901.1 L228.2,898.0 L228.7,880.0 L229.3,881.2 L229.5,882.4 L229.8,885.1 L230.0,883.4 L230.3,886.7 L230.5,884.8 L230.8,886.2 L231.0,886.5 L231.3,892.8 L231.5,888.5 L231.8,893.1 L232.0,895.2 L232.3,898.3 L232.5,899.2 L232.8,899.5 L233.0,900.7 L233.3,903.4 L233.5,905.1 L233.8,915.3 L234.0,923.2 L234.3,935.3 L234.5,948.7 L234.8,953.7 L235.0,960.8 L235.3,970.0 L235.5,972.4 L235.8,981.2 L236.0,988.4 L236.3,993.2 L238.0,999.0 L239.5,1002.9 L240.7,998.0 L241.9,995.6 L242.5,1008.0 L243.1,1022.0 L244.0,1008.0 L244.6,1030.0 L245.5,1051.3 L246.3,1020.0 L247.0,1026.0 L247.6,1000.0 L248.4,992.0 L249.9,992.0 L251.0,996.0 L252.0,990.5 L253.5,990.8 L254.3,1000.0 L255.2,1010.0 L255.7,1015.0 L256.6,1003.0 L257.6,1004.0 L259.0,1003.5 L260.3,1009.0 L261.3,1010.0 L262.5,1016.0 L263.7,1021.0 L265.0,1019.5 L267.0,1027.0 L269.7,1034.3 L271.0,1031.0 L272.2,1023.4 L273.0,1037.0 L274.0,1025.0 L275.0,1030.0 L275.8,1028.0 L276.5,1042.8 L278.0,1041.0 L280.0,1043.0 L281.8,1044.0 L284.0,1046.0 L286.5,1050.0 L289.1,1052.5 L292.0,1055.8 L294.0,1056.2 L296.4,1058.5 L299.0,1059.0 L301.0,1061.3 L303.6,1061.7 L306.0,1060.8 L308.5,1061.6 L310.9,1061.0 L313.0,1063.0 L316.9,1069.4 L320.0,1072.7 L323.0,1075.5 L326.0,1076.5 L329.0,1076.7 L330.8,1074.0 L332.7,1069.5 L333.2,1068.8 L333.9,1068.0 L334.6,1067.3 L335.3,1066.8 L336.0,1066.5 L336.7,1066.3 L337.4,1066.2 L338.1,1066.3 L338.8,1066.8 L339.5,1067.5 L340.2,1068.4 L340.9,1069.5 L341.6,1070.7 L342.3,1072.0 L343.0,1073.3 L343.7,1074.6 L344.4,1075.9 L345.1,1077.0 L345.8,1077.9 L346.5,1078.9 L347.2,1079.9 L347.9,1081.0 L348.6,1082.1 L349.3,1083.1 L350.0,1083.9 L350.7,1084.7 L351.4,1085.2 L352.1,1085.4 L352.8,1085.3 L353.5,1084.9 L354.2,1084.3 L354.9,1083.5 L355.6,1082.4 L356.3,1081.2 L357.0,1079.9 L357.7,1078.6 L358.4,1077.2 L359.1,1075.8 L359.8,1074.5 L360.5,1073.3 L361.2,1072.2 L361.9,1071.3 L362.6,1070.6 L363.3,1070.2 L364.0,1070.0 L364.7,1070.2 L365.4,1070.7 L366.1,1071.4 L366.8,1072.4 L367.5,1073.6 L368.2,1074.9 L368.9,1076.2 L369.6,1077.6 L370.3,1078.9 L371.0,1080.1 L371.7,1081.3 L372.4,1082.2 L373.1,1083.2 L373.8,1084.3 L374.5,1085.4 L375.2,1086.5 L375.9,1087.5 L376.6,1088.4 L377.3,1089.1 L378.0,1089.6 L378.7,1089.8 L379.4,1089.6 L380.1,1089.1 L380.8,1088.2 L381.5,1087.1 L382.2,1085.7 L382.9,1084.1 L383.6,1082.5 L384.3,1080.7 L385.0,1079.0 L385.7,1077.3 L386.4,1075.7 L387.1,1074.3 L387.8,1073.1 L388.5,1072.1 L389.2,1071.5 L389.9,1071.2 L390.6,1071.3 L391.3,1071.8 L392.0,1072.5 L392.7,1073.5 L393.4,1074.7 L394.1,1076.0 L394.8,1077.4 L395.5,1078.8 L396.2,1080.2 L396.9,1081.6 L397.6,1082.8 L398.3,1083.9 L399.0,1084.9 L399.7,1086.1 L400.4,1087.2 L401.1,1088.4 L401.8,1089.5 L402.5,1090.5 L403.2,1091.4 L403.9,1092.1 L404.6,1092.5 L405.3,1092.7 L406.0,1092.4 L406.7,1091.7 L407.4,1090.5 L408.1,1089.0 L408.8,1087.2 L409.5,1085.2 L410.2,1083.1 L410.9,1081.1 L411.6,1079.0 L412.3,1077.1 L413.0,1075.4 L413.7,1073.9 L414.4,1072.9 L415.1,1072.2 L415.8,1072.1 L416.5,1072.4 L417.2,1073.0 L417.9,1073.9 L418.6,1075.0 L419.3,1076.2 L420.0,1077.6 L420.7,1079.0 L421.4,1080.4 L422.1,1081.8 L422.8,1083.1 L423.5,1084.2 L424.2,1085.2 L424.9,1086.3 L425.6,1087.5 L426.3,1088.6 L427.0,1089.7 L427.7,1090.7 L428.4,1091.6 L429.1,1092.2 L429.8,1092.6 L430.5,1092.7 L431.2,1092.3 L431.9,1091.5 L432.6,1090.4 L433.3,1088.9 L434.0,1087.3 L434.7,1085.4 L435.4,1083.5 L436.1,1081.5 L436.8,1079.5 L437.5,1077.6 L438.2,1075.8 L438.9,1074.2 L439.6,1072.9 L440.3,1071.9 L441.0,1071.3 L441.7,1071.1 L442.4,1071.4 L443.1,1071.9 L443.8,1072.8 L444.5,1074.0 L445.2,1075.3 L445.9,1076.7 L446.6,1078.2 L447.3,1079.7 L448.0,1081.2 L448.7,1082.6 L449.4,1083.8 L450.1,1084.9 L450.8,1086.0 L451.5,1087.2 L452.2,1088.5 L452.9,1089.7 L453.6,1090.8 L454.3,1091.8 L455.0,1092.5 L455.7,1093.1 L456.4,1093.3 L457.1,1093.1 L457.8,1092.3 L458.5,1091.0 L459.2,1089.4 L459.9,1087.4 L460.6,1085.3 L461.3,1083.0 L462.0,1080.8 L462.7,1078.6 L463.4,1076.5 L464.1,1074.7 L464.8,1073.3 L465.5,1072.3 L466.2,1071.8 L466.9,1071.9 L467.6,1072.4 L468.3,1073.1 L469.0,1074.2 L469.7,1075.4 L470.4,1076.8 L471.1,1078.3 L471.8,1079.8 L472.5,1081.3 L473.2,1082.8 L473.9,1084.1 L474.6,1085.2 L475.3,1086.3 L476.0,1087.5 L476.7,1088.7 L477.4,1090.0 L478.1,1091.2 L478.8,1092.2 L479.5,1093.1 L480.2,1093.8 L480.9,1094.2 L481.6,1094.3 L482.3,1093.8 L483.0,1092.8 L483.7,1091.4 L484.4,1089.7 L485.1,1087.7 L485.8,1085.6 L486.5,1083.4 L487.2,1081.2 L487.9,1079.1 L488.6,1077.2 L489.3,1075.6 L490.0,1074.4 L490.7,1073.6 L491.4,1073.4 L492.1,1073.7 L492.8,1074.2 L493.5,1075.1 L494.2,1076.2 L494.9,1077.5 L495.6,1078.9 L496.3,1080.4 L497.0,1081.9 L497.7,1083.4 L498.4,1084.7 L499.1,1085.9 L499.8,1087.0 L500.5,1088.1 L501.2,1089.3 L501.9,1090.5 L502.6,1091.7 L503.3,1092.8 L504.0,1093.8 L504.7,1094.6 L505.4,1095.1 L506.1,1095.3 L506.8,1095.1 L507.5,1094.3 L508.2,1093.0 L508.9,1091.4 L509.6,1089.4 L510.3,1087.3 L511.0,1085.0 L511.7,1082.7 L512.4,1080.5 L513.1,1078.4 L513.8,1076.6 L514.5,1075.1 L515.2,1074.0 L515.9,1073.5 L516.6,1073.5 L517.3,1073.8 L518.0,1074.5 L518.7,1075.5 L519.4,1076.6 L520.1,1077.9 L520.8,1079.3 L521.5,1080.7 L522.2,1082.1 L522.9,1083.5 L523.6,1084.7 L524.3,1085.8 L525.0,1086.8 L525.7,1087.9 L526.4,1089.1 L527.1,1090.2 L527.8,1091.3 L528.5,1092.3 L529.2,1093.2 L529.9,1093.8 L530.6,1094.2 L531.3,1094.3 L532.0,1093.9 L532.7,1093.1 L533.4,1091.9 L534.1,1090.4 L534.8,1088.7 L535.5,1086.9 L536.2,1084.9 L536.9,1082.9 L537.6,1081.0 L538.3,1079.2 L539.0,1077.6 L539.7,1076.3 L540.4,1075.2 L541.1,1074.6 L541.8,1074.4 L542.5,1074.7 L543.2,1075.3 L543.9,1076.2 L544.6,1077.4 L545.3,1078.7 L546.0,1080.2 L546.7,1081.7 L547.4,1083.3 L548.1,1084.7 L548.8,1086.1 L549.5,1087.3 L550.2,1088.4 L550.9,1089.6 L551.6,1090.8 L552.3,1092.0 L553.0,1093.2 L553.7,1094.3 L554.4,1095.1 L555.1,1095.7 L555.8,1096.0 L556.5,1095.8 L557.2,1095.1 L557.9,1093.9 L558.6,1092.3 L559.3,1090.4 L560.0,1088.3 L560.7,1086.0 L561.4,1083.7 L562.1,1081.5 L562.8,1079.4 L563.5,1077.6 L564.2,1076.1 L564.9,1075.0 L565.6,1074.5 L566.3,1074.5 L567.0,1074.8 L567.7,1075.4 L568.4,1076.3 L569.1,1077.3 L569.8,1078.5 L570.5,1079.8 L571.2,1081.1 L571.9,1082.5 L572.6,1083.8 L573.3,1085.0 L574.0,1086.1 L574.7,1087.0 L575.4,1088.0 L576.1,1089.1 L576.8,1090.2 L577.5,1091.3 L578.2,1092.3 L578.9,1093.2 L579.6,1094.0 L580.3,1094.6 L581.0,1094.9 L581.7,1095.0 L582.4,1094.5 L583.1,1093.5 L583.8,1092.1 L584.5,1090.4 L585.2,1088.4 L585.9,1086.3 L586.6,1084.2 L587.3,1082.1 L588.0,1080.2 L588.7,1078.6 L589.4,1077.3 L590.1,1076.4 L590.8,1076.1 L591.5,1076.3 L592.2,1076.9 L592.9,1077.8 L593.6,1079.0 L594.3,1080.4 L595.0,1081.9 L595.7,1083.6 L596.4,1085.3 L597.1,1086.9 L597.8,1088.5 L598.5,1090.0 L599.2,1091.3 L599.9,1092.5 L600.6,1093.8 L601.3,1095.2 L602.0,1096.6 L602.7,1097.9 L603.4,1099.1 L604.1,1100.2 L604.8,1101.1 L605.5,1101.7 L606.2,1102.0 L606.9,1101.7 L607.6,1100.3 L608.3,1097.9 L609.0,1094.7 L609.7,1090.9 L610.4,1086.8 L611.0,1083.0 L613.5,1072.5 L615.3,1069.2 L616.8,1068.7 L618.3,1070.0 L619.5,1075.0 L620.5,1082.0 L622.0,1085.5 L623.5,1083.5 L625.0,1086.6 L626.2,1086.6 L626.8,1100.0 L627.3,1160.0" fill="none" stroke="#000" stroke-width="4.0" stroke-linejoin="round" stroke-linecap="round" stroke-opacity="0.5"/>
<path d="M193.3,1146.8 L193.3,1145.3 L193.3,1143.8 L193.3,1142.3 L193.3,1140.8 L193.3,1139.3 L193.3,1137.8 L193.3,1136.3 L193.3,1134.8 L193.3,1133.3 L193.3,1131.8 L193.3,1130.3 L193.3,1128.8 L193.3,1127.3 L193.4,1125.8 L193.4,1124.3 L193.4,1122.8 L193.4,1121.3 L193.4,1119.8 L193.4,1118.3 L193.4,1116.8 L193.4,1115.3 L193.4,1113.8 L193.4,1112.3 L193.4,1110.8 L193.4,1109.3 L193.4,1107.8 L193.4,1106.3 L193.4,1104.7 L193.4,1103.2 L193.4,1101.7 L193.4,1100.2 L193.4,1098.7 L193.4,1097.2 L193.4,1095.7 L193.4,1094.2 L193.4,1092.7 L193.4,1091.2 L193.4,1089.7 L193.4,1088.2 L193.5,1086.7 L193.5,1085.2 L193.5,1083.7 L193.5,1082.2 L193.5,1080.7 L193.5,1079.2 L193.5,1077.7 L193.5,1076.2 L193.5,1074.7 L193.5,1073.2 L193.5,1071.7 L193.5,1070.2 L193.5,1068.7 L193.5,1067.2 L193.5,1065.7 L193.5,1064.2 L193.5,1062.7 L193.5,1061.2 L193.5,1059.7 L193.5,1058.2 L193.5,1056.7 L193.5,1055.2 L193.5,1053.7 L193.5,1052.2 L193.6,1050.7 L193.6,1049.2 L193.6,1047.7 L193.6,1046.2 L193.6,1044.7 L193.6,1043.2 L193.6,1041.7 L193.6,1040.2 L193.6,1038.7 L193.6,1037.2 L193.6,1035.7 L193.6,1034.2 L193.6,1032.7 L193.6,1031.2 L193.6,1029.7 L193.6,1028.2 L193.6,1026.7 L193.6,1025.2 L193.6,1023.7 L193.6,1022.2 L193.6,1020.6 L193.6,1019.1 L193.6,1017.6 L193.7,1016.1 L193.7,1014.6 L193.7,1013.1 L193.7,1011.6 L193.7,1010.1 L193.7,1008.6 L193.7,1007.1 L193.7,1005.6 L193.7,1004.1 L193.7,1002.6 L193.7,1001.1 L193.7,999.6 L193.7,998.1 L193.7,996.6 L193.7,995.1 L193.7,993.6 L193.7,992.1 L193.7,990.6 L193.7,989.1 L193.7,987.6 L193.7,986.1 L193.7,984.6 L193.8,983.1 L193.8,981.6 L193.8,980.1 L193.8,978.6 L193.8,977.1 L193.8,975.6 L193.8,974.1 L193.8,972.6 L193.8,971.1 L193.8,969.6 L193.8,968.1 L193.8,966.6 L193.8,965.1 L193.8,963.6 L193.8,962.1 L193.8,960.6 L193.8,959.1 L193.8,957.6 L193.8,956.1 L193.8,954.6 L193.8,953.1 L193.8,951.6 L193.9,950.1 L193.9,948.6 L193.9,947.1 L193.9,945.6 L193.9,944.1 L193.9,942.6 L193.9,941.1 L193.9,939.6 L193.9,938.1 L193.9,936.5 L193.9,935.0 L193.9,933.5 L193.9,932.0 L193.9,930.5 L193.9,929.0 L193.9,927.5 L193.9,926.0 L193.9,924.5 L193.9,923.0 L193.9,921.5 L193.9,920.0 L194.0,918.5 L194.0,917.0 L194.0,915.5 L194.0,914.0 L194.0,912.5 L194.0,911.0 L194.0,909.5 L194.0,908.0 L194.0,906.5 L194.0,905.0 L194.0,903.5 L194.0,902.0 L194.0,900.5 L194.0,899.0 L194.0,897.5 L194.0,896.0 L194.0,894.5 L194.0,893.0 L194.0,891.5 L194.0,890.0 L194.1,888.5 L194.1,887.0 L194.1,885.5 L194.1,884.0 L194.1,882.5 L194.1,881.0 L194.1,879.5 L194.1,878.0 L194.1,876.5 L194.1,875.0 L194.1,873.5 L194.1,872.0 L194.1,870.5 L194.1,869.0 L194.1,867.5 L194.1,866.0 L194.1,864.5 L194.1,863.0 L194.2,861.5 L194.2,860.0 L194.2,858.5 L194.2,857.0 L194.2,855.5 L194.2,854.0 L194.2,852.4 L194.2,850.9 L194.2,849.4 L194.2,847.9 L194.2,846.4 L194.2,844.9 L194.2,843.4 L194.2,841.9 L194.2,840.4 L194.2,838.9 L194.2,837.4 L194.3,835.9 L194.3,834.4 L194.3,832.9 L194.3,831.4 L194.3,829.9 L194.3,828.4 L194.3,826.9 L194.3,825.4 L194.3,823.9 L194.3,822.4 L194.3,820.9 L194.3,819.4 L194.3,817.9 L194.3,816.4 L194.3,814.9 L194.3,813.4 L194.3,811.9 L194.3,810.4 L194.4,808.9 L194.4,807.4 L194.4,805.9 L194.4,804.4 L194.4,802.9 L194.4,801.4 L194.4,799.9 L194.4,798.4 L194.4,796.9 L194.4,795.4 L194.4,793.9 L194.4,792.4 L194.4,790.9 L194.5,789.4 L194.5,787.9 L194.5,786.4 L194.5,784.9 L194.5,783.4 L194.5,781.9 L194.5,780.4 L194.5,778.9 L194.5,777.4 L194.5,775.9 L194.6,774.4 L194.6,772.9 L194.6,771.4 L194.6,769.9 L194.6,768.3 L194.6,766.6 L194.7,764.7 L194.7,762.8 L194.7,760.9 L194.7,758.9 L194.8,756.9 L194.8,754.9 L194.9,753.0 L194.9,751.0 L194.9,749.2 L195.0,747.5 L195.0,745.9 L195.1,744.4 L195.1,743.1 L195.1,742.0 L195.2,741.2 L195.2,740.5 L195.3,740.1 L195.3,740.0 L195.3,740.2 L195.4,740.6 L195.4,741.3 L195.5,742.3 L195.5,743.4 L195.6,744.8 L195.6,746.3 L195.6,747.9 L195.7,749.6 L195.7,751.5 L195.8,753.4 L195.8,755.4 L195.9,757.4 L195.9,759.4 L196.0,761.3 L196.0,763.3 L196.1,765.2 L196.1,767.0 L196.2,768.6 L196.2,770.2 L196.3,771.7 L196.3,773.2 L196.3,774.7 L196.4,776.2 L196.4,777.7 L196.5,779.2 L196.5,780.7 L196.5,782.2 L196.6,783.7 L196.6,785.2 L196.7,786.7 L196.7,788.2 L196.8,789.7 L196.8,791.2 L196.8,792.7 L196.9,794.2 L196.9,795.7 L197.0,797.2 L197.1,798.7 L197.1,800.2 L197.2,801.7 L197.2,803.2 L197.3,804.7 L197.4,806.2 L197.4,807.7 L197.5,809.2 L197.6,810.7 L197.7,812.2 L197.8,813.7 L197.8,815.2 L197.9,816.7 L198.0,818.2 L198.1,819.7 L198.2,821.2 L198.2,822.7 L198.3,824.2 L198.4,825.7 L198.5,827.2 L198.6,828.7 L198.6,830.2 L198.7,831.7 L198.8,833.2 L198.9,834.7 L199.0,836.2 L199.0,837.7 L199.1,839.2 L199.2,840.7 L199.3,842.2 L199.4,843.7 L199.5,845.2 L199.6,846.7 L199.7,848.2 L199.8,849.7 L199.8,851.2 L199.9,852.7 L200.0,854.2 L200.1,855.7 L200.2,857.2 L200.3,858.7 L200.4,860.2 L200.5,861.7 L200.6,863.2 L200.7,864.7 L200.8,866.2 L200.9,867.7 L201.0,869.2 L201.1,870.7 L201.2,872.2 L201.3,873.7 L201.4,875.2 L201.5,876.7 L201.6,878.2 L201.7,879.7 L201.9,881.2 L202.0,882.7 L202.1,884.2 L202.2,885.7 L202.3,887.2 L202.5,888.7 L202.6,890.2 L202.7,891.7 L202.8,893.1 L203.0,894.6 L203.1,896.1 L203.3,897.6 L203.4,899.1 L203.5,900.6 L203.7,902.1 L203.8,903.6 L204.0,905.1 L204.1,906.6 L204.3,908.1 L204.4,909.6 L204.6,911.1 L204.7,912.6 L204.9,914.1 L205.1,915.6 L205.2,917.1 L205.4,918.6 L205.5,920.0 L205.7,921.5 L205.9,923.0 L206.0,924.5 L206.2,926.0 L206.4,927.5 L206.6,929.0 L206.8,930.5 L207.0,932.0 L207.1,933.5 L207.3,935.0 L207.5,936.4 L207.7,937.9 L207.9,939.4 L208.1,940.9 L208.3,942.4 L208.5,943.9 L208.7,945.4 L209.0,946.9 L209.2,948.4 L209.4,949.8 L209.6,951.3 L209.8,952.8 L210.0,954.3 L210.2,955.8 L210.5,957.3 L210.7,958.8 L210.9,960.2 L211.1,961.7 L211.4,963.2 L211.6,964.7 L211.8,966.2 L212.1,967.7 L212.3,969.1 L212.6,970.6 L212.8,972.1 L213.1,973.6 L213.3,975.1 L213.6,976.5 L213.9,978.0 L214.2,979.5 L214.4,981.0 L214.7,982.4 L215.0,983.9 L215.3,985.4 L215.6,986.9 L216.0,988.3 L216.3,989.8 L216.6,991.3 L217.0,992.7 L217.3,994.2 L217.7,995.6 L218.0,997.1 L218.4,998.6 L218.8,1000.0 L219.2,1001.4 L219.6,1002.9 L220.0,1004.3 L220.4,1005.8 L220.9,1007.2 L221.3,1008.7 L221.8,1010.1 L222.2,1011.5 L222.7,1013.0 L223.2,1014.4 L223.7,1015.8 L224.2,1017.2 L224.7,1018.6 L225.2,1020.0 L225.7,1021.4 L226.3,1022.8 L226.8,1024.2 L227.4,1025.6 L227.9,1027.0 L228.5,1028.4 L229.1,1029.8 L229.7,1031.2 L230.3,1032.6 L231.0,1033.9 L231.6,1035.3 L232.3,1036.6 L233.0,1037.9 L233.7,1039.2 L234.5,1040.5 L235.3,1041.8 L236.0,1043.1 L236.9,1044.4 L237.7,1045.7 L238.6,1046.9 L239.4,1048.2 L240.3,1049.4 L241.3,1050.5 L242.2,1051.7 L243.2,1052.8 L244.2,1053.9 L245.2,1054.9 L246.3,1056.0 L247.4,1057.1 L248.5,1058.1 L249.7,1059.1 L250.8,1060.1 L252.0,1061.0 L253.3,1062.0 L254.5,1062.8 L255.7,1063.7 L257.0,1064.4 L258.2,1065.2 L259.5,1065.9 L260.8,1066.6 L262.2,1067.2 L263.5,1067.9 L264.9,1068.5 L266.3,1069.1 L267.7,1069.7 L269.1,1070.3 L270.6,1070.8 L272.0,1071.3 L273.4,1071.8 L274.9,1072.3 L276.3,1072.7 L277.7,1073.1 L279.1,1073.6 L280.6,1073.9 L282.0,1074.3 L283.5,1074.7 L285.0,1075.0 L286.4,1075.3 L287.9,1075.7 L289.4,1076.0 L290.9,1076.3 L292.3,1076.6 L293.8,1076.8 L295.3,1077.1 L296.8,1077.4 L298.2,1077.7 L299.7,1078.0 L301.2,1078.2 L302.7,1078.5 L304.2,1078.8 L305.6,1079.0 L307.1,1079.3 L308.6,1079.5 L310.1,1079.8 L311.6,1080.0 L313.0,1080.3 L314.5,1080.5 L316.0,1080.7 L317.5,1081.0 L319.0,1081.2 L320.5,1081.4 L322.0,1081.6 L323.4,1081.8 L324.9,1082.0 L326.4,1082.2 L327.9,1082.4 L329.4,1082.6 L330.9,1082.8 L332.4,1082.9 L333.9,1083.1 L335.4,1083.3 L336.9,1083.4 L338.4,1083.6 L339.8,1083.8 L341.3,1083.9 L342.8,1084.1 L344.3,1084.2 L345.8,1084.4 L347.3,1084.5 L348.8,1084.7 L350.3,1084.8 L351.8,1085.0 L353.3,1085.1 L354.8,1085.2 L356.3,1085.4 L357.8,1085.5 L359.3,1085.6 L360.8,1085.8 L362.3,1085.9 L363.8,1086.0 L365.3,1086.1 L366.8,1086.3 L368.3,1086.4 L369.8,1086.5 L371.3,1086.6 L372.8,1086.8 L374.3,1086.9 L375.7,1087.0 L377.2,1087.1 L378.7,1087.2 L380.2,1087.3 L381.7,1087.4 L383.2,1087.5 L384.7,1087.6 L386.2,1087.7 L387.7,1087.8 L389.2,1087.9 L390.7,1088.0 L392.2,1088.1 L393.7,1088.1 L395.2,1088.2 L396.7,1088.3 L398.2,1088.4 L399.7,1088.5 L401.2,1088.5 L402.7,1088.6 L404.2,1088.7 L405.7,1088.7 L407.2,1088.8 L408.7,1088.9 L410.2,1089.0 L411.7,1089.0 L413.2,1089.1 L414.7,1089.2 L416.2,1089.2 L417.7,1089.3 L419.2,1089.4 L420.7,1089.4 L422.2,1089.5 L423.7,1089.6 L425.2,1089.6 L426.7,1089.7 L428.2,1089.7 L429.7,1089.8 L431.2,1089.9 L432.7,1089.9 L434.2,1090.0 L435.7,1090.0 L437.2,1090.1 L438.7,1090.1 L440.2,1090.2 L441.7,1090.3 L443.2,1090.3 L444.7,1090.4 L446.2,1090.5 L447.7,1090.5 L449.2,1090.6 L450.7,1090.6 L452.2,1090.7 L453.7,1090.8 L455.2,1090.8 L456.7,1090.9 L458.2,1091.0 L459.7,1091.0 L461.2,1091.1 L462.8,1091.2 L464.3,1091.2 L465.8,1091.3 L467.3,1091.3 L468.8,1091.4 L470.3,1091.5 L471.8,1091.5 L473.3,1091.6 L474.8,1091.6 L476.3,1091.7 L477.8,1091.7 L479.3,1091.8 L480.8,1091.8 L482.3,1091.9 L483.8,1091.9 L485.3,1092.0 L486.8,1092.0 L488.3,1092.1 L489.8,1092.1 L491.3,1092.1 L492.8,1092.2 L494.3,1092.2 L495.8,1092.3 L497.3,1092.3 L498.8,1092.3 L500.3,1092.4 L501.8,1092.4 L503.3,1092.5 L504.8,1092.5 L506.3,1092.5 L507.8,1092.6 L509.3,1092.6 L510.8,1092.7 L512.3,1092.7 L513.8,1092.7 L515.3,1092.8 L516.8,1092.8 L518.3,1092.8 L519.8,1092.9 L521.3,1092.9 L522.8,1092.9 L524.3,1093.0 L525.8,1093.0 L527.3,1093.0 L528.8,1093.1 L530.3,1093.1 L531.8,1093.1 L533.3,1093.1 L534.8,1093.2 L536.3,1093.2 L537.8,1093.2 L539.3,1093.2 L540.8,1093.2 L542.3,1093.3 L543.8,1093.3 L545.3,1093.3 L546.8,1093.3 L548.3,1093.3 L549.8,1093.3 L551.3,1093.3 L552.8,1093.3 L554.3,1093.3 L555.8,1093.3 L557.3,1093.3 L558.8,1093.3 L560.3,1093.3 L561.8,1093.3 L563.4,1093.3 L564.9,1093.3 L566.4,1093.3 L567.9,1093.3 L569.4,1093.3 L570.9,1093.3 L572.4,1093.3 L573.9,1093.3 L575.4,1093.3 L576.9,1093.3 L578.4,1093.3 L579.9,1093.3 L581.4,1093.3 L582.9,1093.3 L584.4,1093.3 L585.9,1093.3 L587.4,1093.3 L588.9,1093.3 L590.4,1093.2 L591.9,1093.1 L593.4,1092.8 L594.8,1092.5 L596.3,1092.1 L597.7,1091.6 L599.1,1091.0 L600.4,1090.3 L601.6,1089.5 L602.8,1088.6 L604.1,1087.7 L605.3,1086.8 L606.6,1086.0 L607.8,1085.2 L609.0,1084.3 L610.2,1083.3 L611.4,1082.4 L612.5,1081.4 L613.6,1080.4 L614.8,1079.4 L615.9,1078.4 L617.0,1077.4 L618.1,1076.3 L619.1,1075.3 L620.2,1074.2 L621.2,1073.1 L622.2,1072.0 L623.2,1070.9 L624.2,1069.8 L625.2,1068.6 L626.2,1067.5 L627.1,1066.4 L628.1,1065.2 L629.1,1064.0 L630.0,1062.9 L631.0,1061.8 L632.0,1060.6 L633.0,1059.5 L634.0,1058.3 L634.9,1057.2 L635.9,1056.1 L636.9,1054.9 L637.9,1053.8 L638.9,1052.6 L639.8,1051.5 L640.8,1050.3 L641.8,1049.2 L642.7,1048.0 L643.7,1046.9 L644.6,1045.7 L645.5,1044.5 L646.5,1043.4 L647.5,1042.2 L648.4,1041.0 L649.3,1039.8 L650.1,1038.6 L650.9,1037.3 L651.5,1036.0 L652.2,1034.6 L652.8,1033.2 L653.4,1031.8 L653.9,1030.4 L654.4,1029.0 L654.9,1027.6 L655.4,1026.2 L655.9,1024.8 L656.4,1023.3 L656.9,1021.9 L657.4,1020.5 L657.8,1019.1 L658.3,1017.6 L658.8,1016.2 L659.2,1014.8 L659.7,1013.3 L660.2,1011.9 L660.6,1010.5 L661.1,1009.1 L661.6,1007.6 L662.0,1006.2 L662.5,1004.8 L663.0,1003.4 L663.5,1001.9 L664.0,1000.5 L664.5,999.1 L665.0,997.7 L665.5,996.3 L666.0,994.9 L666.5,993.4 L667.0,992.0 L667.5,990.6 L668.0,989.2 L668.5,987.8 L669.1,986.4 L669.6,985.0 L670.1,983.6 L670.6,982.2 L671.1,980.7 L671.6,979.3 L672.1,977.9 L672.6,976.5 L673.1,975.1 L673.6,973.7 L674.1,972.2 L674.6,970.8 L675.1,969.4 L675.6,968.0 L676.0,966.6 L676.5,965.1 L677.0,963.7 L677.5,962.3 L678.0,960.9 L678.5,959.5 L679.0,958.0 L679.4,956.6 L679.9,955.2 L680.4,953.8 L680.9,952.4 L681.4,950.9 L681.9,949.5 L682.4,948.1 L682.9,946.7 L683.4,945.3 L683.9,943.9 L684.4,942.4 L684.9,941.0 L685.5,939.6 L686.0,938.2 L686.5,936.8 L687.0,935.4 L687.6,934.0 L688.1,932.6 L688.7,931.2 L689.2,929.8 L689.8,928.4 L690.5,927.1 L691.1,925.7 L691.9,924.4 L692.6,923.1 L693.4,921.8 L694.3,920.6 L695.2,919.4 L696.2,918.3 L697.2,917.2 L698.2,916.0 L699.2,914.9 L700.2,913.8 L701.2,912.7 L702.3,911.7 L703.5,910.6 L704.7,909.6 L706.0,908.8 L707.4,908.6 L708.9,908.7 L710.4,908.8 L711.9,909.0 L713.4,909.2 L714.9,909.3 L716.4,909.1 L717.9,908.8 L719.3,908.5 L720.8,908.1 L722.2,907.6 L723.5,906.9 L724.8,906.1 L725.9,905.1 L727.0,904.0 L728.0,903.0 L729.0,901.9 L730.1,900.8 L731.2,899.7 L732.3,898.7 L733.6,898.0 L735.1,897.5 L736.5,897.5 L737.8,898.3 L739.0,899.2 L740.1,900.3 L741.0,901.5" fill="none" stroke="#000" stroke-width="4.0" stroke-linejoin="round" stroke-linecap="butt" stroke-dasharray="12.7 5.05"/></g>
<rect x="119.40" y="785.20" width="769.60" height="361.60" fill="none" stroke="#000" stroke-width="3.8"/>
<text x="149.00" y="1186.2" text-anchor="middle" font-size="31.25">0</text>
<text x="297.00" y="1186.2" text-anchor="middle" font-size="31.25">50</text>
<text x="445.00" y="1186.2" text-anchor="middle" font-size="31.25">100</text>
<text x="593.00" y="1186.2" text-anchor="middle" font-size="31.25">150</text>
<text x="741.00" y="1186.2" text-anchor="middle" font-size="31.25">200</text>
<text x="889.00" y="1186.2" text-anchor="middle" font-size="31.25">250</text>
<text x="504.20" y="1232" text-anchor="middle" font-size="31.25">time [µs]</text>
<text x="0.5" y="30.0" font-size="37.5">a)</text>
<text x="0.5" y="415.5" font-size="37.5">b)</text>
<text x="0.5" y="803.0" font-size="37.5">c)</text>
<text transform="translate(38.5,193) rotate(-90)" text-anchor="middle" font-size="31.25">I<tspan dy="5.5" dx="-0.4" font-size="21.9">D</tspan><tspan dy="-5.5" dx="1.6"> [A], </tspan>P<tspan dy="5.5" dx="-0.4" font-size="21.9">D</tspan><tspan dy="-5.5" dx="1.6"> [kW]</tspan></text>
<text transform="translate(38.7,579) rotate(-90)" text-anchor="middle" font-size="31.25">density [10<tspan dy="-10.4" dx="1.2" font-size="21.9">19</tspan><tspan dy="10.4"> </tspan>m<tspan dy="-10.4" dx="1.2" font-size="21.9">−3</tspan><tspan dy="10.4">]</tspan></text>
<text transform="translate(59,969) rotate(-90)" text-anchor="middle" font-size="31.25">T<tspan dy="5.5" dx="-0.4" font-size="21.9">e</tspan><tspan dy="-5.5" dx="1.6"> [eV]</tspan></text>
<text transform="translate(1019,194) rotate(-90)" text-anchor="middle" font-size="31.25">V<tspan dy="5.5" dx="-0.4" font-size="21.9">D</tspan><tspan dy="-5.5" dx="1.6"> [kV]</tspan></text>
<line x1="664.0" x2="727.0" y1="104.0" y2="104.0" stroke="#ff0000" stroke-width="4" stroke-linecap="round"/>
<text x="752.5" y="112.39999999999999" font-size="31.25">V<tspan dy="5.5" dx="-0.4" font-size="21.9">D</tspan><tspan dy="-5.5" dx="1.6"> exp</tspan></text>
<line x1="664.0" x2="727.0" y1="146.4" y2="146.4" stroke="#808080" stroke-width="4" stroke-linecap="round"/>
<text x="752.5" y="154.8" font-size="31.25">I<tspan dy="5.5" dx="-0.4" font-size="21.9">D</tspan><tspan dy="-5.5" dx="1.6"> exp</tspan></text>
<line x1="664.0" x2="727.0" y1="189.6" y2="189.6" stroke="#000000" stroke-width="4" stroke-dasharray="12.7 5.05"/>
<text x="752.5" y="198.0" font-size="31.25">I<tspan dy="5.5" dx="-0.4" font-size="21.9">D</tspan><tspan dy="-5.5" dx="1.6"></tspan></text>
<line x1="664.0" x2="727.0" y1="232.4" y2="232.4" stroke="#7fbf7f" stroke-width="4" stroke-linecap="round"/>
<text x="752.5" y="240.8" font-size="31.25">P<tspan dy="5.5" dx="-0.4" font-size="21.9">D</tspan><tspan dy="-5.5" dx="1.6"> exp</tspan></text>
<line x1="664.0" x2="727.0" y1="275.3" y2="275.3" stroke="#008000" stroke-width="4" stroke-dasharray="12.7 5.05"/>
<text x="752.5" y="283.7" font-size="31.25">P<tspan dy="5.5" dx="-0.4" font-size="21.9">D</tspan><tspan dy="-5.5" dx="1.6"></tspan></text>
<line x1="667.7" x2="730.7" y1="438.8" y2="438.8" stroke="#ff7f0e" stroke-width="4" stroke-linecap="round"/>
<text x="756.5" y="450.40000000000003" font-size="31.25">Ar</text>
<line x1="667.7" x2="730.7" y1="479.0" y2="479.0" stroke="#d62728" stroke-width="4" stroke-linecap="round"/>
<text x="756.5" y="487.3" font-size="31.25">Ar<tspan dy="-13.1" dx="3.9" font-size="21.9">+</tspan><tspan dy="13.1"></tspan></text>
<line x1="667.7" x2="730.7" y1="518.9" y2="518.9" stroke="#1f77b4" stroke-width="4" stroke-linecap="round"/>
<text x="756.5" y="530.1999999999999" font-size="31.25">Cr</text>
<line x1="667.7" x2="730.7" y1="561.7" y2="561.7" stroke="#2ca02c" stroke-width="4" stroke-linecap="round"/>
<text x="756.5" y="569.4" font-size="31.25">Cr<tspan dy="-13.1" dx="3.9" font-size="21.9">+</tspan><tspan dy="13.1"></tspan></text>
<line x1="667.7" x2="730.7" y1="601.1" y2="601.1" stroke="#808080" stroke-width="4" stroke-linecap="round"/>
<text x="756.5" y="609.5" font-size="31.25">n<tspan dy="5.5" dx="-0.4" font-size="21.9">e</tspan><tspan dy="-5.5" dx="1.6"> exp</tspan></text>
<line x1="667.7" x2="730.7" y1="642.4" y2="642.4" stroke="#000000" stroke-width="4" stroke-dasharray="12.7 5.05"/>
<text x="756.5" y="650.8" font-size="31.25">n<tspan dy="5.5" dx="-0.4" font-size="21.9">e</tspan><tspan dy="-5.5" dx="1.6"></tspan></text>
<line x1="667.7" x2="730.7" y1="827.7" y2="827.7" stroke="#808080" stroke-width="4" stroke-linecap="round"/>
<text x="756.5" y="836.0999999999999" font-size="31.25">T<tspan dy="5.5" dx="-0.4" font-size="21.9">e</tspan><tspan dy="-5.5" dx="1.6"> exp</tspan></text>
<line x1="667.7" x2="730.7" y1="870.5" y2="870.5" stroke="#000000" stroke-width="4" stroke-dasharray="12.7 5.05"/>
<text x="756.5" y="878.9" font-size="31.25">T<tspan dy="5.5" dx="-0.4" font-size="21.9">e</tspan><tspan dy="-5.5" dx="1.6"></tspan></text>
</svg>
</body></html>
